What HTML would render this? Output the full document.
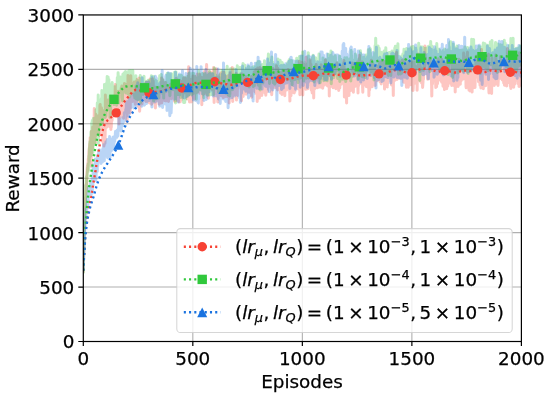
<!DOCTYPE html>
<html><head><meta charset="utf-8"><title>Reward vs Episodes</title>
<style>html,body{margin:0;padding:0;background:#fff}body{width:550px;height:395px;overflow:hidden}</style>
</head><body>
<svg width="550" height="395" viewBox="0 0 550 395" style="display:block">
<rect width="550" height="395" fill="#fff"/>
<path d="M192.82,14.95 V341.5 M302.35,14.95 V341.5 M411.88,14.95 V341.5 M83.3,287.07 H521.4 M83.3,232.65 H521.4 M83.3,178.22 H521.4 M83.3,123.80 H521.4 M83.3,69.38 H521.4" stroke="#b0b0b0" stroke-width="1.1" fill="none"/>
<clipPath id="c"><rect x="83.3" y="14.95" width="438.09999999999997" height="326.55"/></clipPath>
<g clip-path="url(#c)" fill="none" stroke-linejoin="round">
<path d="M83.3,272.6 L83.5,260.8 L83.7,255.3 L84.0,244.3 L84.2,233.9 L84.4,230.1 L84.6,222.6 L84.8,214.7 L85.1,211.5 L85.3,206.5 L85.5,197.8 L85.7,197.4 L85.9,196.7 L86.1,184.5 L86.4,189.2 L86.6,188.4 L86.8,175.9 L87.0,172.5 L87.2,168.7 L87.5,165.5 L87.7,170.7 L87.9,163.6 L88.1,161.9 L88.3,158.7 L88.6,158.5 L88.8,154.8 L89.0,151.1 L89.2,149.1 L89.4,148.1 L89.7,143.7 L89.9,160.5 L90.1,137.8 L90.3,139.0 L90.5,145.2 L90.7,150.0 L91.0,149.7 L91.2,166.3 L91.4,131.2 L91.6,155.4 L91.8,135.4 L92.1,131.2 L92.3,135.9 L92.5,148.6 L92.7,126.9 L92.9,136.6 L93.2,131.6 L93.4,130.7 L93.6,138.4 L93.8,141.8 L94.0,134.0 L94.3,108.6 L94.5,123.8 L94.7,138.7 L94.9,122.6 L95.1,120.2 L95.3,143.3 L95.6,114.0 L95.8,130.5 L96.0,132.3 L96.2,126.4 L96.4,115.9 L96.7,126.2 L96.9,126.6 L97.1,120.0 L97.3,129.8 L97.5,120.2 L97.8,115.9 L98.0,131.7 L98.2,119.3 L98.4,128.0 L98.6,134.8 L98.9,125.8 L99.1,115.4 L99.3,135.5 L99.5,131.8 L99.7,119.0 L99.9,105.6 L100.2,104.5 L100.4,127.3 L100.6,109.7 L100.8,126.0 L101.0,112.1 L101.3,121.8 L101.5,107.7 L101.7,127.8 L101.9,119.3 L102.1,122.2 L102.4,120.6 L102.6,116.0 L102.8,141.7 L103.0,110.4 L103.2,128.2 L103.5,143.7 L103.7,137.9 L103.9,145.9 L104.1,144.8 L104.3,128.0 L104.5,130.7 L104.8,114.8 L105.0,143.2 L105.2,128.4 L105.4,95.1 L105.6,117.5 L105.9,119.8 L106.1,112.8 L106.3,119.7 L106.5,113.6 L106.7,127.2 L107.0,108.7 L107.2,106.3 L107.4,108.2 L107.6,119.4 L107.8,105.0 L108.1,100.1 L108.3,104.6 L108.5,112.2 L108.7,123.3 L108.9,102.9 L109.1,108.6 L109.4,126.6 L109.6,126.6 L109.8,122.1 L110.0,107.6 L110.2,96.3 L110.5,118.8 L110.7,98.0 L110.9,129.4 L111.1,113.9 L111.3,127.1 L111.6,111.7 L111.8,113.7 L112.0,120.8 L112.2,113.2 L112.4,108.9 L112.7,105.4 L112.9,109.2 L113.1,111.6 L113.3,103.9 L113.5,101.9 L113.7,111.6 L114.0,113.4 L114.2,108.4 L114.4,108.4 L114.6,107.5 L114.8,101.6 L115.1,95.3 L115.3,84.6 L115.5,110.7 L115.7,105.0 L115.9,112.7 L116.2,102.9 L116.4,108.1 L116.6,115.0 L116.8,105.5 L117.0,115.6 L117.3,100.9 L117.5,105.1 L117.7,103.0 L117.9,113.9 L118.1,105.4 L118.3,91.3 L118.6,118.1 L118.8,113.1 L119.0,124.1 L119.2,110.8 L119.4,114.8 L119.7,96.1 L119.9,111.4 L120.1,104.2 L120.3,107.8 L120.5,117.2 L120.8,90.4 L121.0,111.7 L121.2,87.9 L121.4,92.1 L121.6,88.1 L121.9,85.9 L122.1,101.8 L122.3,114.2 L122.5,101.9 L122.7,91.9 L122.9,99.5 L123.2,101.7 L123.4,94.6 L123.6,118.2 L123.8,98.3 L124.0,100.9 L124.3,100.0 L124.5,83.6 L124.7,111.3 L124.9,96.0 L125.1,91.4 L125.4,88.1 L125.6,93.5 L125.8,98.2 L126.0,84.5 L126.2,90.0 L126.5,112.9 L126.7,96.2 L126.9,121.6 L127.1,121.0 L127.3,97.0 L127.5,99.9 L127.8,109.3 L128.0,75.4 L128.2,110.3 L128.4,101.5 L128.6,86.5 L128.9,79.1 L129.1,100.0 L129.3,92.3 L129.5,112.6 L129.7,95.0 L130.0,93.9 L130.2,112.9 L130.4,92.7 L130.6,85.1 L130.8,75.8 L131.1,91.2 L131.3,92.4 L131.5,100.2 L131.7,86.3 L131.9,90.2 L132.1,85.3 L132.4,91.1 L132.6,101.5 L132.8,96.2 L133.0,98.7 L133.2,83.6 L133.5,91.5 L133.7,85.9 L133.9,84.8 L134.1,87.1 L134.3,81.9 L134.6,98.8 L134.8,98.1 L135.0,89.6 L135.2,101.8 L135.4,104.3 L135.7,86.3 L135.9,86.3 L136.1,82.0 L136.3,87.9 L136.5,81.2 L136.7,89.4 L137.0,88.2 L137.2,79.3 L137.4,98.9 L137.6,90.4 L137.8,96.1 L138.1,85.5 L138.3,99.1 L138.5,98.1 L138.7,107.0 L138.9,98.3 L139.2,78.0 L139.4,99.1 L139.6,111.2 L139.8,107.7 L140.0,84.7 L140.3,92.9 L140.5,96.1 L140.7,94.7 L140.9,84.2 L141.1,84.7 L141.3,95.6 L141.6,101.4 L141.8,87.3 L142.0,103.9 L142.2,88.1 L142.4,95.6 L142.7,90.1 L142.9,88.3 L143.1,99.3 L143.3,93.1 L143.5,86.4 L143.8,93.8 L144.0,91.5 L144.2,87.9 L144.4,100.1 L144.6,83.9 L144.9,84.7 L145.1,84.0 L145.3,91.7 L145.5,99.8 L145.7,96.2 L145.9,92.6 L146.2,101.6 L146.4,81.9 L146.6,94.7 L146.8,92.9 L147.0,91.2 L147.3,91.9 L147.5,82.3 L147.7,91.5 L147.9,101.3 L148.1,100.8 L148.4,92.1 L148.6,97.7 L148.8,89.1 L149.0,98.7 L149.2,98.9 L149.5,102.9 L149.7,100.0 L149.9,80.4 L150.1,78.9 L150.3,88.3 L150.5,93.8 L150.8,97.5 L151.0,96.4 L151.2,92.2 L151.4,103.7 L151.6,104.1 L151.9,95.9 L152.1,89.7 L152.3,89.6 L152.5,78.8 L152.7,91.8 L153.0,86.3 L153.2,80.9 L153.4,87.8 L153.6,92.9 L153.8,87.1 L154.1,91.8 L154.3,87.9 L154.5,103.0 L154.7,97.7 L154.9,98.4 L155.1,100.4 L155.4,108.0 L155.6,96.1 L155.8,87.2 L156.0,90.6 L156.2,99.8 L156.5,89.5 L156.7,91.9 L156.9,100.2 L157.1,88.6 L157.3,94.9 L157.6,94.0 L157.8,98.2 L158.0,88.2 L158.2,98.8 L158.4,91.5 L158.7,96.0 L158.9,87.3 L159.1,104.2 L159.3,102.8 L159.5,95.0 L159.7,97.9 L160.0,96.1 L160.2,98.4 L160.4,97.4 L160.6,88.7 L160.8,91.1 L161.1,88.7 L161.3,88.5 L161.5,78.0 L161.7,103.0 L161.9,93.3 L162.2,93.5 L162.4,94.7 L162.6,79.7 L162.8,83.5 L163.0,94.6 L163.3,87.7 L163.5,91.2 L163.7,87.2 L163.9,94.7 L164.1,90.6 L164.3,87.4 L164.6,100.6 L164.8,87.6 L165.0,93.2 L165.2,99.6 L165.4,96.0 L165.7,82.4 L165.9,101.1 L166.1,86.7 L166.3,100.5 L166.5,90.6 L166.8,86.9 L167.0,91.7 L167.2,90.3 L167.4,91.1 L167.6,87.6 L167.9,88.8 L168.1,95.7 L168.3,94.6 L168.5,101.4 L168.7,99.4 L168.9,89.6 L169.2,90.4 L169.4,92.5 L169.6,93.7 L169.8,94.3 L170.0,88.1 L170.3,93.1 L170.5,84.3 L170.7,92.7 L170.9,92.6 L171.1,91.7 L171.4,98.8 L171.6,84.1 L171.8,87.3 L172.0,92.9 L172.2,90.1 L172.5,86.4 L172.7,95.9 L172.9,87.9 L173.1,87.2 L173.3,87.3 L173.5,85.1 L173.8,82.2 L174.0,88.0 L174.2,82.0 L174.4,101.2 L174.6,92.4 L174.9,97.4 L175.1,99.2 L175.3,91.6 L175.5,79.7 L175.7,101.0 L176.0,88.7 L176.2,78.4 L176.4,89.7 L176.6,93.5 L176.8,98.2 L177.1,90.0 L177.3,100.3 L177.5,90.9 L177.7,80.1 L177.9,84.9 L178.1,88.8 L178.4,90.3 L178.6,90.3 L178.8,101.2 L179.0,94.5 L179.2,102.0 L179.5,99.2 L179.7,95.9 L179.9,80.2 L180.1,94.2 L180.3,101.7 L180.6,86.5 L180.8,84.7 L181.0,94.9 L181.2,99.6 L181.4,99.4 L181.7,90.6 L181.9,81.6 L182.1,91.8 L182.3,98.1 L182.5,86.9 L182.7,96.1 L183.0,86.4 L183.2,92.2 L183.4,84.6 L183.6,78.0 L183.8,83.9 L184.1,90.7 L184.3,82.3 L184.5,86.8 L184.7,90.9 L184.9,86.3 L185.2,87.3 L185.4,77.9 L185.6,93.3 L185.8,87.6 L186.0,90.4 L186.3,93.5 L186.5,86.8 L186.7,90.1 L186.9,97.4 L187.1,98.9 L187.3,91.9 L187.6,95.0 L187.8,91.9 L188.0,85.5 L188.2,88.7 L188.4,93.8 L188.7,66.8 L188.9,91.8 L189.1,88.9 L189.3,87.1 L189.5,102.1 L189.8,83.5 L190.0,87.7 L190.2,89.1 L190.4,81.0 L190.6,96.3 L190.9,88.6 L191.1,101.9 L191.3,95.6 L191.5,79.2 L191.7,95.2 L191.9,97.6 L192.2,88.8 L192.4,85.5 L192.6,94.1 L192.8,96.1 L193.0,76.0 L193.3,86.0 L193.5,90.7 L193.7,93.1 L193.9,86.4 L194.1,86.1 L194.4,89.0 L194.6,99.1 L194.8,83.6 L195.0,93.3 L195.2,76.5 L195.5,85.0 L195.7,83.9 L195.9,88.1 L196.1,93.0 L196.3,79.3 L196.5,77.8 L196.8,75.8 L197.0,85.4 L197.2,92.0 L197.4,74.1 L197.6,84.8 L197.9,88.5 L198.1,92.2 L198.3,74.9 L198.5,80.5 L198.7,80.8 L199.0,92.6 L199.2,89.3 L199.4,93.3 L199.6,74.1 L199.8,80.9 L200.1,80.2 L200.3,90.2 L200.5,79.8 L200.7,92.0 L200.9,92.9 L201.1,84.3 L201.4,87.2 L201.6,77.2 L201.8,104.8 L202.0,89.0 L202.2,78.1 L202.5,95.5 L202.7,80.8 L202.9,86.5 L203.1,85.7 L203.3,94.0 L203.6,88.3 L203.8,90.8 L204.0,81.0 L204.2,88.0 L204.4,71.4 L204.7,81.6 L204.9,72.7 L205.1,87.7 L205.3,89.5 L205.5,82.2 L205.7,79.4 L206.0,94.1 L206.2,79.6 L206.4,80.1 L206.6,64.5 L206.8,78.0 L207.1,72.9 L207.3,83.6 L207.5,72.7 L207.7,97.5 L207.9,84.1 L208.2,82.4 L208.4,98.3 L208.6,77.4 L208.8,77.4 L209.0,72.9 L209.3,89.4 L209.5,85.4 L209.7,71.7 L209.9,85.1 L210.1,81.2 L210.3,78.1 L210.6,83.2 L210.8,83.0 L211.0,86.6 L211.2,85.0 L211.4,82.7 L211.7,78.0 L211.9,75.2 L212.1,72.1 L212.3,76.2 L212.5,89.7 L212.8,86.6 L213.0,85.1 L213.2,77.5 L213.4,84.9 L213.6,67.6 L213.9,70.3 L214.1,102.6 L214.3,84.5 L214.5,79.9 L214.7,90.8 L214.9,93.8 L215.2,83.9 L215.4,89.1 L215.6,73.0 L215.8,73.7 L216.0,85.0 L216.3,69.1 L216.5,73.9 L216.7,69.0 L216.9,75.2 L217.1,75.6 L217.4,80.1 L217.6,93.2 L217.8,101.9 L218.0,82.3 L218.2,98.4 L218.5,83.9 L218.7,91.1 L218.9,89.1 L219.1,85.9 L219.3,90.0 L219.5,88.8 L219.8,93.5 L220.0,78.9 L220.2,74.7 L220.4,77.7 L220.6,73.1 L220.9,90.2 L221.1,95.8 L221.3,86.7 L221.5,81.6 L221.7,81.5 L222.0,83.9 L222.2,89.3 L222.4,91.9 L222.6,72.3 L222.8,84.0 L223.1,95.4 L223.3,97.6 L223.5,87.3 L223.7,82.7 L223.9,87.6 L224.1,72.6 L224.4,81.9 L224.6,77.4 L224.8,81.7 L225.0,83.5 L225.2,94.7 L225.5,76.5 L225.7,96.4 L225.9,90.5 L226.1,89.0 L226.3,76.7 L226.6,82.0 L226.8,91.3 L227.0,77.5 L227.2,96.5 L227.4,79.5 L227.7,91.9 L227.9,77.9 L228.1,88.5 L228.3,75.8 L228.5,79.9 L228.7,88.8 L229.0,76.1 L229.2,103.0 L229.4,89.4 L229.6,76.6 L229.8,86.3 L230.1,73.1 L230.3,81.1 L230.5,86.7 L230.7,75.4 L230.9,89.1 L231.2,92.9 L231.4,84.8 L231.6,86.9 L231.8,93.0 L232.0,91.7 L232.3,67.6 L232.5,76.8 L232.7,101.6 L232.9,83.8 L233.1,82.6 L233.3,95.5 L233.6,84.5 L233.8,93.9 L234.0,84.5 L234.2,79.9 L234.4,91.6 L234.7,82.9 L234.9,84.0 L235.1,89.3 L235.3,94.6 L235.5,94.8 L235.8,84.6 L236.0,88.5 L236.2,73.2 L236.4,100.1 L236.6,91.7 L236.9,93.0 L237.1,75.9 L237.3,95.8 L237.5,78.6 L237.7,86.8 L237.9,88.7 L238.2,78.3 L238.4,80.2 L238.6,81.3 L238.8,84.3 L239.0,77.3 L239.3,82.5 L239.5,82.7 L239.7,79.4 L239.9,81.6 L240.1,83.1 L240.4,85.5 L240.6,83.8 L240.8,84.3 L241.0,86.3 L241.2,86.0 L241.5,100.7 L241.7,74.0 L241.9,90.4 L242.1,73.9 L242.3,84.7 L242.5,94.2 L242.8,81.7 L243.0,79.1 L243.2,96.4 L243.4,80.3 L243.6,83.5 L243.9,92.3 L244.1,77.1 L244.3,88.1 L244.5,84.5 L244.7,83.7 L245.0,84.6 L245.2,89.6 L245.4,76.2 L245.6,82.4 L245.8,76.9 L246.1,94.2 L246.3,85.1 L246.5,84.4 L246.7,92.8 L246.9,91.2 L247.1,78.2 L247.4,87.6 L247.6,80.1 L247.8,78.8 L248.0,86.9 L248.2,83.5 L248.5,82.7 L248.7,87.7 L248.9,92.2 L249.1,81.1 L249.3,90.6 L249.6,92.2 L249.8,83.7 L250.0,79.4 L250.2,91.3 L250.4,85.2 L250.7,83.0 L250.9,81.7 L251.1,81.7 L251.3,89.9 L251.5,76.6 L251.7,97.3 L252.0,81.1 L252.2,87.1 L252.4,83.4 L252.6,77.9 L252.8,81.8 L253.1,75.7 L253.3,77.6 L253.5,84.0 L253.7,76.6 L253.9,84.2 L254.2,72.1 L254.4,79.6 L254.6,88.3 L254.8,83.2 L255.0,91.7 L255.3,80.4 L255.5,72.7 L255.7,76.6 L255.9,69.5 L256.1,83.8 L256.3,93.6 L256.6,72.5 L256.8,91.7 L257.0,86.0 L257.2,101.5 L257.4,87.0 L257.7,68.1 L257.9,87.4 L258.1,73.5 L258.3,76.6 L258.5,87.9 L258.8,87.6 L259.0,77.5 L259.2,78.0 L259.4,98.1 L259.6,81.9 L259.9,67.6 L260.1,81.3 L260.3,77.0 L260.5,77.2 L260.7,88.3 L260.9,93.4 L261.2,89.5 L261.4,83.8 L261.6,80.3 L261.8,95.4 L262.0,82.7 L262.3,86.0 L262.5,76.7 L262.7,85.6 L262.9,87.7 L263.1,67.5 L263.4,81.5 L263.6,82.6 L263.8,78.9 L264.0,79.1 L264.2,89.2 L264.5,86.8 L264.7,85.2 L264.9,93.1 L265.1,79.6 L265.3,87.0 L265.5,78.3 L265.8,95.3 L266.0,78.9 L266.2,81.3 L266.4,80.3 L266.6,73.9 L266.9,91.9 L267.1,69.3 L267.3,79.7 L267.5,91.1 L267.7,89.2 L268.0,75.9 L268.2,87.7 L268.4,68.6 L268.6,81.8 L268.8,83.2 L269.1,85.4 L269.3,85.6 L269.5,84.7 L269.7,81.6 L269.9,72.6 L270.1,74.5 L270.4,81.8 L270.6,75.7 L270.8,81.6 L271.0,76.5 L271.2,71.3 L271.5,86.3 L271.7,94.8 L271.9,89.4 L272.1,81.4 L272.3,83.8 L272.6,71.8 L272.8,68.3 L273.0,71.4 L273.2,78.7 L273.4,77.9 L273.7,84.2 L273.9,79.1 L274.1,84.4 L274.3,87.3 L274.5,75.0 L274.7,79.7 L275.0,86.2 L275.2,72.7 L275.4,74.4 L275.6,76.0 L275.8,79.4 L276.1,87.8 L276.3,71.3 L276.5,65.8 L276.7,81.7 L276.9,87.8 L277.2,80.2 L277.4,77.2 L277.6,90.1 L277.8,68.3 L278.0,84.0 L278.3,81.0 L278.5,74.1 L278.7,83.8 L278.9,89.1 L279.1,78.7 L279.3,78.0 L279.6,82.9 L279.8,76.5 L280.0,77.4 L280.2,75.4 L280.4,93.1 L280.7,83.2 L280.9,72.6 L281.1,89.5 L281.3,83.7 L281.5,79.8 L281.8,85.7 L282.0,94.5 L282.2,91.6 L282.4,76.9 L282.6,75.5 L282.9,70.2 L283.1,88.3 L283.3,81.2 L283.5,80.5 L283.7,75.6 L283.9,86.8 L284.2,73.7 L284.4,86.8 L284.6,77.8 L284.8,95.7 L285.0,82.4 L285.3,89.9 L285.5,70.4 L285.7,87.2 L285.9,79.6 L286.1,79.4 L286.4,72.7 L286.6,90.0 L286.8,88.7 L287.0,86.4 L287.2,82.2 L287.5,84.9 L287.7,88.5 L287.9,79.6 L288.1,69.5 L288.3,71.9 L288.5,76.0 L288.8,77.7 L289.0,72.1 L289.2,73.9 L289.4,89.4 L289.6,85.6 L289.9,101.1 L290.1,75.7 L290.3,84.6 L290.5,85.5 L290.7,77.7 L291.0,95.7 L291.2,78.4 L291.4,78.9 L291.6,93.0 L291.8,76.5 L292.1,69.9 L292.3,83.3 L292.5,75.3 L292.7,79.8 L292.9,86.8 L293.1,73.4 L293.4,73.3 L293.6,88.2 L293.8,80.9 L294.0,74.2 L294.2,92.9 L294.5,86.3 L294.7,80.0 L294.9,91.5 L295.1,87.9 L295.3,88.2 L295.6,87.7 L295.8,81.4 L296.0,81.0 L296.2,67.2 L296.4,77.3 L296.7,87.0 L296.9,73.3 L297.1,76.9 L297.3,66.8 L297.5,72.2 L297.7,78.7 L298.0,75.9 L298.2,89.0 L298.4,79.3 L298.6,79.3 L298.8,87.7 L299.1,79.7 L299.3,61.3 L299.5,87.2 L299.7,66.4 L299.9,94.7 L300.2,77.5 L300.4,72.1 L300.6,81.0 L300.8,81.9 L301.0,91.3 L301.3,90.1 L301.5,80.9 L301.7,70.0 L301.9,71.3 L302.1,62.2 L302.3,80.5 L302.6,82.8 L302.8,95.0 L303.0,78.3 L303.2,82.4 L303.4,73.2 L303.7,70.9 L303.9,64.2 L304.1,79.8 L304.3,85.3 L304.5,77.2 L304.8,81.4 L305.0,75.5 L305.2,67.0 L305.4,77.7 L305.6,84.3 L305.9,89.3 L306.1,57.2 L306.3,67.8 L306.5,80.8 L306.7,75.2 L307.0,68.9 L307.2,78.0 L307.4,76.6 L307.6,87.1 L307.8,88.8 L308.0,76.4 L308.3,74.0 L308.5,73.5 L308.7,70.1 L308.9,72.5 L309.1,69.8 L309.4,75.1 L309.6,72.7 L309.8,84.7 L310.0,59.7 L310.2,77.9 L310.5,69.2 L310.7,76.0 L310.9,64.3 L311.1,87.7 L311.3,90.2 L311.6,83.5 L311.8,82.7 L312.0,79.4 L312.2,93.0 L312.4,74.0 L312.6,71.6 L312.9,76.5 L313.1,82.7 L313.3,89.6 L313.5,75.9 L313.7,98.1 L314.0,69.8 L314.2,89.6 L314.4,84.8 L314.6,81.2 L314.8,77.4 L315.1,88.4 L315.3,68.3 L315.5,77.9 L315.7,70.2 L315.9,75.0 L316.2,64.5 L316.4,76.6 L316.6,75.6 L316.8,83.8 L317.0,70.2 L317.2,80.0 L317.5,87.7 L317.7,70.2 L317.9,74.2 L318.1,81.1 L318.3,87.1 L318.6,79.5 L318.8,84.6 L319.0,79.5 L319.2,74.9 L319.4,74.0 L319.7,68.0 L319.9,86.6 L320.1,77.9 L320.3,78.6 L320.5,87.1 L320.8,75.2 L321.0,75.8 L321.2,64.8 L321.4,73.9 L321.6,71.5 L321.8,87.6 L322.1,78.0 L322.3,76.1 L322.5,75.4 L322.7,88.2 L322.9,79.5 L323.2,71.2 L323.4,79.5 L323.6,73.0 L323.8,82.3 L324.0,75.6 L324.3,70.9 L324.5,85.1 L324.7,83.5 L324.9,67.8 L325.1,68.0 L325.4,60.1 L325.6,78.2 L325.8,66.0 L326.0,82.2 L326.2,70.3 L326.4,78.3 L326.7,80.6 L326.9,76.3 L327.1,74.8 L327.3,72.7 L327.5,86.1 L327.8,85.5 L328.0,80.5 L328.2,83.4 L328.4,73.3 L328.6,68.5 L328.9,68.1 L329.1,77.8 L329.3,96.1 L329.5,69.2 L329.7,65.7 L330.0,73.2 L330.2,78.3 L330.4,86.6 L330.6,76.6 L330.8,78.0 L331.0,64.4 L331.3,79.1 L331.5,65.8 L331.7,71.1 L331.9,73.6 L332.1,86.5 L332.4,81.7 L332.6,83.7 L332.8,67.6 L333.0,84.1 L333.2,87.8 L333.5,78.3 L333.7,74.0 L333.9,84.0 L334.1,80.6 L334.3,79.3 L334.6,84.0 L334.8,70.2 L335.0,66.8 L335.2,71.3 L335.4,71.1 L335.6,70.8 L335.9,88.7 L336.1,77.8 L336.3,84.1 L336.5,76.0 L336.7,69.0 L337.0,63.0 L337.2,69.4 L337.4,84.6 L337.6,76.8 L337.8,73.0 L338.1,83.1 L338.3,83.5 L338.5,72.4 L338.7,90.5 L338.9,84.4 L339.2,71.2 L339.4,80.7 L339.6,82.5 L339.8,88.0 L340.0,69.2 L340.2,80.5 L340.5,79.2 L340.7,71.8 L340.9,71.5 L341.1,75.1 L341.3,84.3 L341.6,66.1 L341.8,67.3 L342.0,70.8 L342.2,75.6 L342.4,72.0 L342.7,65.7 L342.9,78.8 L343.1,75.1 L343.3,80.9 L343.5,71.1 L343.8,60.5 L344.0,62.2 L344.2,74.5 L344.4,96.9 L344.6,71.5 L344.8,76.6 L345.1,76.9 L345.3,87.6 L345.5,75.0 L345.7,70.0 L345.9,88.1 L346.2,92.9 L346.4,91.3 L346.6,103.0 L346.8,73.0 L347.0,83.2 L347.3,75.6 L347.5,74.5 L347.7,76.3 L347.9,69.3 L348.1,84.1 L348.4,74.2 L348.6,94.2 L348.8,87.4 L349.0,95.6 L349.2,76.8 L349.4,83.4 L349.7,74.2 L349.9,76.8 L350.1,79.5 L350.3,77.5 L350.5,76.8 L350.8,90.5 L351.0,77.2 L351.2,89.0 L351.4,80.6 L351.6,81.4 L351.9,77.9 L352.1,62.9 L352.3,67.7 L352.5,77.6 L352.7,81.3 L353.0,89.0 L353.2,77.6 L353.4,92.2 L353.6,67.4 L353.8,74.2 L354.0,71.1 L354.3,63.2 L354.5,68.6 L354.7,69.6 L354.9,78.1 L355.1,83.2 L355.4,86.2 L355.6,67.3 L355.8,75.8 L356.0,72.8 L356.2,76.3 L356.5,64.9 L356.7,73.6 L356.9,78.4 L357.1,80.9 L357.3,74.2 L357.6,61.9 L357.8,73.6 L358.0,93.0 L358.2,70.8 L358.4,68.0 L358.6,85.8 L358.9,67.0 L359.1,75.8 L359.3,65.2 L359.5,55.2 L359.7,71.9 L360.0,83.4 L360.2,71.7 L360.4,68.2 L360.6,73.7 L360.8,71.3 L361.1,62.0 L361.3,79.8 L361.5,72.1 L361.7,83.1 L361.9,77.4 L362.2,62.0 L362.4,65.8 L362.6,87.5 L362.8,92.3 L363.0,76.2 L363.2,68.3 L363.5,77.0 L363.7,77.7 L363.9,81.3 L364.1,84.6 L364.3,79.5 L364.6,76.6 L364.8,70.3 L365.0,65.7 L365.2,76.6 L365.4,76.2 L365.7,81.1 L365.9,74.2 L366.1,86.4 L366.3,69.4 L366.5,86.2 L366.8,76.1 L367.0,84.9 L367.2,80.4 L367.4,86.1 L367.6,81.0 L367.8,87.2 L368.1,77.5 L368.3,84.9 L368.5,81.8 L368.7,76.7 L368.9,95.7 L369.2,83.1 L369.4,79.0 L369.6,89.9 L369.8,84.4 L370.0,87.9 L370.3,74.5 L370.5,64.1 L370.7,69.3 L370.9,62.5 L371.1,63.0 L371.4,60.3 L371.6,67.8 L371.8,81.0 L372.0,75.1 L372.2,86.7 L372.4,73.9 L372.7,70.3 L372.9,67.4 L373.1,77.7 L373.3,64.6 L373.5,81.9 L373.8,79.0 L374.0,81.8 L374.2,80.5 L374.4,73.7 L374.6,75.9 L374.9,68.7 L375.1,85.4 L375.3,67.8 L375.5,72.0 L375.7,74.2 L376.0,74.0 L376.2,66.0 L376.4,68.3 L376.6,76.9 L376.8,69.3 L377.0,80.7 L377.3,68.0 L377.5,79.7 L377.7,68.5 L377.9,73.5 L378.1,78.5 L378.4,79.0 L378.6,67.5 L378.8,65.8 L379.0,78.3 L379.2,78.7 L379.5,62.1 L379.7,69.4 L379.9,68.4 L380.1,81.9 L380.3,79.5 L380.6,64.1 L380.8,80.5 L381.0,62.6 L381.2,84.0 L381.4,61.7 L381.6,75.4 L381.9,72.2 L382.1,77.0 L382.3,72.0 L382.5,80.7 L382.7,67.0 L383.0,71.7 L383.2,77.3 L383.4,61.3 L383.6,73.7 L383.8,76.6 L384.1,79.5 L384.3,62.3 L384.5,89.1 L384.7,79.0 L384.9,80.4 L385.2,67.2 L385.4,66.0 L385.6,63.5 L385.8,61.3 L386.0,70.1 L386.2,79.5 L386.5,63.6 L386.7,69.4 L386.9,80.6 L387.1,79.3 L387.3,86.9 L387.6,67.4 L387.8,83.2 L388.0,75.6 L388.2,81.8 L388.4,66.5 L388.7,74.0 L388.9,68.9 L389.1,63.6 L389.3,59.6 L389.5,70.1 L389.8,65.7 L390.0,66.2 L390.2,63.2 L390.4,74.2 L390.6,71.0 L390.8,67.8 L391.1,61.6 L391.3,63.6 L391.5,84.9 L391.7,83.3 L391.9,58.1 L392.2,73.9 L392.4,76.1 L392.6,73.5 L392.8,65.3 L393.0,76.0 L393.3,95.6 L393.5,74.1 L393.7,75.1 L393.9,81.3 L394.1,75.3 L394.4,74.1 L394.6,79.7 L394.8,58.4 L395.0,80.2 L395.2,63.6 L395.4,64.8 L395.7,70.6 L395.9,70.3 L396.1,78.0 L396.3,54.8 L396.5,52.3 L396.8,67.8 L397.0,79.4 L397.2,67.8 L397.4,62.7 L397.6,74.4 L397.9,75.5 L398.1,60.5 L398.3,69.3 L398.5,77.7 L398.7,78.1 L399.0,65.5 L399.2,77.3 L399.4,66.1 L399.6,66.5 L399.8,62.1 L400.0,77.2 L400.3,76.0 L400.5,70.1 L400.7,65.9 L400.9,78.5 L401.1,73.2 L401.4,70.5 L401.6,69.2 L401.8,70.5 L402.0,69.4 L402.2,60.2 L402.5,66.7 L402.7,74.8 L402.9,67.0 L403.1,64.8 L403.3,68.2 L403.6,73.3 L403.8,82.2 L404.0,80.9 L404.2,82.1 L404.4,61.5 L404.6,62.8 L404.9,59.7 L405.1,67.5 L405.3,79.6 L405.5,63.8 L405.7,70.6 L406.0,79.3 L406.2,80.8 L406.4,87.2 L406.6,72.3 L406.8,71.0 L407.1,78.3 L407.3,82.0 L407.5,71.1 L407.7,74.0 L407.9,74.8 L408.2,87.2 L408.4,65.2 L408.6,74.0 L408.8,61.4 L409.0,71.8 L409.2,76.0 L409.5,85.1 L409.7,75.9 L409.9,61.0 L410.1,66.9 L410.3,71.5 L410.6,84.6 L410.8,80.3 L411.0,73.8 L411.2,72.2 L411.4,65.9 L411.7,67.4 L411.9,62.2 L412.1,80.2 L412.3,72.0 L412.5,81.3 L412.8,75.3 L413.0,90.4 L413.2,87.6 L413.4,73.3 L413.6,80.9 L413.8,61.8 L414.1,61.8 L414.3,69.1 L414.5,65.0 L414.7,76.6 L414.9,83.2 L415.2,74.3 L415.4,66.2 L415.6,70.0 L415.8,76.3 L416.0,76.6 L416.3,73.1 L416.5,81.6 L416.7,71.1 L416.9,68.8 L417.1,90.3 L417.4,75.9 L417.6,72.9 L417.8,70.1 L418.0,76.8 L418.2,71.1 L418.4,54.0 L418.7,74.1 L418.9,78.8 L419.1,79.4 L419.3,65.2 L419.5,58.7 L419.8,55.9 L420.0,69.9 L420.2,65.5 L420.4,81.6 L420.6,70.4 L420.9,71.2 L421.1,75.9 L421.3,79.1 L421.5,82.9 L421.7,69.6 L422.0,68.4 L422.2,82.7 L422.4,74.7 L422.6,87.5 L422.8,85.0 L423.0,82.2 L423.3,75.6 L423.5,79.2 L423.7,74.8 L423.9,69.3 L424.1,62.8 L424.4,65.5 L424.6,60.1 L424.8,61.8 L425.0,46.1 L425.2,58.9 L425.5,57.3 L425.7,66.2 L425.9,60.6 L426.1,60.8 L426.3,66.3 L426.6,65.6 L426.8,64.1 L427.0,74.5 L427.2,71.6 L427.4,71.4 L427.6,79.2 L427.9,75.0 L428.1,72.9 L428.3,73.0 L428.5,65.8 L428.7,77.3 L429.0,69.7 L429.2,78.8 L429.4,63.4 L429.6,58.3 L429.8,71.9 L430.1,58.5 L430.3,66.2 L430.5,68.3 L430.7,71.3 L430.9,67.3 L431.2,74.8 L431.4,78.4 L431.6,85.4 L431.8,96.1 L432.0,76.0 L432.2,75.9 L432.5,84.0 L432.7,69.5 L432.9,69.9 L433.1,76.8 L433.3,81.3 L433.6,61.5 L433.8,76.9 L434.0,70.5 L434.2,68.1 L434.4,65.8 L434.7,76.3 L434.9,76.9 L435.1,67.2 L435.3,62.3 L435.5,78.8 L435.8,87.6 L436.0,74.8 L436.2,75.6 L436.4,76.2 L436.6,86.8 L436.8,78.6 L437.1,69.9 L437.3,62.2 L437.5,83.8 L437.7,71.6 L437.9,59.9 L438.2,73.8 L438.4,58.7 L438.6,73.2 L438.8,73.0 L439.0,77.3 L439.3,79.5 L439.5,79.2 L439.7,77.5 L439.9,76.3 L440.1,74.4 L440.4,80.1 L440.6,67.5 L440.8,70.9 L441.0,81.1 L441.2,68.1 L441.4,61.0 L441.7,82.3 L441.9,59.5 L442.1,69.7 L442.3,78.6 L442.5,69.9 L442.8,73.0 L443.0,86.2 L443.2,62.9 L443.4,67.4 L443.6,69.3 L443.9,69.6 L444.1,66.3 L444.3,84.9 L444.5,89.6 L444.7,76.8 L445.0,78.4 L445.2,72.9 L445.4,63.4 L445.6,67.5 L445.8,79.3 L446.0,87.7 L446.3,65.2 L446.5,71.6 L446.7,88.8 L446.9,72.7 L447.1,66.7 L447.4,77.4 L447.6,58.1 L447.8,86.1 L448.0,78.6 L448.2,76.3 L448.5,69.2 L448.7,64.2 L448.9,73.8 L449.1,59.5 L449.3,62.9 L449.6,57.9 L449.8,59.8 L450.0,82.2 L450.2,83.1 L450.4,57.9 L450.6,65.2 L450.9,58.2 L451.1,72.6 L451.3,70.4 L451.5,82.6 L451.7,85.5 L452.0,83.1 L452.2,84.4 L452.4,84.3 L452.6,65.7 L452.8,70.9 L453.1,68.3 L453.3,63.9 L453.5,73.1 L453.7,78.2 L453.9,71.4 L454.2,75.2 L454.4,86.0 L454.6,65.7 L454.8,72.2 L455.0,61.3 L455.2,92.0 L455.5,65.2 L455.7,81.6 L455.9,86.9 L456.1,78.9 L456.3,75.8 L456.6,80.4 L456.8,65.1 L457.0,67.8 L457.2,84.4 L457.4,73.2 L457.7,82.9 L457.9,72.9 L458.1,86.5 L458.3,69.5 L458.5,85.5 L458.8,80.1 L459.0,59.3 L459.2,80.0 L459.4,83.9 L459.6,77.7 L459.8,63.7 L460.1,66.4 L460.3,84.3 L460.5,73.7 L460.7,76.5 L460.9,81.1 L461.2,71.2 L461.4,80.3 L461.6,63.3 L461.8,67.4 L462.0,73.8 L462.3,73.4 L462.5,70.5 L462.7,66.2 L462.9,64.3 L463.1,79.1 L463.4,74.7 L463.6,52.9 L463.8,54.0 L464.0,70.1 L464.2,76.2 L464.4,69.6 L464.7,73.9 L464.9,77.7 L465.1,59.1 L465.3,67.7 L465.5,71.1 L465.8,66.7 L466.0,86.6 L466.2,87.7 L466.4,85.1 L466.6,76.4 L466.9,56.7 L467.1,75.2 L467.3,61.2 L467.5,52.2 L467.7,81.2 L468.0,72.5 L468.2,61.9 L468.4,59.2 L468.6,74.2 L468.8,87.9 L469.0,90.0 L469.3,67.6 L469.5,69.6 L469.7,79.8 L469.9,91.0 L470.1,75.5 L470.4,81.6 L470.6,66.6 L470.8,67.7 L471.0,77.2 L471.2,68.7 L471.5,81.9 L471.7,81.4 L471.9,85.6 L472.1,92.1 L472.3,73.5 L472.6,65.3 L472.8,71.7 L473.0,72.9 L473.2,80.6 L473.4,87.7 L473.6,71.1 L473.9,69.6 L474.1,67.9 L474.3,76.1 L474.5,74.2 L474.7,76.6 L475.0,87.5 L475.2,78.6 L475.4,70.2 L475.6,71.0 L475.8,65.3 L476.1,57.7 L476.3,76.2 L476.5,67.6 L476.7,55.9 L476.9,71.5 L477.2,71.4 L477.4,72.8 L477.6,77.2 L477.8,73.7 L478.0,63.7 L478.2,72.7 L478.5,81.8 L478.7,60.3 L478.9,79.5 L479.1,69.7 L479.3,77.8 L479.6,66.7 L479.8,74.5 L480.0,85.1 L480.2,71.3 L480.4,73.7 L480.7,84.7 L480.9,88.0 L481.1,76.5 L481.3,84.9 L481.5,49.5 L481.8,64.3 L482.0,75.6 L482.2,75.0 L482.4,78.1 L482.6,72.0 L482.8,85.7 L483.1,70.3 L483.3,88.7 L483.5,73.4 L483.7,64.1 L483.9,68.0 L484.2,61.8 L484.4,72.2 L484.6,67.6 L484.8,81.5 L485.0,78.7 L485.3,82.4 L485.5,85.7 L485.7,85.7 L485.9,75.5 L486.1,56.1 L486.4,76.2 L486.6,81.6 L486.8,76.2 L487.0,75.3 L487.2,72.1 L487.4,73.3 L487.7,76.5 L487.9,77.6 L488.1,59.0 L488.3,79.9 L488.5,54.2 L488.8,88.6 L489.0,92.9 L489.2,67.9 L489.4,76.9 L489.6,64.9 L489.9,66.2 L490.1,86.5 L490.3,70.0 L490.5,70.4 L490.7,78.0 L491.0,76.1 L491.2,76.6 L491.4,71.2 L491.6,93.5 L491.8,79.8 L492.0,58.2 L492.3,67.8 L492.5,65.9 L492.7,71.3 L492.9,63.2 L493.1,67.3 L493.4,82.0 L493.6,73.7 L493.8,74.0 L494.0,79.3 L494.2,85.4 L494.5,63.8 L494.7,76.3 L494.9,65.2 L495.1,77.9 L495.3,84.2 L495.6,81.0 L495.8,55.1 L496.0,68.6 L496.2,81.9 L496.4,71.9 L496.6,79.1 L496.9,60.9 L497.1,81.4 L497.3,65.2 L497.5,70.3 L497.7,68.0 L498.0,85.4 L498.2,81.6 L498.4,77.6 L498.6,67.0 L498.8,73.5 L499.1,71.6 L499.3,78.6 L499.5,76.7 L499.7,77.8 L499.9,66.3 L500.2,69.2 L500.4,71.9 L500.6,56.6 L500.8,68.3 L501.0,78.5 L501.2,76.7 L501.5,70.5 L501.7,75.5 L501.9,70.9 L502.1,73.4 L502.3,80.0 L502.6,68.3 L502.8,63.7 L503.0,65.6 L503.2,75.1 L503.4,71.7 L503.7,83.0 L503.9,77.4 L504.1,60.0 L504.3,71.3 L504.5,85.3 L504.8,79.6 L505.0,68.5 L505.2,76.1 L505.4,84.4 L505.6,68.6 L505.8,64.1 L506.1,80.5 L506.3,71.0 L506.5,72.4 L506.7,85.9 L506.9,68.9 L507.2,68.2 L507.4,48.5 L507.6,83.0 L507.8,65.4 L508.0,62.4 L508.3,66.8 L508.5,75.2 L508.7,73.7 L508.9,81.4 L509.1,70.6 L509.4,73.8 L509.6,64.1 L509.8,75.0 L510.0,77.6 L510.2,66.6 L510.4,86.8 L510.7,76.0 L510.9,88.4 L511.1,76.3 L511.3,73.2 L511.5,72.3 L511.8,73.2 L512.0,82.6 L512.2,76.1 L512.4,58.8 L512.6,83.1 L512.9,61.8 L513.1,82.3 L513.3,70.5 L513.5,81.8 L513.7,87.3 L514.0,58.3 L514.2,65.9 L514.4,73.2 L514.6,84.3 L514.8,69.4 L515.0,81.0 L515.3,73.2 L515.5,78.6 L515.7,62.6 L515.9,73.5 L516.1,79.5 L516.4,74.5 L516.6,67.8 L516.8,57.6 L517.0,70.1 L517.2,77.5 L517.5,61.4 L517.7,80.0 L517.9,83.6 L518.1,76.4 L518.3,76.9 L518.6,77.5 L518.8,65.8 L519.0,86.6 L519.2,75.9 L519.4,52.8 L519.6,83.2 L519.9,85.6 L520.1,72.6 L520.3,70.5 L520.5,63.7 L520.7,67.0 L521.0,74.4 L521.2,79.8" stroke="#f74234" stroke-opacity="0.3" stroke-width="3.0"/>
<path d="M83.3,273.6 L83.5,259.0 L83.7,246.2 L84.0,237.0 L84.2,225.8 L84.4,218.6 L84.6,210.0 L84.8,207.1 L85.1,202.5 L85.3,201.7 L85.5,196.1 L85.7,185.5 L85.9,187.9 L86.1,190.2 L86.4,176.7 L86.6,186.8 L86.8,176.7 L87.0,178.8 L87.2,174.7 L87.5,170.0 L87.7,167.7 L87.9,172.5 L88.1,164.0 L88.3,163.9 L88.6,170.6 L88.8,169.0 L89.0,155.7 L89.2,162.1 L89.4,148.0 L89.7,147.5 L89.9,141.7 L90.1,143.9 L90.3,146.0 L90.5,156.2 L90.7,152.2 L91.0,131.9 L91.2,133.6 L91.4,136.7 L91.6,154.8 L91.8,122.8 L92.1,144.5 L92.3,120.4 L92.5,131.1 L92.7,144.0 L92.9,152.6 L93.2,130.2 L93.4,118.4 L93.6,129.9 L93.8,128.1 L94.0,122.3 L94.3,134.5 L94.5,123.4 L94.7,142.9 L94.9,118.8 L95.1,136.9 L95.3,118.9 L95.6,117.4 L95.8,135.1 L96.0,109.7 L96.2,123.7 L96.4,123.8 L96.7,113.6 L96.9,136.0 L97.1,124.9 L97.3,103.1 L97.5,129.4 L97.8,131.3 L98.0,126.5 L98.2,95.1 L98.4,143.2 L98.6,121.0 L98.9,109.1 L99.1,126.0 L99.3,112.3 L99.5,113.3 L99.7,102.1 L99.9,119.4 L100.2,100.1 L100.4,102.5 L100.6,101.9 L100.8,122.3 L101.0,111.4 L101.3,98.7 L101.5,110.4 L101.7,109.7 L101.9,90.4 L102.1,114.8 L102.4,124.2 L102.6,105.7 L102.8,112.3 L103.0,118.3 L103.2,105.6 L103.5,101.3 L103.7,106.6 L103.9,115.4 L104.1,107.8 L104.3,110.4 L104.5,84.4 L104.8,102.3 L105.0,100.6 L105.2,117.4 L105.4,97.0 L105.6,95.6 L105.9,116.1 L106.1,91.1 L106.3,108.7 L106.5,89.5 L106.7,82.9 L107.0,82.6 L107.2,76.4 L107.4,105.5 L107.6,100.6 L107.8,87.8 L108.1,77.1 L108.3,89.4 L108.5,84.2 L108.7,107.7 L108.9,79.4 L109.1,98.0 L109.4,84.1 L109.6,95.7 L109.8,89.7 L110.0,117.5 L110.2,98.0 L110.5,115.1 L110.7,102.4 L110.9,87.3 L111.1,90.1 L111.3,97.4 L111.6,93.0 L111.8,93.4 L112.0,89.4 L112.2,82.6 L112.4,99.1 L112.7,94.7 L112.9,89.8 L113.1,88.9 L113.3,100.5 L113.5,88.5 L113.7,102.3 L114.0,104.4 L114.2,95.4 L114.4,99.8 L114.6,93.0 L114.8,86.7 L115.1,91.3 L115.3,96.4 L115.5,92.4 L115.7,90.4 L115.9,95.0 L116.2,97.2 L116.4,89.6 L116.6,105.3 L116.8,93.8 L117.0,89.6 L117.3,77.8 L117.5,87.5 L117.7,83.0 L117.9,87.0 L118.1,72.8 L118.3,78.0 L118.6,79.9 L118.8,103.1 L119.0,97.4 L119.2,98.1 L119.4,83.9 L119.7,93.0 L119.9,80.7 L120.1,82.2 L120.3,77.0 L120.5,78.0 L120.8,85.0 L121.0,92.3 L121.2,89.5 L121.4,88.1 L121.6,87.4 L121.9,84.1 L122.1,82.3 L122.3,82.8 L122.5,101.1 L122.7,79.1 L122.9,74.2 L123.2,81.3 L123.4,90.0 L123.6,82.2 L123.8,87.7 L124.0,72.9 L124.3,77.5 L124.5,73.9 L124.7,91.6 L124.9,81.5 L125.1,82.4 L125.4,84.5 L125.6,71.5 L125.8,93.1 L126.0,86.2 L126.2,74.1 L126.5,74.7 L126.7,74.0 L126.9,86.7 L127.1,78.2 L127.3,76.1 L127.5,73.4 L127.8,87.7 L128.0,86.9 L128.2,93.9 L128.4,88.8 L128.6,71.2 L128.9,77.4 L129.1,70.8 L129.3,78.6 L129.5,78.2 L129.7,97.0 L130.0,88.4 L130.2,80.8 L130.4,89.6 L130.6,70.5 L130.8,74.2 L131.1,88.1 L131.3,82.8 L131.5,92.0 L131.7,92.7 L131.9,86.0 L132.1,80.5 L132.4,77.0 L132.6,92.4 L132.8,70.5 L133.0,77.7 L133.2,90.9 L133.5,88.6 L133.7,84.0 L133.9,89.9 L134.1,95.5 L134.3,87.2 L134.6,78.9 L134.8,98.0 L135.0,82.6 L135.2,84.5 L135.4,77.4 L135.7,91.0 L135.9,75.8 L136.1,92.4 L136.3,99.0 L136.5,85.6 L136.7,98.4 L137.0,95.6 L137.2,91.3 L137.4,80.3 L137.6,80.8 L137.8,81.8 L138.1,99.8 L138.3,84.8 L138.5,89.9 L138.7,92.5 L138.9,88.6 L139.2,83.7 L139.4,83.4 L139.6,83.9 L139.8,84.2 L140.0,85.5 L140.3,75.4 L140.5,102.8 L140.7,81.1 L140.9,89.5 L141.1,87.9 L141.3,91.7 L141.6,80.9 L141.8,77.9 L142.0,88.5 L142.2,81.1 L142.4,91.4 L142.7,91.3 L142.9,94.5 L143.1,90.3 L143.3,89.7 L143.5,79.2 L143.8,90.9 L144.0,76.2 L144.2,87.5 L144.4,84.8 L144.6,81.5 L144.9,81.9 L145.1,86.8 L145.3,88.6 L145.5,83.6 L145.7,85.6 L145.9,94.1 L146.2,88.2 L146.4,93.5 L146.6,87.0 L146.8,81.6 L147.0,95.8 L147.3,89.8 L147.5,86.2 L147.7,97.6 L147.9,91.4 L148.1,80.2 L148.4,89.8 L148.6,86.3 L148.8,90.3 L149.0,90.6 L149.2,88.3 L149.5,91.1 L149.7,80.2 L149.9,92.7 L150.1,97.1 L150.3,98.0 L150.5,87.3 L150.8,80.6 L151.0,85.7 L151.2,84.5 L151.4,75.8 L151.6,95.3 L151.9,76.7 L152.1,85.5 L152.3,77.2 L152.5,84.5 L152.7,90.5 L153.0,86.8 L153.2,80.4 L153.4,76.4 L153.6,101.1 L153.8,94.5 L154.1,93.0 L154.3,99.0 L154.5,81.3 L154.7,88.2 L154.9,89.8 L155.1,93.3 L155.4,80.0 L155.6,88.3 L155.8,91.4 L156.0,96.1 L156.2,98.8 L156.5,85.2 L156.7,81.3 L156.9,94.7 L157.1,95.4 L157.3,95.9 L157.6,88.9 L157.8,81.2 L158.0,88.5 L158.2,97.3 L158.4,91.3 L158.7,87.9 L158.9,98.0 L159.1,83.9 L159.3,78.7 L159.5,89.1 L159.7,75.7 L160.0,88.5 L160.2,80.2 L160.4,90.5 L160.6,84.0 L160.8,81.4 L161.1,77.7 L161.3,74.4 L161.5,84.4 L161.7,76.7 L161.9,82.8 L162.2,82.6 L162.4,89.1 L162.6,88.4 L162.8,93.7 L163.0,79.8 L163.3,88.0 L163.5,88.6 L163.7,98.1 L163.9,88.1 L164.1,85.7 L164.3,89.0 L164.6,86.9 L164.8,84.5 L165.0,90.4 L165.2,89.5 L165.4,82.2 L165.7,91.7 L165.9,86.0 L166.1,84.4 L166.3,84.0 L166.5,81.8 L166.8,88.2 L167.0,84.7 L167.2,73.4 L167.4,84.6 L167.6,82.1 L167.9,89.4 L168.1,78.3 L168.3,86.7 L168.5,73.6 L168.7,80.6 L168.9,76.3 L169.2,90.7 L169.4,92.0 L169.6,81.2 L169.8,95.7 L170.0,95.2 L170.3,86.1 L170.5,85.5 L170.7,90.0 L170.9,79.3 L171.1,82.3 L171.4,80.3 L171.6,73.7 L171.8,82.5 L172.0,86.1 L172.2,89.5 L172.5,86.1 L172.7,89.5 L172.9,85.9 L173.1,89.7 L173.3,80.3 L173.5,78.3 L173.8,86.5 L174.0,87.3 L174.2,77.7 L174.4,89.6 L174.6,72.2 L174.9,77.5 L175.1,74.6 L175.3,82.2 L175.5,103.1 L175.7,80.2 L176.0,72.0 L176.2,89.8 L176.4,79.8 L176.6,93.1 L176.8,88.7 L177.1,78.0 L177.3,94.5 L177.5,89.4 L177.7,90.6 L177.9,78.3 L178.1,89.0 L178.4,85.3 L178.6,94.6 L178.8,86.1 L179.0,75.4 L179.2,79.2 L179.5,84.9 L179.7,85.1 L179.9,92.2 L180.1,82.9 L180.3,79.5 L180.6,79.5 L180.8,97.6 L181.0,86.9 L181.2,83.7 L181.4,75.3 L181.7,75.9 L181.9,94.4 L182.1,93.4 L182.3,82.6 L182.5,79.6 L182.7,79.8 L183.0,91.0 L183.2,80.0 L183.4,78.1 L183.6,102.6 L183.8,89.4 L184.1,86.7 L184.3,88.7 L184.5,77.2 L184.7,102.4 L184.9,85.3 L185.2,81.4 L185.4,87.6 L185.6,99.3 L185.8,91.1 L186.0,88.6 L186.3,82.6 L186.5,95.5 L186.7,80.1 L186.9,81.3 L187.1,78.1 L187.3,81.0 L187.6,76.6 L187.8,77.9 L188.0,95.9 L188.2,94.8 L188.4,79.6 L188.7,84.3 L188.9,80.2 L189.1,94.7 L189.3,73.1 L189.5,78.4 L189.8,94.3 L190.0,88.2 L190.2,85.6 L190.4,85.9 L190.6,81.6 L190.9,77.5 L191.1,79.2 L191.3,87.7 L191.5,92.4 L191.7,83.3 L191.9,94.5 L192.2,80.4 L192.4,89.3 L192.6,73.2 L192.8,89.4 L193.0,80.3 L193.3,82.1 L193.5,81.7 L193.7,73.4 L193.9,93.3 L194.1,76.5 L194.4,89.6 L194.6,90.1 L194.8,88.3 L195.0,86.3 L195.2,76.6 L195.5,91.8 L195.7,91.8 L195.9,77.9 L196.1,87.6 L196.3,99.3 L196.5,90.5 L196.8,86.3 L197.0,89.3 L197.2,79.7 L197.4,88.5 L197.6,91.7 L197.9,90.0 L198.1,80.4 L198.3,86.8 L198.5,81.4 L198.7,70.7 L199.0,80.1 L199.2,74.4 L199.4,84.8 L199.6,78.9 L199.8,79.8 L200.1,83.0 L200.3,87.1 L200.5,74.9 L200.7,90.1 L200.9,82.0 L201.1,83.9 L201.4,86.7 L201.6,85.4 L201.8,89.2 L202.0,82.7 L202.2,88.1 L202.5,73.4 L202.7,83.5 L202.9,87.0 L203.1,94.5 L203.3,75.5 L203.6,91.4 L203.8,97.8 L204.0,89.4 L204.2,79.4 L204.4,76.4 L204.7,82.2 L204.9,77.4 L205.1,73.6 L205.3,90.2 L205.5,92.3 L205.7,89.0 L206.0,82.9 L206.2,91.4 L206.4,75.6 L206.6,80.3 L206.8,83.8 L207.1,80.2 L207.3,86.0 L207.5,95.1 L207.7,89.3 L207.9,85.0 L208.2,75.0 L208.4,92.4 L208.6,78.7 L208.8,86.5 L209.0,83.9 L209.3,74.3 L209.5,71.3 L209.7,83.5 L209.9,95.0 L210.1,80.0 L210.3,81.0 L210.6,85.4 L210.8,92.8 L211.0,90.6 L211.2,88.5 L211.4,94.6 L211.7,91.4 L211.9,85.0 L212.1,73.5 L212.3,89.4 L212.5,88.4 L212.8,82.4 L213.0,82.0 L213.2,74.8 L213.4,94.6 L213.6,85.1 L213.9,86.2 L214.1,75.1 L214.3,73.9 L214.5,68.1 L214.7,80.6 L214.9,84.2 L215.2,86.3 L215.4,81.1 L215.6,81.5 L215.8,75.1 L216.0,75.5 L216.3,88.6 L216.5,81.9 L216.7,86.5 L216.9,87.8 L217.1,79.5 L217.4,88.7 L217.6,80.0 L217.8,78.1 L218.0,85.7 L218.2,87.5 L218.5,92.4 L218.7,80.8 L218.9,88.4 L219.1,91.3 L219.3,81.5 L219.5,82.9 L219.8,74.8 L220.0,86.1 L220.2,89.3 L220.4,87.4 L220.6,80.4 L220.9,82.8 L221.1,74.8 L221.3,75.2 L221.5,80.0 L221.7,86.3 L222.0,70.4 L222.2,86.7 L222.4,76.8 L222.6,84.3 L222.8,88.3 L223.1,72.1 L223.3,73.9 L223.5,79.8 L223.7,82.7 L223.9,82.6 L224.1,75.8 L224.4,85.8 L224.6,75.8 L224.8,70.5 L225.0,78.6 L225.2,79.1 L225.5,86.8 L225.7,82.0 L225.9,93.3 L226.1,71.3 L226.3,72.6 L226.6,79.8 L226.8,71.5 L227.0,70.2 L227.2,66.3 L227.4,77.1 L227.7,74.1 L227.9,74.3 L228.1,92.6 L228.3,95.2 L228.5,79.4 L228.7,80.9 L229.0,72.1 L229.2,87.3 L229.4,77.4 L229.6,73.0 L229.8,96.0 L230.1,83.2 L230.3,79.1 L230.5,68.8 L230.7,82.1 L230.9,84.0 L231.2,89.3 L231.4,69.1 L231.6,75.3 L231.8,84.6 L232.0,77.0 L232.3,81.1 L232.5,89.8 L232.7,71.4 L232.9,77.7 L233.1,75.7 L233.3,88.2 L233.6,81.3 L233.8,85.4 L234.0,81.8 L234.2,78.8 L234.4,68.9 L234.7,70.9 L234.9,72.7 L235.1,86.3 L235.3,83.5 L235.5,81.6 L235.8,79.8 L236.0,83.0 L236.2,76.7 L236.4,75.0 L236.6,78.3 L236.9,70.0 L237.1,77.4 L237.3,65.8 L237.5,81.3 L237.7,74.5 L237.9,69.5 L238.2,71.5 L238.4,79.4 L238.6,73.9 L238.8,69.6 L239.0,72.2 L239.3,78.1 L239.5,74.7 L239.7,75.9 L239.9,73.1 L240.1,67.6 L240.4,69.2 L240.6,77.2 L240.8,74.7 L241.0,77.7 L241.2,68.9 L241.5,74.4 L241.7,70.7 L241.9,74.0 L242.1,71.3 L242.3,78.9 L242.5,68.1 L242.8,80.1 L243.0,63.5 L243.2,76.1 L243.4,82.2 L243.6,69.3 L243.9,79.2 L244.1,75.7 L244.3,77.9 L244.5,69.9 L244.7,65.3 L245.0,67.6 L245.2,68.7 L245.4,71.9 L245.6,69.0 L245.8,81.5 L246.1,77.1 L246.3,75.2 L246.5,72.8 L246.7,76.2 L246.9,78.4 L247.1,75.1 L247.4,79.6 L247.6,79.8 L247.8,73.8 L248.0,69.7 L248.2,79.9 L248.5,66.6 L248.7,70.6 L248.9,73.3 L249.1,86.9 L249.3,67.3 L249.6,85.3 L249.8,73.8 L250.0,81.1 L250.2,77.4 L250.4,76.3 L250.7,83.2 L250.9,71.2 L251.1,81.3 L251.3,79.5 L251.5,71.0 L251.7,73.2 L252.0,74.5 L252.2,81.6 L252.4,78.7 L252.6,67.3 L252.8,69.8 L253.1,86.4 L253.3,85.1 L253.5,66.7 L253.7,68.1 L253.9,76.9 L254.2,74.2 L254.4,85.8 L254.6,67.0 L254.8,73.8 L255.0,68.9 L255.3,70.8 L255.5,68.0 L255.7,68.4 L255.9,67.2 L256.1,77.0 L256.3,69.6 L256.6,75.1 L256.8,66.6 L257.0,63.2 L257.2,65.8 L257.4,72.1 L257.7,68.6 L257.9,61.8 L258.1,75.9 L258.3,85.3 L258.5,77.7 L258.8,77.2 L259.0,61.4 L259.2,71.8 L259.4,65.3 L259.6,73.0 L259.9,77.2 L260.1,90.1 L260.3,73.9 L260.5,80.0 L260.7,75.1 L260.9,67.9 L261.2,76.0 L261.4,70.3 L261.6,70.5 L261.8,76.8 L262.0,65.3 L262.3,64.6 L262.5,73.6 L262.7,69.5 L262.9,82.9 L263.1,67.0 L263.4,68.6 L263.6,66.5 L263.8,70.9 L264.0,67.2 L264.2,74.8 L264.5,60.8 L264.7,72.1 L264.9,77.0 L265.1,66.2 L265.3,69.2 L265.5,66.2 L265.8,79.0 L266.0,68.1 L266.2,75.2 L266.4,67.2 L266.6,68.6 L266.9,70.1 L267.1,70.1 L267.3,78.0 L267.5,71.2 L267.7,64.0 L268.0,66.7 L268.2,59.8 L268.4,54.1 L268.6,63.2 L268.8,64.1 L269.1,70.5 L269.3,65.8 L269.5,83.6 L269.7,66.7 L269.9,71.0 L270.1,64.9 L270.4,76.6 L270.6,60.0 L270.8,65.6 L271.0,66.0 L271.2,66.0 L271.5,75.9 L271.7,69.1 L271.9,56.9 L272.1,77.8 L272.3,70.1 L272.6,79.5 L272.8,62.3 L273.0,67.4 L273.2,82.8 L273.4,80.8 L273.7,76.6 L273.9,73.1 L274.1,82.9 L274.3,67.5 L274.5,82.2 L274.7,84.1 L275.0,73.2 L275.2,67.0 L275.4,71.6 L275.6,82.6 L275.8,64.7 L276.1,73.5 L276.3,68.6 L276.5,78.9 L276.7,69.5 L276.9,69.2 L277.2,75.1 L277.4,76.7 L277.6,77.5 L277.8,73.1 L278.0,59.1 L278.3,77.5 L278.5,63.2 L278.7,80.6 L278.9,69.6 L279.1,75.1 L279.3,66.8 L279.6,77.9 L279.8,73.8 L280.0,72.8 L280.2,60.2 L280.4,67.4 L280.7,71.4 L280.9,63.7 L281.1,77.6 L281.3,67.3 L281.5,66.1 L281.8,64.0 L282.0,82.2 L282.2,62.5 L282.4,76.3 L282.6,67.0 L282.9,70.1 L283.1,77.3 L283.3,73.3 L283.5,78.7 L283.7,66.6 L283.9,65.2 L284.2,73.0 L284.4,71.3 L284.6,65.6 L284.8,72.5 L285.0,66.7 L285.3,75.2 L285.5,69.4 L285.7,76.4 L285.9,72.5 L286.1,67.6 L286.4,78.5 L286.6,70.4 L286.8,65.9 L287.0,69.9 L287.2,79.8 L287.5,71.5 L287.7,62.7 L287.9,74.5 L288.1,71.6 L288.3,74.2 L288.5,67.8 L288.8,66.0 L289.0,69.3 L289.2,59.7 L289.4,78.7 L289.6,74.3 L289.9,78.8 L290.1,61.8 L290.3,64.3 L290.5,70.7 L290.7,65.9 L291.0,79.3 L291.2,80.8 L291.4,66.6 L291.6,60.6 L291.8,71.9 L292.1,84.8 L292.3,71.8 L292.5,64.2 L292.7,73.2 L292.9,69.5 L293.1,78.8 L293.4,67.6 L293.6,69.9 L293.8,74.3 L294.0,74.0 L294.2,64.8 L294.5,67.3 L294.7,79.8 L294.9,65.0 L295.1,68.3 L295.3,67.4 L295.6,68.6 L295.8,72.8 L296.0,68.7 L296.2,63.3 L296.4,61.0 L296.7,58.3 L296.9,64.5 L297.1,65.5 L297.3,60.0 L297.5,66.7 L297.7,73.9 L298.0,82.6 L298.2,79.0 L298.4,67.8 L298.6,71.2 L298.8,77.2 L299.1,57.8 L299.3,72.0 L299.5,56.5 L299.7,61.3 L299.9,65.2 L300.2,73.3 L300.4,75.0 L300.6,77.9 L300.8,69.6 L301.0,65.0 L301.3,74.4 L301.5,69.4 L301.7,64.0 L301.9,62.7 L302.1,56.2 L302.3,70.7 L302.6,66.0 L302.8,52.1 L303.0,59.9 L303.2,67.0 L303.4,66.9 L303.7,81.0 L303.9,64.0 L304.1,62.0 L304.3,65.3 L304.5,66.1 L304.8,75.0 L305.0,74.0 L305.2,70.7 L305.4,77.6 L305.6,71.5 L305.9,66.4 L306.1,78.3 L306.3,76.4 L306.5,77.5 L306.7,67.8 L307.0,72.8 L307.2,64.5 L307.4,63.7 L307.6,75.1 L307.8,70.2 L308.0,70.5 L308.3,52.7 L308.5,76.2 L308.7,78.1 L308.9,65.7 L309.1,65.0 L309.4,62.8 L309.6,73.3 L309.8,70.3 L310.0,66.9 L310.2,64.9 L310.5,68.3 L310.7,66.1 L310.9,68.9 L311.1,61.3 L311.3,70.5 L311.6,65.3 L311.8,60.1 L312.0,63.0 L312.2,72.0 L312.4,58.1 L312.6,66.1 L312.9,73.2 L313.1,55.3 L313.3,78.9 L313.5,58.2 L313.7,66.9 L314.0,70.3 L314.2,82.0 L314.4,67.9 L314.6,80.0 L314.8,62.3 L315.1,72.0 L315.3,70.4 L315.5,69.2 L315.7,57.7 L315.9,71.7 L316.2,67.9 L316.4,66.4 L316.6,66.7 L316.8,77.3 L317.0,69.9 L317.2,72.8 L317.5,65.0 L317.7,77.8 L317.9,63.9 L318.1,64.8 L318.3,63.2 L318.6,67.5 L318.8,62.5 L319.0,54.0 L319.2,70.2 L319.4,64.6 L319.7,63.0 L319.9,72.3 L320.1,82.8 L320.3,82.2 L320.5,75.6 L320.8,69.6 L321.0,75.3 L321.2,62.7 L321.4,69.1 L321.6,75.1 L321.8,73.3 L322.1,63.2 L322.3,70.1 L322.5,63.5 L322.7,78.7 L322.9,57.9 L323.2,61.9 L323.4,61.0 L323.6,74.6 L323.8,80.7 L324.0,68.8 L324.3,62.3 L324.5,78.3 L324.7,63.5 L324.9,69.8 L325.1,65.6 L325.4,64.5 L325.6,71.3 L325.8,78.8 L326.0,59.5 L326.2,80.6 L326.4,66.1 L326.7,70.2 L326.9,65.8 L327.1,80.8 L327.3,77.7 L327.5,70.7 L327.8,73.3 L328.0,74.7 L328.2,68.2 L328.4,54.2 L328.6,72.3 L328.9,62.2 L329.1,65.4 L329.3,61.6 L329.5,75.7 L329.7,62.5 L330.0,62.9 L330.2,62.2 L330.4,69.3 L330.6,58.0 L330.8,65.6 L331.0,51.1 L331.3,83.8 L331.5,65.5 L331.7,58.3 L331.9,72.9 L332.1,62.5 L332.4,73.4 L332.6,78.0 L332.8,63.6 L333.0,57.0 L333.2,69.5 L333.5,71.6 L333.7,68.3 L333.9,77.4 L334.1,57.1 L334.3,72.6 L334.6,58.2 L334.8,73.8 L335.0,70.3 L335.2,55.8 L335.4,57.5 L335.6,66.7 L335.9,73.4 L336.1,68.9 L336.3,70.6 L336.5,62.3 L336.7,74.2 L337.0,69.5 L337.2,68.3 L337.4,65.0 L337.6,78.5 L337.8,76.5 L338.1,62.6 L338.3,75.1 L338.5,65.2 L338.7,76.6 L338.9,63.0 L339.2,72.2 L339.4,76.6 L339.6,56.1 L339.8,81.5 L340.0,74.0 L340.2,75.0 L340.5,65.8 L340.7,69.0 L340.9,59.2 L341.1,62.7 L341.3,73.4 L341.6,64.9 L341.8,71.8 L342.0,72.6 L342.2,79.3 L342.4,73.6 L342.7,76.0 L342.9,74.1 L343.1,74.2 L343.3,68.1 L343.5,78.9 L343.8,63.8 L344.0,73.9 L344.2,62.2 L344.4,74.7 L344.6,64.0 L344.8,57.8 L345.1,67.2 L345.3,69.3 L345.5,79.6 L345.7,81.5 L345.9,75.6 L346.2,60.7 L346.4,74.4 L346.6,58.2 L346.8,57.7 L347.0,67.3 L347.3,66.9 L347.5,66.9 L347.7,59.5 L347.9,60.8 L348.1,64.4 L348.4,73.4 L348.6,60.4 L348.8,63.9 L349.0,76.7 L349.2,66.3 L349.4,66.1 L349.7,78.1 L349.9,65.2 L350.1,58.7 L350.3,70.8 L350.5,63.1 L350.8,80.9 L351.0,73.6 L351.2,50.6 L351.4,61.8 L351.6,55.2 L351.9,69.9 L352.1,73.5 L352.3,76.7 L352.5,65.5 L352.7,59.9 L353.0,65.5 L353.2,60.9 L353.4,65.6 L353.6,73.3 L353.8,65.2 L354.0,73.0 L354.3,61.4 L354.5,70.2 L354.7,70.6 L354.9,63.8 L355.1,62.2 L355.4,53.9 L355.6,71.9 L355.8,55.0 L356.0,72.9 L356.2,59.5 L356.5,67.9 L356.7,66.0 L356.9,65.3 L357.1,71.1 L357.3,61.4 L357.6,74.2 L357.8,66.1 L358.0,62.7 L358.2,79.0 L358.4,68.7 L358.6,61.2 L358.9,59.6 L359.1,58.9 L359.3,68.9 L359.5,63.6 L359.7,66.9 L360.0,57.0 L360.2,60.1 L360.4,50.8 L360.6,54.1 L360.8,54.6 L361.1,73.7 L361.3,65.2 L361.5,62.6 L361.7,70.0 L361.9,76.5 L362.2,62.7 L362.4,70.5 L362.6,69.2 L362.8,75.6 L363.0,69.1 L363.2,76.9 L363.5,73.4 L363.7,57.3 L363.9,63.1 L364.1,67.7 L364.3,66.1 L364.6,65.4 L364.8,59.5 L365.0,62.6 L365.2,77.4 L365.4,76.2 L365.7,60.1 L365.9,61.4 L366.1,55.1 L366.3,70.7 L366.5,61.7 L366.8,70.9 L367.0,70.7 L367.2,58.7 L367.4,63.7 L367.6,68.6 L367.8,64.5 L368.1,58.8 L368.3,49.7 L368.5,61.3 L368.7,54.6 L368.9,62.6 L369.2,67.5 L369.4,73.3 L369.6,61.7 L369.8,62.1 L370.0,54.6 L370.3,48.7 L370.5,56.9 L370.7,55.2 L370.9,64.3 L371.1,60.9 L371.4,71.2 L371.6,59.6 L371.8,65.9 L372.0,71.6 L372.2,63.1 L372.4,62.0 L372.7,71.6 L372.9,72.1 L373.1,73.8 L373.3,69.1 L373.5,58.5 L373.8,57.2 L374.0,80.0 L374.2,63.4 L374.4,69.3 L374.6,53.0 L374.9,56.0 L375.1,45.7 L375.3,54.2 L375.5,52.1 L375.7,38.3 L376.0,55.8 L376.2,57.7 L376.4,55.8 L376.6,60.4 L376.8,55.1 L377.0,63.1 L377.3,66.5 L377.5,65.8 L377.7,61.1 L377.9,57.4 L378.1,46.0 L378.4,58.3 L378.6,67.3 L378.8,54.6 L379.0,60.9 L379.2,48.2 L379.5,73.8 L379.7,54.2 L379.9,70.6 L380.1,68.5 L380.3,55.2 L380.6,64.5 L380.8,56.2 L381.0,60.3 L381.2,62.1 L381.4,52.2 L381.6,66.3 L381.9,59.3 L382.1,64.9 L382.3,62.9 L382.5,65.3 L382.7,66.7 L383.0,57.2 L383.2,64.5 L383.4,53.3 L383.6,60.0 L383.8,73.3 L384.1,50.9 L384.3,60.5 L384.5,64.6 L384.7,56.8 L384.9,61.2 L385.2,52.4 L385.4,52.2 L385.6,57.4 L385.8,47.7 L386.0,54.8 L386.2,55.0 L386.5,70.3 L386.7,72.2 L386.9,59.4 L387.1,62.3 L387.3,54.1 L387.6,60.0 L387.8,54.4 L388.0,74.4 L388.2,66.1 L388.4,75.4 L388.7,52.9 L388.9,65.5 L389.1,56.8 L389.3,52.5 L389.5,59.5 L389.8,69.0 L390.0,61.4 L390.2,74.4 L390.4,63.0 L390.6,52.3 L390.8,75.6 L391.1,68.0 L391.3,59.3 L391.5,57.2 L391.7,61.7 L391.9,59.6 L392.2,51.1 L392.4,64.3 L392.6,63.4 L392.8,61.8 L393.0,60.6 L393.3,52.3 L393.5,66.0 L393.7,54.2 L393.9,68.6 L394.1,69.5 L394.4,63.2 L394.6,62.4 L394.8,48.1 L395.0,61.6 L395.2,69.9 L395.4,46.3 L395.7,47.9 L395.9,54.2 L396.1,53.1 L396.3,69.1 L396.5,62.7 L396.8,64.0 L397.0,63.1 L397.2,54.4 L397.4,50.9 L397.6,52.0 L397.9,43.7 L398.1,63.6 L398.3,58.5 L398.5,74.2 L398.7,59.7 L399.0,66.6 L399.2,70.6 L399.4,71.2 L399.6,68.4 L399.8,69.0 L400.0,61.3 L400.3,71.0 L400.5,73.9 L400.7,61.8 L400.9,68.5 L401.1,70.4 L401.4,56.8 L401.6,56.1 L401.8,73.2 L402.0,64.8 L402.2,64.7 L402.5,59.1 L402.7,58.7 L402.9,53.9 L403.1,61.7 L403.3,58.5 L403.6,66.8 L403.8,56.0 L404.0,49.2 L404.2,56.3 L404.4,58.1 L404.6,57.9 L404.9,55.5 L405.1,57.9 L405.3,64.6 L405.5,64.1 L405.7,72.0 L406.0,53.1 L406.2,61.5 L406.4,65.3 L406.6,48.5 L406.8,62.8 L407.1,58.4 L407.3,59.7 L407.5,52.2 L407.7,69.3 L407.9,67.7 L408.2,62.3 L408.4,55.1 L408.6,57.5 L408.8,49.7 L409.0,51.7 L409.2,49.1 L409.5,64.6 L409.7,53.8 L409.9,71.0 L410.1,50.6 L410.3,56.7 L410.6,54.7 L410.8,67.0 L411.0,74.6 L411.2,46.9 L411.4,54.6 L411.7,62.4 L411.9,65.6 L412.1,66.1 L412.3,63.0 L412.5,57.5 L412.8,61.7 L413.0,64.1 L413.2,46.6 L413.4,48.3 L413.6,56.2 L413.8,60.8 L414.1,50.8 L414.3,68.6 L414.5,67.0 L414.7,64.3 L414.9,59.9 L415.2,48.2 L415.4,55.2 L415.6,57.4 L415.8,62.0 L416.0,62.9 L416.3,70.0 L416.5,58.7 L416.7,51.6 L416.9,61.9 L417.1,65.7 L417.4,63.7 L417.6,47.9 L417.8,50.1 L418.0,63.4 L418.2,66.8 L418.4,62.5 L418.7,43.3 L418.9,55.9 L419.1,54.3 L419.3,56.5 L419.5,50.0 L419.8,80.6 L420.0,52.1 L420.2,74.8 L420.4,54.1 L420.6,53.4 L420.9,46.8 L421.1,65.7 L421.3,58.7 L421.5,67.7 L421.7,54.1 L422.0,51.8 L422.2,60.9 L422.4,60.9 L422.6,47.0 L422.8,62.8 L423.0,69.3 L423.3,70.4 L423.5,53.8 L423.7,53.6 L423.9,67.0 L424.1,55.8 L424.4,64.0 L424.6,48.5 L424.8,66.7 L425.0,63.5 L425.2,48.3 L425.5,56.8 L425.7,61.5 L425.9,54.8 L426.1,50.4 L426.3,49.4 L426.6,57.7 L426.8,57.1 L427.0,56.8 L427.2,55.9 L427.4,60.4 L427.6,58.5 L427.9,47.4 L428.1,62.7 L428.3,46.5 L428.5,59.8 L428.7,60.0 L429.0,49.3 L429.2,68.7 L429.4,46.1 L429.6,66.4 L429.8,71.8 L430.1,60.4 L430.3,47.7 L430.5,60.1 L430.7,41.5 L430.9,55.5 L431.2,56.0 L431.4,58.6 L431.6,65.4 L431.8,57.5 L432.0,45.9 L432.2,53.5 L432.5,50.6 L432.7,55.9 L432.9,66.0 L433.1,66.2 L433.3,52.5 L433.6,52.8 L433.8,65.7 L434.0,50.5 L434.2,64.7 L434.4,52.9 L434.7,51.0 L434.9,53.6 L435.1,59.6 L435.3,61.8 L435.5,57.8 L435.8,48.7 L436.0,65.2 L436.2,53.8 L436.4,60.8 L436.6,57.5 L436.8,43.6 L437.1,64.0 L437.3,50.5 L437.5,55.9 L437.7,56.7 L437.9,66.4 L438.2,48.9 L438.4,54.7 L438.6,52.5 L438.8,52.0 L439.0,54.3 L439.3,59.8 L439.5,49.9 L439.7,69.1 L439.9,52.5 L440.1,52.0 L440.4,54.0 L440.6,67.6 L440.8,59.3 L441.0,63.9 L441.2,61.7 L441.4,58.3 L441.7,58.4 L441.9,63.0 L442.1,52.5 L442.3,53.0 L442.5,60.6 L442.8,50.7 L443.0,57.5 L443.2,67.0 L443.4,50.5 L443.6,54.1 L443.9,55.5 L444.1,64.9 L444.3,61.1 L444.5,53.2 L444.7,49.1 L445.0,63.7 L445.2,51.6 L445.4,63.6 L445.6,69.2 L445.8,68.6 L446.0,60.2 L446.3,53.8 L446.5,61.1 L446.7,59.9 L446.9,71.1 L447.1,58.7 L447.4,53.0 L447.6,50.0 L447.8,54.0 L448.0,74.6 L448.2,65.6 L448.5,69.7 L448.7,54.8 L448.9,61.0 L449.1,58.3 L449.3,63.4 L449.6,62.0 L449.8,42.7 L450.0,56.2 L450.2,60.7 L450.4,62.7 L450.6,41.7 L450.9,52.1 L451.1,59.4 L451.3,61.1 L451.5,64.0 L451.7,61.9 L452.0,67.5 L452.2,60.8 L452.4,63.8 L452.6,77.6 L452.8,48.1 L453.1,58.3 L453.3,43.9 L453.5,68.7 L453.7,57.0 L453.9,74.0 L454.2,61.0 L454.4,51.6 L454.6,59.3 L454.8,59.9 L455.0,56.9 L455.2,52.2 L455.5,59.3 L455.7,59.4 L455.9,55.9 L456.1,47.6 L456.3,67.8 L456.6,66.3 L456.8,64.7 L457.0,46.0 L457.2,58.1 L457.4,59.3 L457.7,61.5 L457.9,73.0 L458.1,56.4 L458.3,71.2 L458.5,60.8 L458.8,56.9 L459.0,50.2 L459.2,61.0 L459.4,64.3 L459.6,71.6 L459.8,57.8 L460.1,61.1 L460.3,53.8 L460.5,70.1 L460.7,59.1 L460.9,57.4 L461.2,50.2 L461.4,60.2 L461.6,69.8 L461.8,55.0 L462.0,66.7 L462.3,61.3 L462.5,53.4 L462.7,49.9 L462.9,62.7 L463.1,64.7 L463.4,71.2 L463.6,64.7 L463.8,61.8 L464.0,60.1 L464.2,54.6 L464.4,61.0 L464.7,70.0 L464.9,46.9 L465.1,51.1 L465.3,54.7 L465.5,57.3 L465.8,60.4 L466.0,57.0 L466.2,58.3 L466.4,58.2 L466.6,58.4 L466.9,65.9 L467.1,71.2 L467.3,56.9 L467.5,61.3 L467.7,47.5 L468.0,62.5 L468.2,73.4 L468.4,50.5 L468.6,58.3 L468.8,68.5 L469.0,65.3 L469.3,53.4 L469.5,59.0 L469.7,68.8 L469.9,60.5 L470.1,53.5 L470.4,70.1 L470.6,50.2 L470.8,70.5 L471.0,61.1 L471.2,45.9 L471.5,54.5 L471.7,39.2 L471.9,48.0 L472.1,65.9 L472.3,53.2 L472.6,54.0 L472.8,49.2 L473.0,60.6 L473.2,60.0 L473.4,46.6 L473.6,39.5 L473.9,52.1 L474.1,51.0 L474.3,50.9 L474.5,64.4 L474.7,57.5 L475.0,71.7 L475.2,59.6 L475.4,66.3 L475.6,53.2 L475.8,67.0 L476.1,68.8 L476.3,50.8 L476.5,72.6 L476.7,69.6 L476.9,62.6 L477.2,52.1 L477.4,67.7 L477.6,51.1 L477.8,55.4 L478.0,65.4 L478.2,49.6 L478.5,56.5 L478.7,63.1 L478.9,62.3 L479.1,46.4 L479.3,68.4 L479.6,49.1 L479.8,61.5 L480.0,48.8 L480.2,54.8 L480.4,73.6 L480.7,51.6 L480.9,47.1 L481.1,56.7 L481.3,67.9 L481.5,61.8 L481.8,52.3 L482.0,52.6 L482.2,60.0 L482.4,52.7 L482.6,57.6 L482.8,65.9 L483.1,46.0 L483.3,43.0 L483.5,61.4 L483.7,65.8 L483.9,59.4 L484.2,54.6 L484.4,66.9 L484.6,52.5 L484.8,49.9 L485.0,43.7 L485.3,45.1 L485.5,67.4 L485.7,52.2 L485.9,54.2 L486.1,46.5 L486.4,51.3 L486.6,62.3 L486.8,56.3 L487.0,46.3 L487.2,58.4 L487.4,59.8 L487.7,45.2 L487.9,70.7 L488.1,49.1 L488.3,62.3 L488.5,48.7 L488.8,55.4 L489.0,47.3 L489.2,49.6 L489.4,61.0 L489.6,59.9 L489.9,53.7 L490.1,61.8 L490.3,42.0 L490.5,61.5 L490.7,64.7 L491.0,53.4 L491.2,58.2 L491.4,45.5 L491.6,51.3 L491.8,48.9 L492.0,40.6 L492.3,55.0 L492.5,54.5 L492.7,59.9 L492.9,59.3 L493.1,67.5 L493.4,51.8 L493.6,54.9 L493.8,61.0 L494.0,57.5 L494.2,53.9 L494.5,51.2 L494.7,59.9 L494.9,67.7 L495.1,57.2 L495.3,45.7 L495.6,42.5 L495.8,68.4 L496.0,49.9 L496.2,62.4 L496.4,69.6 L496.6,59.4 L496.9,64.6 L497.1,50.0 L497.3,72.5 L497.5,60.3 L497.7,45.2 L498.0,44.0 L498.2,57.9 L498.4,47.1 L498.6,55.0 L498.8,51.4 L499.1,60.1 L499.3,59.3 L499.5,56.4 L499.7,64.5 L499.9,56.4 L500.2,69.3 L500.4,57.4 L500.6,44.8 L500.8,51.3 L501.0,49.4 L501.2,50.9 L501.5,58.0 L501.7,51.0 L501.9,50.6 L502.1,57.1 L502.3,57.0 L502.6,61.7 L502.8,44.9 L503.0,47.9 L503.2,49.9 L503.4,54.5 L503.7,46.7 L503.9,48.5 L504.1,44.2 L504.3,40.3 L504.5,54.7 L504.8,62.7 L505.0,55.4 L505.2,43.1 L505.4,60.2 L505.6,61.6 L505.8,53.3 L506.1,66.6 L506.3,57.6 L506.5,64.9 L506.7,63.8 L506.9,59.1 L507.2,62.0 L507.4,60.2 L507.6,57.1 L507.8,66.7 L508.0,56.2 L508.3,66.2 L508.5,71.8 L508.7,59.4 L508.9,66.0 L509.1,45.9 L509.4,49.3 L509.6,49.2 L509.8,47.1 L510.0,45.2 L510.2,62.3 L510.4,62.5 L510.7,54.2 L510.9,38.6 L511.1,70.6 L511.3,58.9 L511.5,60.8 L511.8,56.3 L512.0,44.7 L512.2,56.6 L512.4,50.7 L512.6,42.5 L512.9,60.4 L513.1,38.2 L513.3,59.4 L513.5,63.3 L513.7,55.5 L514.0,58.5 L514.2,63.2 L514.4,69.9 L514.6,61.9 L514.8,66.9 L515.0,57.3 L515.3,60.2 L515.5,52.4 L515.7,59.2 L515.9,53.2 L516.1,57.0 L516.4,48.3 L516.6,68.6 L516.8,71.5 L517.0,61.8 L517.2,55.3 L517.5,65.8 L517.7,48.2 L517.9,54.0 L518.1,58.3 L518.3,52.7 L518.6,66.3 L518.8,53.4 L519.0,47.9 L519.2,63.6 L519.4,53.1 L519.6,53.0 L519.9,63.3 L520.1,46.1 L520.3,49.4 L520.5,65.0 L520.7,56.9 L521.0,50.7 L521.2,56.4" stroke="#30c83c" stroke-opacity="0.3" stroke-width="3.0"/>
<path d="M83.3,270.1 L83.5,261.5 L83.7,256.2 L84.0,249.4 L84.2,245.2 L84.4,237.3 L84.6,231.0 L84.8,227.0 L85.1,224.7 L85.3,217.6 L85.5,219.3 L85.7,216.9 L85.9,218.3 L86.1,208.9 L86.4,209.9 L86.6,212.2 L86.8,206.6 L87.0,208.9 L87.2,204.8 L87.5,200.6 L87.7,197.4 L87.9,207.1 L88.1,198.2 L88.3,190.0 L88.6,189.7 L88.8,187.2 L89.0,186.8 L89.2,194.8 L89.4,188.8 L89.7,190.0 L89.9,189.9 L90.1,185.3 L90.3,188.1 L90.5,182.2 L90.7,184.4 L91.0,186.0 L91.2,182.6 L91.4,194.4 L91.6,181.0 L91.8,189.0 L92.1,178.7 L92.3,192.2 L92.5,179.9 L92.7,184.9 L92.9,185.9 L93.2,164.9 L93.4,180.9 L93.6,178.9 L93.8,167.2 L94.0,171.5 L94.3,166.0 L94.5,175.6 L94.7,165.7 L94.9,173.0 L95.1,165.9 L95.3,158.9 L95.6,175.9 L95.8,180.4 L96.0,177.6 L96.2,169.5 L96.4,162.1 L96.7,168.5 L96.9,163.4 L97.1,168.3 L97.3,171.6 L97.5,156.8 L97.8,166.0 L98.0,154.8 L98.2,157.9 L98.4,159.7 L98.6,153.5 L98.9,150.7 L99.1,161.5 L99.3,159.5 L99.5,149.8 L99.7,154.8 L99.9,160.9 L100.2,154.0 L100.4,158.3 L100.6,158.0 L100.8,159.1 L101.0,163.4 L101.3,155.4 L101.5,153.5 L101.7,159.4 L101.9,156.7 L102.1,155.7 L102.4,162.1 L102.6,149.4 L102.8,157.6 L103.0,151.9 L103.2,147.8 L103.5,153.0 L103.7,144.7 L103.9,154.1 L104.1,155.9 L104.3,160.7 L104.5,147.2 L104.8,150.3 L105.0,144.8 L105.2,153.3 L105.4,155.2 L105.6,149.4 L105.9,142.1 L106.1,145.0 L106.3,156.0 L106.5,149.2 L106.7,147.3 L107.0,144.9 L107.2,152.7 L107.4,139.5 L107.6,157.7 L107.8,149.7 L108.1,148.6 L108.3,145.5 L108.5,142.9 L108.7,146.4 L108.9,146.3 L109.1,145.0 L109.4,143.8 L109.6,136.6 L109.8,142.8 L110.0,157.4 L110.2,141.8 L110.5,143.1 L110.7,142.5 L110.9,148.2 L111.1,142.4 L111.3,151.0 L111.6,147.3 L111.8,148.6 L112.0,139.1 L112.2,144.1 L112.4,142.3 L112.7,148.1 L112.9,146.3 L113.1,137.1 L113.3,137.0 L113.5,144.5 L113.7,149.3 L114.0,138.4 L114.2,138.1 L114.4,137.4 L114.6,141.6 L114.8,139.0 L115.1,139.1 L115.3,134.2 L115.5,131.5 L115.7,137.2 L115.9,131.3 L116.2,137.4 L116.4,131.5 L116.6,134.9 L116.8,137.3 L117.0,133.8 L117.3,131.4 L117.5,129.9 L117.7,133.2 L117.9,135.9 L118.1,130.2 L118.3,131.4 L118.6,127.3 L118.8,122.1 L119.0,117.1 L119.2,124.8 L119.4,129.0 L119.7,127.2 L119.9,125.2 L120.1,125.0 L120.3,122.8 L120.5,123.6 L120.8,120.6 L121.0,129.0 L121.2,131.1 L121.4,124.4 L121.6,119.5 L121.9,124.0 L122.1,120.2 L122.3,124.8 L122.5,125.7 L122.7,121.8 L122.9,117.4 L123.2,121.0 L123.4,117.5 L123.6,121.7 L123.8,118.9 L124.0,121.2 L124.3,112.8 L124.5,112.9 L124.7,112.6 L124.9,115.3 L125.1,118.8 L125.4,119.1 L125.6,116.3 L125.8,109.2 L126.0,117.4 L126.2,107.6 L126.5,102.0 L126.7,101.9 L126.9,110.6 L127.1,110.1 L127.3,107.1 L127.5,115.6 L127.8,106.6 L128.0,111.5 L128.2,101.6 L128.4,109.8 L128.6,115.1 L128.9,114.4 L129.1,113.0 L129.3,99.0 L129.5,107.8 L129.7,105.6 L130.0,100.6 L130.2,108.3 L130.4,103.9 L130.6,107.8 L130.8,107.5 L131.1,99.9 L131.3,107.3 L131.5,101.1 L131.7,104.5 L131.9,96.2 L132.1,104.2 L132.4,99.9 L132.6,101.3 L132.8,104.9 L133.0,94.1 L133.2,99.3 L133.5,102.8 L133.7,105.7 L133.9,107.9 L134.1,107.0 L134.3,97.7 L134.6,94.1 L134.8,103.1 L135.0,104.3 L135.2,95.0 L135.4,95.6 L135.7,100.4 L135.9,106.8 L136.1,86.0 L136.3,104.4 L136.5,89.6 L136.7,101.2 L137.0,94.6 L137.2,85.1 L137.4,94.0 L137.6,90.8 L137.8,82.7 L138.1,94.5 L138.3,96.7 L138.5,95.5 L138.7,98.7 L138.9,99.1 L139.2,97.1 L139.4,93.2 L139.6,88.7 L139.8,90.9 L140.0,89.9 L140.3,90.0 L140.5,90.5 L140.7,85.6 L140.9,94.1 L141.1,94.8 L141.3,91.7 L141.6,95.2 L141.8,106.3 L142.0,100.8 L142.2,77.8 L142.4,88.2 L142.7,91.2 L142.9,101.4 L143.1,94.4 L143.3,94.4 L143.5,93.0 L143.8,103.2 L144.0,92.3 L144.2,84.9 L144.4,105.2 L144.6,104.8 L144.9,94.8 L145.1,84.1 L145.3,96.9 L145.5,92.5 L145.7,94.9 L145.9,98.7 L146.2,86.8 L146.4,82.3 L146.6,103.4 L146.8,91.6 L147.0,86.5 L147.3,85.3 L147.5,93.4 L147.7,91.1 L147.9,83.6 L148.1,83.0 L148.4,86.9 L148.6,81.8 L148.8,93.1 L149.0,100.6 L149.2,90.9 L149.5,98.9 L149.7,93.7 L149.9,86.2 L150.1,98.8 L150.3,84.2 L150.5,93.2 L150.8,85.7 L151.0,86.4 L151.2,96.4 L151.4,94.7 L151.6,84.5 L151.9,107.0 L152.1,76.9 L152.3,100.7 L152.5,91.0 L152.7,80.8 L153.0,90.8 L153.2,90.1 L153.4,99.5 L153.6,87.0 L153.8,88.5 L154.1,88.5 L154.3,98.3 L154.5,98.6 L154.7,82.9 L154.9,98.4 L155.1,102.1 L155.4,76.3 L155.6,93.7 L155.8,94.5 L156.0,84.6 L156.2,77.8 L156.5,86.0 L156.7,100.5 L156.9,91.5 L157.1,97.3 L157.3,101.0 L157.6,88.4 L157.8,88.6 L158.0,86.3 L158.2,95.7 L158.4,94.7 L158.7,99.2 L158.9,93.0 L159.1,94.7 L159.3,104.2 L159.5,83.4 L159.7,106.2 L160.0,102.0 L160.2,93.0 L160.4,82.6 L160.6,86.8 L160.8,99.3 L161.1,93.4 L161.3,101.0 L161.5,91.2 L161.7,102.3 L161.9,81.1 L162.2,70.4 L162.4,87.6 L162.6,107.4 L162.8,94.6 L163.0,96.3 L163.3,90.4 L163.5,87.0 L163.7,95.2 L163.9,90.4 L164.1,90.4 L164.3,85.0 L164.6,87.5 L164.8,83.2 L165.0,81.8 L165.2,104.0 L165.4,89.4 L165.7,76.3 L165.9,85.4 L166.1,75.2 L166.3,89.0 L166.5,79.8 L166.8,79.9 L167.0,110.4 L167.2,96.4 L167.4,97.3 L167.6,92.4 L167.9,102.4 L168.1,85.7 L168.3,72.8 L168.5,84.9 L168.7,90.5 L168.9,77.4 L169.2,93.8 L169.4,91.5 L169.6,104.7 L169.8,115.8 L170.0,77.6 L170.3,73.6 L170.5,109.0 L170.7,86.5 L170.9,99.7 L171.1,112.9 L171.4,105.6 L171.6,89.2 L171.8,86.5 L172.0,84.2 L172.2,85.5 L172.5,99.3 L172.7,84.7 L172.9,84.2 L173.1,90.6 L173.3,92.2 L173.5,90.0 L173.8,84.2 L174.0,94.0 L174.2,99.3 L174.4,85.1 L174.6,96.7 L174.9,98.8 L175.1,96.1 L175.3,84.9 L175.5,72.2 L175.7,81.5 L176.0,94.6 L176.2,90.2 L176.4,79.9 L176.6,96.5 L176.8,88.1 L177.1,86.9 L177.3,86.1 L177.5,89.1 L177.7,100.5 L177.9,77.8 L178.1,97.4 L178.4,102.1 L178.6,83.9 L178.8,85.6 L179.0,91.3 L179.2,89.5 L179.5,73.9 L179.7,94.9 L179.9,82.0 L180.1,90.3 L180.3,87.1 L180.6,87.6 L180.8,74.9 L181.0,85.0 L181.2,90.3 L181.4,89.9 L181.7,82.9 L181.9,82.3 L182.1,78.2 L182.3,82.0 L182.5,70.8 L182.7,87.6 L183.0,97.3 L183.2,78.0 L183.4,89.2 L183.6,88.4 L183.8,89.5 L184.1,82.2 L184.3,98.0 L184.5,97.9 L184.7,81.5 L184.9,79.7 L185.2,88.5 L185.4,95.5 L185.6,84.9 L185.8,88.1 L186.0,73.5 L186.3,96.8 L186.5,89.3 L186.7,77.3 L186.9,96.4 L187.1,75.8 L187.3,82.1 L187.6,92.1 L187.8,81.3 L188.0,92.8 L188.2,93.9 L188.4,77.3 L188.7,73.7 L188.9,87.6 L189.1,94.7 L189.3,89.2 L189.5,91.6 L189.8,90.5 L190.0,89.0 L190.2,68.3 L190.4,92.2 L190.6,83.9 L190.9,84.6 L191.1,79.7 L191.3,92.2 L191.5,89.1 L191.7,77.9 L191.9,83.0 L192.2,90.5 L192.4,83.1 L192.6,82.3 L192.8,96.3 L193.0,82.5 L193.3,69.9 L193.5,99.9 L193.7,93.4 L193.9,82.8 L194.1,84.1 L194.4,96.5 L194.6,98.6 L194.8,88.9 L195.0,87.8 L195.2,73.7 L195.5,90.6 L195.7,100.5 L195.9,77.2 L196.1,94.5 L196.3,85.4 L196.5,82.5 L196.8,66.5 L197.0,97.5 L197.2,85.0 L197.4,91.3 L197.6,76.9 L197.9,101.9 L198.1,102.2 L198.3,103.0 L198.5,89.4 L198.7,99.1 L199.0,91.7 L199.2,85.4 L199.4,90.3 L199.6,84.5 L199.8,81.3 L200.1,74.6 L200.3,74.9 L200.5,84.2 L200.7,84.9 L200.9,84.9 L201.1,66.7 L201.4,89.8 L201.6,88.8 L201.8,89.1 L202.0,77.4 L202.2,89.9 L202.5,93.8 L202.7,74.3 L202.9,73.8 L203.1,81.2 L203.3,79.0 L203.6,77.2 L203.8,89.2 L204.0,100.4 L204.2,81.0 L204.4,79.7 L204.7,90.6 L204.9,77.3 L205.1,87.8 L205.3,88.5 L205.5,82.5 L205.7,86.1 L206.0,69.4 L206.2,99.6 L206.4,85.7 L206.6,81.3 L206.8,91.3 L207.1,73.5 L207.3,96.0 L207.5,74.9 L207.7,83.8 L207.9,88.0 L208.2,81.1 L208.4,80.5 L208.6,74.4 L208.8,82.3 L209.0,82.8 L209.3,91.7 L209.5,85.4 L209.7,75.5 L209.9,85.4 L210.1,73.6 L210.3,86.6 L210.6,77.3 L210.8,80.7 L211.0,84.0 L211.2,81.4 L211.4,85.4 L211.7,85.9 L211.9,88.4 L212.1,81.9 L212.3,83.4 L212.5,91.3 L212.8,73.8 L213.0,79.4 L213.2,96.0 L213.4,91.6 L213.6,93.9 L213.9,91.9 L214.1,82.0 L214.3,77.4 L214.5,95.8 L214.7,79.3 L214.9,91.0 L215.2,81.3 L215.4,84.8 L215.6,83.4 L215.8,79.2 L216.0,77.4 L216.3,95.9 L216.5,79.9 L216.7,91.3 L216.9,79.3 L217.1,91.9 L217.4,83.2 L217.6,83.0 L217.8,91.7 L218.0,69.0 L218.2,74.3 L218.5,99.0 L218.7,82.9 L218.9,77.1 L219.1,95.5 L219.3,92.5 L219.5,86.0 L219.8,95.2 L220.0,81.7 L220.2,103.4 L220.4,95.5 L220.6,93.1 L220.9,90.3 L221.1,98.0 L221.3,91.3 L221.5,90.9 L221.7,87.6 L222.0,97.9 L222.2,92.1 L222.4,85.0 L222.6,73.9 L222.8,76.8 L223.1,91.9 L223.3,99.0 L223.5,63.1 L223.7,91.5 L223.9,97.8 L224.1,83.2 L224.4,85.0 L224.6,80.2 L224.8,75.0 L225.0,95.9 L225.2,96.9 L225.5,92.9 L225.7,101.4 L225.9,87.6 L226.1,95.2 L226.3,88.5 L226.6,85.3 L226.8,91.4 L227.0,90.5 L227.2,90.3 L227.4,96.8 L227.7,94.8 L227.9,91.4 L228.1,107.8 L228.3,79.9 L228.5,90.9 L228.7,95.4 L229.0,82.6 L229.2,98.6 L229.4,93.3 L229.6,81.3 L229.8,75.7 L230.1,71.7 L230.3,86.8 L230.5,83.9 L230.7,78.6 L230.9,95.5 L231.2,91.8 L231.4,88.6 L231.6,95.0 L231.8,76.4 L232.0,97.8 L232.3,87.2 L232.5,88.7 L232.7,78.8 L232.9,78.4 L233.1,81.2 L233.3,83.2 L233.6,87.1 L233.8,88.4 L234.0,81.2 L234.2,96.1 L234.4,89.8 L234.7,88.4 L234.9,94.1 L235.1,80.0 L235.3,85.9 L235.5,77.8 L235.8,94.9 L236.0,93.5 L236.2,69.7 L236.4,94.4 L236.6,91.3 L236.9,94.5 L237.1,80.6 L237.3,92.6 L237.5,83.3 L237.7,81.1 L237.9,89.3 L238.2,95.7 L238.4,90.3 L238.6,90.3 L238.8,78.1 L239.0,91.2 L239.3,95.0 L239.5,85.5 L239.7,98.1 L239.9,97.3 L240.1,78.0 L240.4,102.4 L240.6,100.6 L240.8,73.8 L241.0,87.3 L241.2,84.5 L241.5,93.3 L241.7,86.0 L241.9,79.8 L242.1,75.4 L242.3,76.4 L242.5,65.9 L242.8,86.6 L243.0,71.0 L243.2,70.8 L243.4,89.1 L243.6,79.7 L243.9,85.5 L244.1,83.3 L244.3,76.8 L244.5,80.2 L244.7,84.6 L245.0,70.9 L245.2,82.3 L245.4,81.1 L245.6,82.5 L245.8,91.2 L246.1,77.9 L246.3,83.1 L246.5,68.0 L246.7,76.8 L246.9,88.6 L247.1,68.9 L247.4,87.4 L247.6,86.0 L247.8,69.5 L248.0,65.0 L248.2,80.2 L248.5,98.0 L248.7,74.9 L248.9,69.0 L249.1,69.2 L249.3,66.4 L249.6,71.2 L249.8,89.3 L250.0,85.8 L250.2,95.6 L250.4,85.7 L250.7,82.9 L250.9,74.0 L251.1,67.2 L251.3,63.2 L251.5,77.0 L251.7,71.3 L252.0,86.8 L252.2,72.7 L252.4,88.8 L252.6,71.4 L252.8,87.9 L253.1,100.9 L253.3,74.8 L253.5,94.5 L253.7,90.4 L253.9,78.2 L254.2,67.9 L254.4,80.2 L254.6,82.9 L254.8,77.7 L255.0,84.6 L255.3,63.2 L255.5,64.8 L255.7,76.8 L255.9,78.9 L256.1,76.7 L256.3,73.0 L256.6,74.4 L256.8,88.3 L257.0,85.1 L257.2,82.6 L257.4,78.5 L257.7,71.9 L257.9,83.2 L258.1,57.2 L258.3,84.5 L258.5,70.3 L258.8,72.0 L259.0,72.3 L259.2,88.8 L259.4,81.2 L259.6,64.1 L259.9,61.8 L260.1,70.3 L260.3,83.8 L260.5,76.5 L260.7,79.5 L260.9,85.1 L261.2,88.2 L261.4,79.1 L261.6,81.3 L261.8,68.9 L262.0,89.1 L262.3,81.4 L262.5,81.0 L262.7,78.0 L262.9,75.8 L263.1,74.7 L263.4,70.6 L263.6,68.2 L263.8,80.7 L264.0,80.6 L264.2,79.0 L264.5,84.4 L264.7,71.6 L264.9,75.6 L265.1,75.3 L265.3,73.1 L265.5,86.3 L265.8,84.8 L266.0,79.3 L266.2,76.2 L266.4,75.8 L266.6,69.8 L266.9,86.4 L267.1,78.5 L267.3,82.1 L267.5,58.9 L267.7,69.1 L268.0,86.6 L268.2,64.4 L268.4,89.6 L268.6,78.3 L268.8,87.2 L269.1,67.8 L269.3,91.8 L269.5,78.6 L269.7,73.8 L269.9,63.0 L270.1,76.3 L270.4,79.1 L270.6,68.0 L270.8,72.4 L271.0,87.4 L271.2,67.2 L271.5,52.0 L271.7,85.2 L271.9,78.3 L272.1,66.2 L272.3,69.4 L272.6,89.9 L272.8,77.1 L273.0,89.2 L273.2,67.7 L273.4,85.0 L273.7,64.5 L273.9,79.6 L274.1,68.2 L274.3,72.2 L274.5,75.5 L274.7,83.6 L275.0,76.2 L275.2,67.2 L275.4,74.2 L275.6,54.4 L275.8,65.3 L276.1,86.2 L276.3,64.2 L276.5,70.1 L276.7,84.7 L276.9,99.9 L277.2,71.2 L277.4,75.4 L277.6,79.6 L277.8,62.3 L278.0,65.7 L278.3,70.2 L278.5,72.4 L278.7,79.1 L278.9,76.4 L279.1,85.4 L279.3,74.0 L279.6,66.8 L279.8,71.8 L280.0,78.7 L280.2,81.3 L280.4,67.1 L280.7,70.7 L280.9,76.8 L281.1,75.8 L281.3,65.4 L281.5,89.4 L281.8,87.6 L282.0,78.8 L282.2,80.7 L282.4,78.2 L282.6,78.2 L282.9,78.6 L283.1,66.8 L283.3,87.9 L283.5,76.1 L283.7,65.2 L283.9,75.1 L284.2,80.2 L284.4,68.3 L284.6,83.6 L284.8,79.8 L285.0,80.3 L285.3,70.6 L285.5,82.2 L285.7,63.7 L285.9,75.9 L286.1,82.5 L286.4,79.5 L286.6,65.9 L286.8,83.1 L287.0,82.5 L287.2,74.3 L287.5,68.6 L287.7,76.8 L287.9,79.8 L288.1,69.9 L288.3,70.7 L288.5,75.0 L288.8,61.4 L289.0,64.7 L289.2,62.4 L289.4,66.0 L289.6,66.5 L289.9,88.4 L290.1,72.1 L290.3,66.7 L290.5,64.8 L290.7,57.8 L291.0,70.6 L291.2,57.3 L291.4,77.8 L291.6,60.5 L291.8,60.4 L292.1,71.8 L292.3,76.9 L292.5,62.9 L292.7,84.8 L292.9,68.5 L293.1,60.8 L293.4,79.8 L293.6,85.6 L293.8,70.4 L294.0,76.3 L294.2,64.7 L294.5,61.2 L294.7,72.1 L294.9,69.9 L295.1,69.4 L295.3,70.7 L295.6,89.2 L295.8,80.0 L296.0,62.0 L296.2,77.0 L296.4,69.3 L296.7,70.6 L296.9,74.4 L297.1,72.6 L297.3,61.0 L297.5,62.3 L297.7,62.8 L298.0,64.9 L298.2,72.9 L298.4,66.0 L298.6,79.0 L298.8,78.8 L299.1,64.0 L299.3,75.7 L299.5,77.3 L299.7,66.6 L299.9,71.3 L300.2,87.2 L300.4,69.6 L300.6,75.2 L300.8,79.9 L301.0,56.1 L301.3,68.9 L301.5,74.1 L301.7,73.7 L301.9,73.5 L302.1,70.5 L302.3,58.1 L302.6,82.2 L302.8,56.3 L303.0,79.6 L303.2,85.4 L303.4,74.7 L303.7,82.4 L303.9,75.8 L304.1,64.6 L304.3,57.4 L304.5,62.2 L304.8,51.2 L305.0,81.3 L305.2,71.2 L305.4,66.4 L305.6,69.7 L305.9,56.6 L306.1,73.6 L306.3,77.4 L306.5,69.4 L306.7,82.8 L307.0,71.1 L307.2,72.5 L307.4,87.6 L307.6,69.1 L307.8,73.2 L308.0,71.0 L308.3,82.2 L308.5,56.0 L308.7,59.3 L308.9,73.2 L309.1,71.3 L309.4,61.5 L309.6,59.6 L309.8,80.6 L310.0,62.8 L310.2,57.0 L310.5,77.9 L310.7,70.9 L310.9,73.5 L311.1,79.1 L311.3,72.3 L311.6,75.9 L311.8,77.2 L312.0,79.2 L312.2,62.9 L312.4,80.8 L312.6,70.6 L312.9,56.3 L313.1,62.1 L313.3,77.5 L313.5,55.9 L313.7,62.0 L314.0,69.2 L314.2,60.4 L314.4,76.4 L314.6,67.9 L314.8,85.6 L315.1,82.6 L315.3,66.7 L315.5,77.0 L315.7,72.3 L315.9,71.7 L316.2,74.9 L316.4,79.9 L316.6,71.4 L316.8,63.9 L317.0,66.9 L317.2,69.4 L317.5,67.5 L317.7,61.8 L317.9,79.1 L318.1,72.4 L318.3,74.6 L318.6,81.8 L318.8,81.4 L319.0,82.9 L319.2,65.3 L319.4,70.9 L319.7,62.7 L319.9,66.2 L320.1,69.6 L320.3,66.3 L320.5,78.4 L320.8,55.1 L321.0,51.9 L321.2,73.7 L321.4,58.7 L321.6,58.1 L321.8,68.0 L322.1,51.9 L322.3,71.6 L322.5,72.0 L322.7,60.9 L322.9,65.4 L323.2,75.6 L323.4,69.3 L323.6,55.2 L323.8,64.1 L324.0,61.4 L324.3,65.0 L324.5,65.3 L324.7,79.4 L324.9,58.8 L325.1,65.5 L325.4,78.0 L325.6,59.7 L325.8,79.7 L326.0,63.2 L326.2,68.7 L326.4,74.5 L326.7,59.4 L326.9,79.4 L327.1,54.0 L327.3,67.6 L327.5,63.6 L327.8,71.6 L328.0,70.1 L328.2,58.9 L328.4,59.5 L328.6,74.0 L328.9,58.6 L329.1,70.4 L329.3,65.0 L329.5,62.1 L329.7,69.5 L330.0,66.8 L330.2,70.7 L330.4,75.6 L330.6,55.2 L330.8,60.0 L331.0,60.8 L331.3,65.4 L331.5,79.2 L331.7,55.1 L331.9,55.7 L332.1,72.1 L332.4,67.3 L332.6,58.6 L332.8,52.6 L333.0,66.0 L333.2,56.0 L333.5,54.2 L333.7,56.3 L333.9,65.1 L334.1,62.4 L334.3,69.6 L334.6,67.8 L334.8,60.2 L335.0,73.8 L335.2,68.4 L335.4,65.4 L335.6,67.0 L335.9,62.2 L336.1,55.0 L336.3,57.8 L336.5,66.5 L336.7,70.2 L337.0,57.0 L337.2,60.1 L337.4,60.2 L337.6,55.0 L337.8,57.3 L338.1,58.6 L338.3,70.2 L338.5,63.0 L338.7,58.3 L338.9,64.9 L339.2,56.2 L339.4,58.9 L339.6,70.6 L339.8,66.5 L340.0,76.2 L340.2,70.5 L340.5,64.0 L340.7,74.0 L340.9,65.6 L341.1,58.1 L341.3,72.8 L341.6,66.9 L341.8,73.3 L342.0,61.4 L342.2,51.3 L342.4,66.4 L342.7,64.1 L342.9,70.6 L343.1,44.7 L343.3,54.2 L343.5,61.2 L343.8,43.6 L344.0,55.4 L344.2,58.8 L344.4,60.7 L344.6,73.9 L344.8,62.1 L345.1,52.6 L345.3,60.5 L345.5,49.4 L345.7,48.5 L345.9,68.2 L346.2,57.4 L346.4,72.3 L346.6,54.2 L346.8,54.0 L347.0,71.2 L347.3,61.1 L347.5,58.3 L347.7,55.8 L347.9,69.7 L348.1,74.2 L348.4,59.8 L348.6,65.4 L348.8,73.2 L349.0,61.5 L349.2,62.0 L349.4,66.7 L349.7,77.0 L349.9,59.1 L350.1,51.2 L350.3,55.3 L350.5,48.4 L350.8,66.7 L351.0,57.8 L351.2,47.0 L351.4,55.0 L351.6,61.3 L351.9,66.9 L352.1,53.5 L352.3,70.4 L352.5,59.3 L352.7,69.8 L353.0,65.0 L353.2,73.8 L353.4,70.9 L353.6,63.7 L353.8,52.3 L354.0,70.4 L354.3,64.2 L354.5,75.9 L354.7,49.6 L354.9,55.5 L355.1,70.1 L355.4,60.2 L355.6,67.5 L355.8,59.5 L356.0,55.8 L356.2,56.0 L356.5,61.2 L356.7,62.0 L356.9,58.5 L357.1,68.4 L357.3,59.3 L357.6,70.6 L357.8,65.6 L358.0,79.7 L358.2,76.1 L358.4,51.1 L358.6,63.7 L358.9,57.7 L359.1,65.2 L359.3,58.8 L359.5,52.9 L359.7,65.6 L360.0,55.5 L360.2,62.5 L360.4,53.2 L360.6,65.4 L360.8,82.1 L361.1,70.6 L361.3,74.6 L361.5,79.3 L361.7,63.7 L361.9,59.8 L362.2,70.2 L362.4,58.3 L362.6,63.3 L362.8,58.6 L363.0,55.1 L363.2,63.0 L363.5,79.9 L363.7,66.3 L363.9,55.0 L364.1,57.7 L364.3,65.4 L364.6,73.5 L364.8,63.3 L365.0,68.0 L365.2,58.9 L365.4,60.2 L365.7,60.0 L365.9,68.3 L366.1,70.4 L366.3,60.6 L366.5,71.3 L366.8,59.3 L367.0,60.3 L367.2,78.6 L367.4,65.1 L367.6,56.8 L367.8,59.9 L368.1,61.9 L368.3,61.5 L368.5,64.1 L368.7,53.9 L368.9,46.4 L369.2,67.5 L369.4,60.3 L369.6,54.0 L369.8,50.1 L370.0,69.7 L370.3,65.2 L370.5,53.5 L370.7,63.8 L370.9,75.5 L371.1,70.1 L371.4,68.8 L371.6,67.0 L371.8,69.8 L372.0,70.7 L372.2,61.5 L372.4,56.1 L372.7,54.6 L372.9,52.7 L373.1,57.6 L373.3,52.5 L373.5,60.5 L373.8,65.5 L374.0,63.0 L374.2,73.6 L374.4,77.7 L374.6,61.6 L374.9,68.4 L375.1,76.5 L375.3,57.9 L375.5,57.4 L375.7,73.8 L376.0,88.0 L376.2,68.3 L376.4,47.2 L376.6,70.3 L376.8,60.4 L377.0,60.3 L377.3,66.9 L377.5,71.6 L377.7,68.5 L377.9,71.4 L378.1,64.0 L378.4,64.0 L378.6,79.7 L378.8,60.7 L379.0,58.3 L379.2,71.1 L379.5,75.1 L379.7,72.1 L379.9,57.2 L380.1,66.5 L380.3,65.4 L380.6,69.9 L380.8,71.1 L381.0,68.2 L381.2,59.2 L381.4,78.0 L381.6,70.1 L381.9,81.6 L382.1,63.3 L382.3,76.0 L382.5,71.8 L382.7,64.3 L383.0,76.8 L383.2,80.5 L383.4,69.5 L383.6,70.7 L383.8,74.6 L384.1,55.8 L384.3,70.4 L384.5,62.0 L384.7,54.0 L384.9,62.3 L385.2,72.5 L385.4,67.3 L385.6,76.8 L385.8,69.7 L386.0,66.9 L386.2,71.0 L386.5,64.5 L386.7,60.3 L386.9,53.3 L387.1,74.4 L387.3,70.8 L387.6,76.6 L387.8,77.6 L388.0,66.4 L388.2,75.1 L388.4,67.0 L388.7,63.6 L388.9,61.6 L389.1,57.2 L389.3,58.9 L389.5,57.8 L389.8,65.5 L390.0,69.7 L390.2,72.8 L390.4,68.2 L390.6,67.4 L390.8,83.0 L391.1,77.8 L391.3,68.1 L391.5,70.3 L391.7,53.8 L391.9,65.4 L392.2,57.8 L392.4,63.9 L392.6,53.0 L392.8,67.3 L393.0,69.1 L393.3,66.7 L393.5,71.0 L393.7,75.3 L393.9,77.1 L394.1,54.3 L394.4,64.7 L394.6,54.7 L394.8,59.9 L395.0,58.2 L395.2,63.2 L395.4,75.2 L395.7,55.8 L395.9,54.5 L396.1,53.8 L396.3,69.2 L396.5,64.4 L396.8,59.5 L397.0,50.5 L397.2,77.5 L397.4,59.2 L397.6,60.6 L397.9,66.7 L398.1,64.9 L398.3,56.7 L398.5,72.6 L398.7,60.9 L399.0,56.6 L399.2,73.7 L399.4,77.6 L399.6,77.8 L399.8,74.5 L400.0,69.8 L400.3,59.9 L400.5,68.7 L400.7,67.4 L400.9,58.1 L401.1,74.5 L401.4,71.8 L401.6,61.2 L401.8,85.4 L402.0,71.5 L402.2,59.3 L402.5,76.6 L402.7,69.1 L402.9,68.8 L403.1,62.4 L403.3,64.3 L403.6,63.0 L403.8,75.4 L404.0,63.5 L404.2,70.0 L404.4,77.2 L404.6,55.8 L404.9,56.5 L405.1,62.6 L405.3,69.0 L405.5,70.4 L405.7,56.0 L406.0,51.9 L406.2,65.9 L406.4,67.4 L406.6,71.7 L406.8,78.1 L407.1,54.3 L407.3,78.3 L407.5,60.7 L407.7,61.7 L407.9,60.4 L408.2,65.1 L408.4,72.2 L408.6,44.5 L408.8,63.2 L409.0,68.5 L409.2,50.4 L409.5,47.7 L409.7,50.7 L409.9,64.9 L410.1,48.5 L410.3,68.1 L410.6,61.3 L410.8,50.2 L411.0,59.9 L411.2,53.6 L411.4,71.1 L411.7,57.1 L411.9,59.4 L412.1,53.3 L412.3,55.0 L412.5,58.9 L412.8,61.0 L413.0,53.7 L413.2,62.6 L413.4,51.9 L413.6,53.4 L413.8,53.3 L414.1,59.6 L414.3,67.3 L414.5,57.6 L414.7,51.4 L414.9,52.8 L415.2,69.6 L415.4,74.0 L415.6,45.0 L415.8,62.5 L416.0,49.2 L416.3,55.4 L416.5,60.1 L416.7,54.7 L416.9,58.7 L417.1,56.4 L417.4,57.8 L417.6,60.6 L417.8,60.1 L418.0,55.2 L418.2,64.8 L418.4,66.8 L418.7,68.5 L418.9,67.8 L419.1,68.1 L419.3,58.5 L419.5,54.8 L419.8,61.7 L420.0,71.6 L420.2,55.7 L420.4,56.3 L420.6,62.6 L420.9,47.8 L421.1,62.9 L421.3,59.6 L421.5,66.7 L421.7,57.6 L422.0,57.5 L422.2,69.4 L422.4,68.2 L422.6,66.0 L422.8,57.2 L423.0,74.7 L423.3,57.5 L423.5,66.2 L423.7,74.7 L423.9,63.3 L424.1,52.5 L424.4,57.1 L424.6,65.4 L424.8,54.0 L425.0,54.4 L425.2,59.8 L425.5,70.0 L425.7,62.3 L425.9,60.0 L426.1,73.7 L426.3,55.7 L426.6,56.8 L426.8,72.8 L427.0,67.0 L427.2,73.8 L427.4,64.4 L427.6,57.7 L427.9,54.5 L428.1,66.4 L428.3,78.7 L428.5,73.5 L428.7,68.7 L429.0,64.0 L429.2,59.8 L429.4,47.6 L429.6,67.5 L429.8,62.1 L430.1,66.4 L430.3,64.2 L430.5,67.8 L430.7,56.6 L430.9,62.7 L431.2,60.2 L431.4,49.2 L431.6,65.0 L431.8,57.6 L432.0,56.6 L432.2,63.3 L432.5,70.7 L432.7,64.7 L432.9,69.9 L433.1,56.4 L433.3,58.2 L433.6,56.7 L433.8,58.5 L434.0,77.2 L434.2,76.3 L434.4,66.6 L434.7,46.7 L434.9,62.2 L435.1,48.8 L435.3,68.0 L435.5,64.4 L435.8,60.4 L436.0,51.1 L436.2,70.3 L436.4,59.4 L436.6,73.9 L436.8,62.8 L437.1,74.3 L437.3,72.6 L437.5,61.1 L437.7,73.5 L437.9,72.5 L438.2,54.4 L438.4,57.3 L438.6,70.8 L438.8,56.4 L439.0,71.2 L439.3,71.7 L439.5,60.8 L439.7,58.9 L439.9,62.0 L440.1,66.1 L440.4,48.9 L440.6,68.4 L440.8,55.7 L441.0,52.5 L441.2,49.4 L441.4,59.9 L441.7,68.2 L441.9,60.2 L442.1,56.3 L442.3,44.2 L442.5,55.9 L442.8,64.7 L443.0,51.7 L443.2,61.3 L443.4,74.9 L443.6,55.0 L443.9,62.3 L444.1,63.4 L444.3,59.5 L444.5,61.0 L444.7,53.2 L445.0,65.3 L445.2,65.0 L445.4,64.4 L445.6,64.5 L445.8,49.4 L446.0,54.1 L446.3,50.8 L446.5,54.8 L446.7,45.6 L446.9,54.6 L447.1,60.6 L447.4,64.0 L447.6,53.3 L447.8,59.5 L448.0,69.2 L448.2,59.9 L448.5,39.4 L448.7,62.8 L448.9,63.4 L449.1,46.7 L449.3,54.4 L449.6,62.3 L449.8,66.0 L450.0,61.0 L450.2,66.8 L450.4,61.9 L450.6,60.4 L450.9,51.6 L451.1,76.0 L451.3,71.7 L451.5,62.6 L451.7,61.4 L452.0,62.8 L452.2,68.0 L452.4,65.1 L452.6,62.6 L452.8,56.6 L453.1,51.7 L453.3,42.2 L453.5,54.2 L453.7,80.9 L453.9,65.6 L454.2,52.7 L454.4,71.3 L454.6,69.0 L454.8,61.9 L455.0,52.2 L455.2,58.5 L455.5,64.7 L455.7,69.5 L455.9,70.1 L456.1,59.1 L456.3,48.8 L456.6,64.9 L456.8,69.1 L457.0,80.3 L457.2,63.8 L457.4,73.7 L457.7,64.2 L457.9,77.5 L458.1,57.9 L458.3,61.2 L458.5,61.8 L458.8,65.5 L459.0,45.6 L459.2,57.1 L459.4,51.1 L459.6,68.3 L459.8,55.0 L460.1,61.5 L460.3,64.9 L460.5,62.0 L460.7,57.8 L460.9,70.1 L461.2,66.5 L461.4,60.2 L461.6,55.0 L461.8,46.2 L462.0,54.6 L462.3,60.6 L462.5,60.1 L462.7,67.2 L462.9,61.1 L463.1,64.5 L463.4,48.5 L463.6,72.3 L463.8,72.6 L464.0,57.9 L464.2,50.4 L464.4,57.7 L464.7,37.2 L464.9,60.3 L465.1,55.6 L465.3,51.3 L465.5,48.5 L465.8,56.2 L466.0,58.7 L466.2,53.6 L466.4,57.5 L466.6,53.3 L466.9,53.7 L467.1,61.4 L467.3,68.0 L467.5,72.3 L467.7,57.7 L468.0,50.7 L468.2,54.4 L468.4,59.4 L468.6,65.2 L468.8,71.4 L469.0,55.6 L469.3,59.9 L469.5,61.6 L469.7,53.8 L469.9,48.6 L470.1,58.5 L470.4,68.6 L470.6,67.2 L470.8,58.7 L471.0,47.0 L471.2,51.4 L471.5,53.4 L471.7,70.1 L471.9,66.8 L472.1,60.4 L472.3,58.7 L472.6,63.8 L472.8,55.5 L473.0,50.2 L473.2,60.7 L473.4,65.1 L473.6,68.7 L473.9,68.1 L474.1,55.4 L474.3,54.1 L474.5,71.1 L474.7,51.5 L475.0,52.2 L475.2,62.9 L475.4,60.9 L475.6,57.5 L475.8,59.7 L476.1,64.9 L476.3,46.1 L476.5,64.6 L476.7,72.1 L476.9,66.2 L477.2,59.6 L477.4,65.5 L477.6,61.2 L477.8,46.0 L478.0,52.6 L478.2,73.2 L478.5,51.9 L478.7,58.5 L478.9,47.8 L479.1,61.0 L479.3,45.3 L479.6,51.4 L479.8,63.9 L480.0,53.4 L480.2,53.4 L480.4,59.1 L480.7,80.3 L480.9,64.8 L481.1,72.5 L481.3,64.3 L481.5,59.3 L481.8,62.6 L482.0,73.0 L482.2,84.4 L482.4,58.3 L482.6,55.2 L482.8,59.6 L483.1,59.5 L483.3,53.7 L483.5,60.0 L483.7,58.1 L483.9,65.7 L484.2,63.9 L484.4,60.3 L484.6,69.8 L484.8,70.3 L485.0,60.9 L485.3,66.1 L485.5,71.7 L485.7,61.6 L485.9,74.2 L486.1,53.2 L486.4,72.8 L486.6,60.2 L486.8,57.6 L487.0,58.8 L487.2,62.0 L487.4,46.1 L487.7,68.7 L487.9,49.8 L488.1,65.0 L488.3,61.1 L488.5,79.4 L488.8,63.2 L489.0,72.5 L489.2,54.1 L489.4,48.4 L489.6,49.6 L489.9,73.4 L490.1,53.3 L490.3,69.6 L490.5,56.7 L490.7,64.3 L491.0,56.7 L491.2,68.1 L491.4,55.1 L491.6,58.8 L491.8,58.0 L492.0,64.1 L492.3,57.5 L492.5,65.0 L492.7,54.2 L492.9,52.8 L493.1,57.4 L493.4,59.6 L493.6,74.6 L493.8,56.4 L494.0,77.3 L494.2,68.2 L494.5,64.1 L494.7,55.3 L494.9,60.5 L495.1,49.9 L495.3,65.6 L495.6,78.7 L495.8,62.8 L496.0,56.0 L496.2,66.4 L496.4,64.7 L496.6,55.1 L496.9,78.5 L497.1,69.0 L497.3,57.0 L497.5,48.0 L497.7,55.0 L498.0,71.0 L498.2,59.4 L498.4,68.1 L498.6,71.6 L498.8,67.8 L499.1,68.0 L499.3,41.3 L499.5,67.0 L499.7,67.4 L499.9,67.6 L500.2,62.9 L500.4,58.9 L500.6,58.4 L500.8,59.9 L501.0,56.7 L501.2,66.6 L501.5,57.4 L501.7,57.3 L501.9,53.2 L502.1,41.6 L502.3,57.9 L502.6,59.6 L502.8,52.2 L503.0,58.1 L503.2,58.5 L503.4,59.8 L503.7,53.8 L503.9,49.5 L504.1,51.6 L504.3,54.9 L504.5,47.3 L504.8,71.7 L505.0,62.9 L505.2,58.5 L505.4,71.7 L505.6,57.2 L505.8,52.4 L506.1,50.8 L506.3,63.2 L506.5,60.4 L506.7,69.3 L506.9,65.8 L507.2,53.9 L507.4,48.9 L507.6,66.5 L507.8,45.2 L508.0,63.9 L508.3,61.1 L508.5,52.8 L508.7,61.3 L508.9,59.5 L509.1,54.2 L509.4,55.5 L509.6,50.6 L509.8,68.0 L510.0,55.3 L510.2,60.8 L510.4,58.1 L510.7,54.1 L510.9,65.8 L511.1,71.1 L511.3,59.4 L511.5,65.7 L511.8,59.3 L512.0,64.0 L512.2,45.6 L512.4,48.3 L512.6,48.8 L512.9,48.9 L513.1,62.3 L513.3,66.3 L513.5,51.4 L513.7,58.8 L514.0,61.4 L514.2,64.4 L514.4,56.9 L514.6,61.3 L514.8,57.6 L515.0,75.5 L515.3,64.8 L515.5,49.2 L515.7,56.5 L515.9,51.5 L516.1,57.3 L516.4,62.5 L516.6,67.5 L516.8,49.1 L517.0,55.8 L517.2,78.2 L517.5,55.9 L517.7,73.4 L517.9,54.6 L518.1,62.5 L518.3,55.7 L518.6,62.9 L518.8,52.0 L519.0,45.4 L519.2,54.5 L519.4,60.6 L519.6,46.3 L519.9,74.9 L520.1,56.2 L520.3,64.1 L520.5,76.3 L520.7,61.0 L521.0,53.0 L521.2,64.9" stroke="#1a73e0" stroke-opacity="0.3" stroke-width="3.0"/>
</g>
<path clip-path="url(#c)" fill="none" d="M83.3,270.7 L83.7,261.1 L84.2,252.1 L84.6,244.0 L85.1,237.2 L85.5,232.0 L85.9,227.8 L86.4,224.2 L86.8,221.0 L87.2,218.2 L87.7,215.5 L88.1,212.8 L88.6,210.2 L89.0,207.8 L89.4,205.5 L89.9,203.3 L90.3,201.1 L90.7,198.8 L91.2,196.4 L91.6,193.9 L92.1,191.2 L92.5,188.5 L92.9,185.8 L93.4,183.1 L93.8,180.6 L94.3,178.1 L94.7,175.6 L95.1,173.0 L95.6,170.3 L96.0,167.6 L96.4,164.9 L96.9,162.2 L97.3,159.5 L97.8,156.7 L98.2,154.0 L98.6,151.4 L99.1,148.7 L99.5,146.1 L99.9,143.6 L100.4,141.2 L100.8,138.9 L101.3,136.7 L101.7,134.6 L102.1,132.6 L102.6,130.8 L103.0,129.1 L103.5,127.6 L103.9,126.3 L104.3,125.1 L104.8,124.2 L105.2,123.4 L105.6,122.8 L106.1,122.2 L106.5,121.6 L107.0,121.0 L107.4,120.5 L107.8,120.1 L108.3,119.6 L108.7,119.2 L109.1,118.8 L109.6,118.4 L110.0,118.1 L110.5,117.7 L110.9,117.4 L111.3,117.1 L111.8,116.7 L112.2,116.4 L112.7,116.1 L113.1,115.7 L113.5,115.4 L114.0,115.0 L114.4,114.7 L114.8,114.3 L115.3,113.8 L115.7,113.4 L116.2,112.9 L116.6,112.4 L117.0,111.9 L117.5,111.3 L117.9,110.8 L118.3,110.2 L118.8,109.6 L119.2,109.0 L119.7,108.4 L120.1,107.7 L120.5,107.1 L121.0,106.5 L121.4,105.8 L121.9,105.2 L122.3,104.6 L122.7,103.9 L123.2,103.3 L123.6,102.7 L124.0,102.1 L124.5,101.5 L124.9,100.9 L125.4,100.3 L125.8,99.8 L126.2,99.2 L126.7,98.7 L127.1,98.2 L127.5,97.7 L128.0,97.2 L128.4,96.7 L128.9,96.1 L129.3,95.6 L129.7,95.0 L130.2,94.5 L130.6,94.0 L131.1,93.4 L131.5,92.9 L131.9,92.4 L132.4,92.0 L132.8,91.5 L133.2,91.2 L133.7,90.8 L134.1,90.5 L134.6,90.3 L135.0,90.1 L135.4,89.9 L135.9,89.8 L136.3,89.8 L136.7,89.9 L137.2,89.9 L137.6,89.9 L138.1,90.0 L138.5,90.1 L138.9,90.2 L139.4,90.3 L139.8,90.4 L140.3,90.5 L140.7,90.6 L141.1,90.7 L141.6,90.9 L142.0,91.0 L142.4,91.1 L142.9,91.3 L143.3,91.4 L143.8,91.5 L144.2,91.7 L144.6,91.8 L145.1,91.9 L145.5,92.0 L145.9,92.1 L146.4,92.2 L146.8,92.3 L147.3,92.4 L147.7,92.5 L148.1,92.6 L148.6,92.6 L149.0,92.7 L149.5,92.6 L149.9,92.6 L150.3,92.5 L150.8,92.5 L151.2,92.4 L151.6,92.3 L152.1,92.3 L152.5,92.2 L153.0,92.2 L153.4,92.1 L153.8,92.1 L154.3,92.1 L154.7,92.0 L155.1,92.0 L155.6,92.0 L156.0,92.0 L156.5,92.0 L156.9,92.0 L157.3,92.0 L157.8,91.9 L158.2,91.9 L158.7,91.9 L159.1,91.8 L159.5,91.8 L160.0,91.7 L160.4,91.6 L160.8,91.5 L161.3,91.4 L161.7,91.3 L162.2,91.2 L162.6,91.0 L163.0,90.9 L163.5,90.7 L163.9,90.6 L164.3,90.4 L164.8,90.2 L165.2,90.0 L165.7,89.8 L166.1,89.7 L166.5,89.5 L167.0,89.3 L167.4,89.0 L167.9,88.8 L168.3,88.7 L168.7,88.5 L169.2,88.3 L169.6,88.1 L170.0,88.0 L170.5,87.9 L170.9,87.8 L171.4,87.7 L171.8,87.7 L172.2,87.6 L172.7,87.6 L173.1,87.6 L173.5,87.7 L174.0,87.7 L174.4,87.7 L174.9,87.8 L175.3,87.8 L175.7,87.9 L176.2,87.9 L176.6,88.0 L177.1,88.0 L177.5,88.1 L177.9,88.1 L178.4,88.1 L178.8,88.1 L179.2,88.1 L179.7,88.1 L180.1,88.1 L180.6,88.1 L181.0,88.1 L181.4,88.0 L181.9,88.0 L182.3,87.9 L182.7,87.8 L183.2,87.7 L183.6,87.6 L184.1,87.5 L184.5,87.4 L184.9,87.3 L185.4,87.1 L185.8,87.0 L186.3,86.8 L186.7,86.7 L187.1,86.5 L187.6,86.3 L188.0,86.1 L188.4,85.9 L188.9,85.7 L189.3,85.5 L189.8,85.2 L190.2,85.0 L190.6,84.8 L191.1,84.6 L191.5,84.4 L191.9,84.2 L192.4,84.0 L192.8,83.8 L193.3,83.6 L193.7,83.5 L194.1,83.3 L194.6,83.2 L195.0,83.1 L195.5,83.0 L195.9,82.9 L196.3,82.9 L196.8,82.8 L197.2,82.8 L197.6,82.7 L198.1,82.7 L198.5,82.7 L199.0,82.7 L199.4,82.7 L199.8,82.7 L200.3,82.7 L200.7,82.7 L201.1,82.6 L201.6,82.6 L202.0,82.6 L202.5,82.5 L202.9,82.4 L203.3,82.3 L203.8,82.2 L204.2,82.1 L204.7,81.9 L205.1,81.8 L205.5,81.7 L206.0,81.5 L206.4,81.4 L206.8,81.3 L207.3,81.2 L207.7,81.1 L208.2,81.1 L208.6,81.1 L209.0,81.1 L209.5,81.1 L209.9,81.2 L210.3,81.2 L210.8,81.3 L211.2,81.4 L211.7,81.5 L212.1,81.6 L212.5,81.6 L213.0,81.7 L213.4,81.7 L213.9,81.8 L214.3,81.8 L214.7,81.8 L215.2,81.8 L215.6,81.9 L216.0,81.9 L216.5,82.0 L216.9,82.1 L217.4,82.2 L217.8,82.3 L218.2,82.5 L218.7,82.6 L219.1,82.7 L219.5,82.8 L220.0,83.0 L220.4,83.1 L220.9,83.2 L221.3,83.3 L221.7,83.4 L222.2,83.5 L222.6,83.6 L223.1,83.7 L223.5,83.7 L223.9,83.8 L224.4,83.9 L224.8,83.9 L225.2,84.0 L225.7,84.1 L226.1,84.1 L226.6,84.2 L227.0,84.2 L227.4,84.3 L227.9,84.3 L228.3,84.4 L228.7,84.5 L229.2,84.5 L229.6,84.6 L230.1,84.6 L230.5,84.6 L230.9,84.7 L231.4,84.7 L231.8,84.7 L232.3,84.7 L232.7,84.6 L233.1,84.6 L233.6,84.5 L234.0,84.5 L234.4,84.4 L234.9,84.3 L235.3,84.1 L235.8,84.0 L236.2,83.9 L236.6,83.7 L237.1,83.6 L237.5,83.5 L237.9,83.4 L238.4,83.3 L238.8,83.2 L239.3,83.1 L239.7,83.0 L240.1,83.0 L240.6,83.0 L241.0,82.9 L241.5,82.9 L241.9,82.9 L242.3,82.9 L242.8,82.9 L243.2,82.9 L243.6,82.9 L244.1,82.9 L244.5,82.9 L245.0,82.8 L245.4,82.8 L245.8,82.7 L246.3,82.7 L246.7,82.6 L247.1,82.5 L247.6,82.4 L248.0,82.5 L248.5,82.6 L248.9,82.7 L249.3,82.8 L249.8,82.8 L250.2,82.9 L250.7,82.9 L251.1,83.0 L251.5,83.0 L252.0,83.0 L252.4,83.0 L252.8,82.9 L253.3,82.9 L253.7,82.8 L254.2,82.8 L254.6,82.7 L255.0,82.6 L255.5,82.5 L255.9,82.3 L256.3,82.2 L256.8,82.1 L257.2,82.0 L257.7,81.9 L258.1,81.7 L258.5,81.6 L259.0,81.5 L259.4,81.4 L259.9,81.3 L260.3,81.2 L260.7,81.1 L261.2,81.0 L261.6,80.9 L262.0,80.8 L262.5,80.7 L262.9,80.6 L263.4,80.5 L263.8,80.3 L264.2,80.1 L264.7,80.0 L265.1,79.8 L265.5,79.6 L266.0,79.4 L266.4,79.2 L266.9,79.0 L267.3,78.8 L267.7,78.6 L268.2,78.4 L268.6,78.3 L269.1,78.2 L269.5,78.1 L269.9,78.0 L270.4,78.0 L270.8,78.0 L271.2,78.0 L271.7,78.0 L272.1,78.1 L272.6,78.1 L273.0,78.2 L273.4,78.4 L273.9,78.5 L274.3,78.6 L274.7,78.8 L275.2,78.9 L275.6,79.0 L276.1,79.2 L276.5,79.3 L276.9,79.4 L277.4,79.5 L277.8,79.5 L278.3,79.6 L278.7,79.6 L279.1,79.6 L279.6,79.6 L280.0,79.5 L280.4,79.5 L280.9,79.5 L281.3,79.5 L281.8,79.5 L282.2,79.4 L282.6,79.4 L283.1,79.4 L283.5,79.4 L283.9,79.4 L284.4,79.4 L284.8,79.4 L285.3,79.4 L285.7,79.3 L286.1,79.3 L286.6,79.2 L287.0,79.2 L287.5,79.1 L287.9,79.0 L288.3,79.0 L288.8,78.9 L289.2,78.8 L289.6,78.7 L290.1,78.6 L290.5,78.5 L291.0,78.4 L291.4,78.3 L291.8,78.2 L292.3,78.1 L292.7,78.0 L293.1,77.9 L293.6,77.7 L294.0,77.6 L294.5,77.5 L294.9,77.3 L295.3,77.2 L295.8,77.1 L296.2,77.0 L296.7,76.8 L297.1,76.7 L297.5,76.6 L298.0,76.5 L298.4,76.4 L298.8,76.3 L299.3,76.2 L299.7,76.1 L300.2,76.0 L300.6,75.9 L301.0,75.9 L301.5,75.8 L301.9,75.7 L302.3,75.7 L302.8,75.7 L303.2,75.6 L303.7,75.6 L304.1,75.6 L304.5,75.6 L305.0,75.6 L305.4,75.6 L305.9,75.6 L306.3,75.6 L306.7,75.6 L307.2,75.6 L307.6,75.6 L308.0,75.7 L308.5,75.7 L308.9,75.7 L309.4,75.7 L309.8,75.7 L310.2,75.7 L310.7,75.7 L311.1,75.7 L311.6,75.7 L312.0,75.7 L312.4,75.7 L312.9,75.7 L313.3,75.7 L313.7,75.7 L314.2,75.6 L314.6,75.6 L315.1,75.5 L315.5,75.5 L315.9,75.4 L316.4,75.4 L316.8,75.3 L317.2,75.3 L317.7,75.2 L318.1,75.1 L318.6,75.0 L319.0,74.9 L319.4,74.8 L319.9,74.7 L320.3,74.6 L320.8,74.5 L321.2,74.3 L321.6,74.2 L322.1,74.1 L322.5,73.9 L322.9,73.8 L323.4,73.7 L323.8,73.6 L324.3,73.5 L324.7,73.4 L325.1,73.4 L325.6,73.4 L326.0,73.4 L326.4,73.4 L326.9,73.5 L327.3,73.6 L327.8,73.7 L328.2,73.8 L328.6,73.9 L329.1,74.1 L329.5,74.2 L330.0,74.3 L330.4,74.5 L330.8,74.6 L331.3,74.7 L331.7,74.8 L332.1,74.8 L332.6,74.9 L333.0,74.9 L333.5,75.0 L333.9,75.0 L334.3,75.0 L334.8,75.0 L335.2,75.0 L335.6,75.0 L336.1,75.0 L336.5,75.0 L337.0,75.0 L337.4,74.9 L337.8,74.9 L338.3,74.9 L338.7,74.9 L339.2,74.8 L339.6,74.8 L340.0,74.8 L340.5,74.7 L340.9,74.7 L341.3,74.7 L341.8,74.7 L342.2,74.6 L342.7,74.6 L343.1,74.7 L343.5,74.7 L344.0,74.7 L344.4,74.8 L344.8,74.8 L345.3,74.9 L345.7,75.0 L346.2,75.1 L346.6,75.0 L347.0,74.9 L347.5,74.7 L347.9,74.5 L348.4,74.4 L348.8,74.2 L349.2,74.1 L349.7,74.0 L350.1,73.9 L350.5,73.8 L351.0,73.7 L351.4,73.7 L351.9,73.7 L352.3,73.7 L352.7,73.7 L353.2,73.8 L353.6,73.9 L354.0,74.0 L354.5,74.1 L354.9,74.2 L355.4,74.4 L355.8,74.5 L356.2,74.7 L356.7,74.8 L357.1,75.0 L357.6,75.1 L358.0,75.2 L358.4,75.3 L358.9,75.4 L359.3,75.4 L359.7,75.5 L360.2,75.5 L360.6,75.5 L361.1,75.5 L361.5,75.4 L361.9,75.4 L362.4,75.4 L362.8,75.3 L363.2,75.3 L363.7,75.2 L364.1,75.2 L364.6,75.2 L365.0,75.2 L365.4,75.1 L365.9,75.1 L366.3,75.1 L366.8,75.1 L367.2,75.1 L367.6,75.1 L368.1,75.1 L368.5,75.1 L368.9,75.1 L369.4,75.1 L369.8,75.1 L370.3,75.1 L370.7,75.1 L371.1,75.0 L371.6,75.0 L372.0,75.0 L372.4,74.9 L372.9,74.9 L373.3,74.8 L373.8,74.8 L374.2,74.7 L374.6,74.7 L375.1,74.6 L375.5,74.5 L376.0,74.5 L376.4,74.4 L376.8,74.3 L377.3,74.3 L377.7,74.2 L378.1,74.1 L378.6,74.0 L379.0,73.9 L379.5,74.0 L379.9,74.0 L380.3,74.1 L380.8,74.1 L381.2,74.1 L381.6,74.1 L382.1,74.1 L382.5,74.0 L383.0,74.0 L383.4,73.9 L383.8,73.8 L384.3,73.7 L384.7,73.6 L385.2,73.5 L385.6,73.3 L386.0,73.2 L386.5,73.0 L386.9,72.8 L387.3,72.6 L387.8,72.4 L388.2,72.2 L388.7,72.0 L389.1,71.8 L389.5,71.6 L390.0,71.4 L390.4,71.3 L390.8,71.1 L391.3,70.9 L391.7,70.8 L392.2,70.6 L392.6,70.5 L393.0,70.4 L393.5,70.3 L393.9,70.2 L394.4,70.1 L394.8,70.1 L395.2,70.0 L395.7,69.9 L396.1,69.9 L396.5,69.9 L397.0,69.9 L397.4,69.9 L397.9,69.9 L398.3,69.9 L398.7,70.0 L399.2,70.0 L399.6,70.1 L400.0,70.2 L400.5,70.3 L400.9,70.4 L401.4,70.6 L401.8,70.7 L402.2,70.9 L402.7,71.0 L403.1,71.2 L403.6,71.4 L404.0,71.6 L404.4,71.8 L404.9,72.0 L405.3,72.2 L405.7,72.4 L406.2,72.5 L406.6,72.7 L407.1,72.8 L407.5,72.9 L407.9,73.0 L408.4,73.0 L408.8,73.0 L409.2,73.0 L409.7,73.0 L410.1,73.0 L410.6,72.9 L411.0,72.9 L411.4,72.8 L411.9,72.7 L412.3,72.7 L412.8,72.7 L413.2,72.7 L413.6,72.6 L414.1,72.5 L414.5,72.3 L414.9,72.2 L415.4,71.9 L415.8,71.7 L416.3,71.4 L416.7,71.2 L417.1,70.9 L417.6,70.6 L418.0,70.3 L418.4,70.0 L418.9,69.8 L419.3,69.5 L419.8,69.3 L420.2,69.1 L420.6,69.0 L421.1,68.9 L421.5,68.8 L422.0,68.8 L422.4,68.7 L422.8,68.7 L423.3,68.7 L423.7,68.8 L424.1,68.8 L424.6,68.8 L425.0,68.8 L425.5,68.8 L425.9,68.8 L426.3,68.8 L426.8,68.8 L427.2,68.8 L427.6,68.8 L428.1,68.8 L428.5,68.8 L429.0,68.9 L429.4,68.9 L429.8,69.0 L430.3,69.0 L430.7,69.1 L431.2,69.3 L431.6,69.4 L432.0,69.6 L432.5,69.8 L432.9,70.0 L433.3,70.2 L433.8,70.4 L434.2,70.6 L434.7,70.8 L435.1,71.0 L435.5,71.1 L436.0,71.3 L436.4,71.4 L436.8,71.5 L437.3,71.6 L437.7,71.6 L438.2,71.6 L438.6,71.6 L439.0,71.5 L439.5,71.5 L439.9,71.4 L440.4,71.3 L440.8,71.3 L441.2,71.2 L441.7,71.1 L442.1,71.0 L442.5,71.0 L443.0,70.9 L443.4,70.9 L443.9,70.8 L444.3,70.7 L444.7,70.7 L445.2,70.7 L445.6,70.7 L446.0,70.8 L446.5,70.8 L446.9,70.9 L447.4,70.9 L447.8,71.0 L448.2,71.1 L448.7,71.2 L449.1,71.2 L449.6,71.3 L450.0,71.4 L450.4,71.6 L450.9,71.7 L451.3,71.8 L451.7,71.9 L452.2,72.0 L452.6,72.1 L453.1,72.2 L453.5,72.3 L453.9,72.4 L454.4,72.5 L454.8,72.5 L455.2,72.5 L455.7,72.5 L456.1,72.5 L456.6,72.4 L457.0,72.4 L457.4,72.3 L457.9,72.2 L458.3,72.0 L458.8,71.9 L459.2,71.7 L459.6,71.6 L460.1,71.4 L460.5,71.2 L460.9,71.1 L461.4,71.0 L461.8,70.8 L462.3,70.7 L462.7,70.6 L463.1,70.6 L463.6,70.5 L464.0,70.5 L464.4,70.5 L464.9,70.5 L465.3,70.5 L465.8,70.6 L466.2,70.6 L466.6,70.7 L467.1,70.8 L467.5,70.8 L468.0,70.9 L468.4,71.0 L468.8,71.0 L469.3,71.1 L469.7,71.1 L470.1,71.1 L470.6,71.1 L471.0,71.1 L471.5,71.0 L471.9,71.0 L472.3,70.9 L472.8,70.9 L473.2,70.8 L473.6,70.7 L474.1,70.6 L474.5,70.5 L475.0,70.4 L475.4,70.4 L475.8,70.3 L476.3,70.2 L476.7,70.1 L477.2,70.0 L477.6,69.9 L478.0,70.0 L478.5,70.1 L478.9,70.2 L479.3,70.4 L479.8,70.5 L480.2,70.6 L480.7,70.8 L481.1,71.0 L481.5,71.1 L482.0,71.3 L482.4,71.4 L482.8,71.6 L483.3,71.7 L483.7,71.8 L484.2,71.9 L484.6,71.9 L485.0,72.0 L485.5,72.0 L485.9,71.9 L486.4,71.8 L486.8,71.7 L487.2,71.6 L487.7,71.5 L488.1,71.3 L488.5,71.2 L489.0,71.0 L489.4,70.9 L489.9,70.7 L490.3,70.6 L490.7,70.5 L491.2,70.4 L491.6,70.4 L492.0,70.4 L492.5,70.4 L492.9,70.4 L493.4,70.5 L493.8,70.5 L494.2,70.6 L494.7,70.7 L495.1,70.8 L495.6,70.9 L496.0,71.0 L496.4,71.1 L496.9,71.1 L497.3,71.2 L497.7,71.3 L498.2,71.3 L498.6,71.3 L499.1,71.3 L499.5,71.3 L499.9,71.2 L500.4,71.2 L500.8,71.1 L501.2,71.0 L501.7,71.0 L502.1,70.9 L502.6,70.8 L503.0,70.7 L503.4,70.6 L503.9,70.6 L504.3,70.5 L504.8,70.5 L505.2,70.5 L505.6,70.5 L506.1,70.6 L506.5,70.7 L506.9,70.8 L507.4,70.9 L507.8,71.1 L508.3,71.3 L508.7,71.5 L509.1,71.6 L509.6,71.8 L510.0,72.0 L510.4,72.2 L510.9,72.0 L511.3,71.9 L511.8,71.8 L512.2,71.7 L512.6,71.7 L513.1,71.7 L513.5,71.7 L514.0,71.7 L514.4,71.8 L514.8,71.9 L515.3,71.9 L515.7,72.1 L516.1,72.2 L516.6,72.3 L517.0,72.4 L517.5,72.5 L517.9,72.6 L518.3,72.6 L518.8,72.7 L519.2,72.7 L519.6,72.6 L520.1,72.6 L520.5,72.5 L521.0,72.4" stroke="#f74234" stroke-width="2.4" stroke-dasharray="2.1 3.13"/>
<circle cx="116.2" cy="112.9" r="4.7" fill="#f74234"/>
<circle cx="149.0" cy="92.7" r="4.7" fill="#f74234"/>
<circle cx="181.9" cy="88.0" r="4.7" fill="#f74234"/>
<circle cx="214.7" cy="81.8" r="4.7" fill="#f74234"/>
<circle cx="247.6" cy="82.4" r="4.7" fill="#f74234"/>
<circle cx="280.4" cy="79.5" r="4.7" fill="#f74234"/>
<circle cx="313.3" cy="75.7" r="4.7" fill="#f74234"/>
<circle cx="346.2" cy="75.1" r="4.7" fill="#f74234"/>
<circle cx="379.0" cy="73.9" r="4.7" fill="#f74234"/>
<circle cx="411.9" cy="72.7" r="4.7" fill="#f74234"/>
<circle cx="444.7" cy="70.7" r="4.7" fill="#f74234"/>
<circle cx="477.6" cy="69.9" r="4.7" fill="#f74234"/>
<circle cx="510.4" cy="72.2" r="4.7" fill="#f74234"/>
<path clip-path="url(#c)" fill="none" d="M83.3,270.7 L83.7,259.6 L84.2,249.4 L84.6,240.4 L85.1,232.7 L85.5,226.2 L85.9,220.6 L86.4,215.4 L86.8,210.3 L87.2,205.3 L87.7,200.7 L88.1,196.4 L88.6,192.5 L89.0,188.8 L89.4,185.3 L89.9,182.1 L90.3,179.1 L90.7,176.2 L91.2,173.3 L91.6,170.5 L92.1,167.6 L92.5,164.8 L92.9,162.1 L93.4,159.3 L93.8,156.7 L94.3,154.0 L94.7,151.4 L95.1,148.9 L95.6,146.4 L96.0,144.1 L96.4,141.7 L96.9,139.5 L97.3,137.4 L97.8,135.3 L98.2,133.3 L98.6,131.5 L99.1,129.7 L99.5,128.0 L99.9,126.5 L100.4,125.1 L100.8,123.8 L101.3,122.6 L101.7,121.4 L102.1,120.3 L102.6,119.2 L103.0,118.2 L103.5,117.2 L103.9,116.2 L104.3,115.2 L104.8,114.3 L105.2,113.4 L105.6,112.6 L106.1,111.7 L106.5,110.9 L107.0,110.1 L107.4,109.4 L107.8,108.6 L108.3,107.9 L108.7,107.2 L109.1,106.5 L109.6,105.8 L110.0,105.1 L110.5,104.5 L110.9,103.8 L111.3,103.2 L111.8,102.5 L112.2,101.9 L112.7,101.2 L113.1,100.6 L113.5,100.0 L114.0,99.3 L114.4,98.7 L114.8,98.0 L115.3,97.4 L115.7,96.7 L116.2,96.1 L116.6,95.5 L117.0,94.9 L117.5,94.3 L117.9,93.7 L118.3,93.2 L118.8,92.6 L119.2,92.1 L119.7,91.5 L120.1,91.0 L120.5,90.6 L121.0,90.1 L121.4,89.7 L121.9,89.2 L122.3,88.9 L122.7,88.5 L123.2,88.1 L123.6,87.7 L124.0,87.3 L124.5,87.0 L124.9,86.8 L125.4,86.6 L125.8,86.5 L126.2,86.5 L126.7,86.4 L127.1,86.4 L127.5,86.3 L128.0,86.3 L128.4,86.3 L128.9,86.2 L129.3,86.2 L129.7,86.2 L130.2,86.1 L130.6,86.1 L131.1,86.1 L131.5,86.1 L131.9,86.1 L132.4,86.0 L132.8,86.0 L133.2,86.0 L133.7,86.0 L134.1,86.0 L134.6,86.1 L135.0,86.1 L135.4,86.1 L135.9,86.2 L136.3,86.3 L136.7,86.4 L137.2,86.4 L137.6,86.5 L138.1,86.6 L138.5,86.8 L138.9,86.9 L139.4,87.0 L139.8,87.1 L140.3,87.2 L140.7,87.3 L141.1,87.4 L141.6,87.5 L142.0,87.6 L142.4,87.6 L142.9,87.7 L143.3,87.7 L143.8,87.8 L144.2,87.8 L144.6,87.8 L145.1,87.8 L145.5,87.8 L145.9,87.8 L146.4,87.9 L146.8,87.9 L147.3,87.9 L147.7,88.0 L148.1,88.0 L148.6,88.0 L149.0,88.1 L149.5,88.1 L149.9,88.1 L150.3,88.2 L150.8,88.2 L151.2,88.2 L151.6,88.2 L152.1,88.2 L152.5,88.2 L153.0,88.1 L153.4,88.1 L153.8,88.1 L154.3,88.0 L154.7,88.0 L155.1,87.9 L155.6,87.8 L156.0,87.7 L156.5,87.6 L156.9,87.5 L157.3,87.4 L157.8,87.3 L158.2,87.2 L158.7,87.1 L159.1,87.0 L159.5,86.9 L160.0,86.8 L160.4,86.7 L160.8,86.6 L161.3,86.5 L161.7,86.4 L162.2,86.3 L162.6,86.2 L163.0,86.1 L163.5,86.0 L163.9,85.9 L164.3,85.8 L164.8,85.7 L165.2,85.6 L165.7,85.6 L166.1,85.5 L166.5,85.4 L167.0,85.4 L167.4,85.4 L167.9,85.3 L168.3,85.3 L168.7,85.2 L169.2,85.2 L169.6,85.2 L170.0,85.1 L170.5,85.1 L170.9,85.0 L171.4,84.9 L171.8,84.9 L172.2,84.8 L172.7,84.7 L173.1,84.5 L173.5,84.4 L174.0,84.3 L174.4,84.1 L174.9,84.0 L175.3,83.9 L175.7,84.0 L176.2,84.2 L176.6,84.3 L177.1,84.5 L177.5,84.6 L177.9,84.8 L178.4,84.9 L178.8,85.0 L179.2,85.1 L179.7,85.2 L180.1,85.3 L180.6,85.3 L181.0,85.3 L181.4,85.3 L181.9,85.3 L182.3,85.3 L182.7,85.3 L183.2,85.2 L183.6,85.2 L184.1,85.1 L184.5,85.0 L184.9,85.0 L185.4,84.9 L185.8,84.9 L186.3,84.8 L186.7,84.8 L187.1,84.8 L187.6,84.7 L188.0,84.7 L188.4,84.7 L188.9,84.7 L189.3,84.7 L189.8,84.7 L190.2,84.7 L190.6,84.7 L191.1,84.6 L191.5,84.6 L191.9,84.6 L192.4,84.5 L192.8,84.5 L193.3,84.4 L193.7,84.4 L194.1,84.3 L194.6,84.2 L195.0,84.1 L195.5,84.0 L195.9,84.0 L196.3,83.9 L196.8,83.9 L197.2,83.8 L197.6,83.8 L198.1,83.8 L198.5,83.8 L199.0,83.8 L199.4,83.8 L199.8,83.9 L200.3,83.9 L200.7,84.0 L201.1,84.1 L201.6,84.1 L202.0,84.2 L202.5,84.2 L202.9,84.3 L203.3,84.3 L203.8,84.3 L204.2,84.4 L204.7,84.4 L205.1,84.4 L205.5,84.4 L206.0,84.4 L206.4,84.4 L206.8,84.4 L207.3,84.3 L207.7,84.3 L208.2,84.2 L208.6,84.1 L209.0,84.0 L209.5,83.9 L209.9,83.7 L210.3,83.6 L210.8,83.4 L211.2,83.3 L211.7,83.1 L212.1,83.0 L212.5,82.9 L213.0,82.7 L213.4,82.6 L213.9,82.6 L214.3,82.5 L214.7,82.5 L215.2,82.4 L215.6,82.5 L216.0,82.5 L216.5,82.5 L216.9,82.5 L217.4,82.6 L217.8,82.6 L218.2,82.6 L218.7,82.6 L219.1,82.6 L219.5,82.5 L220.0,82.4 L220.4,82.4 L220.9,82.2 L221.3,82.1 L221.7,82.0 L222.2,81.8 L222.6,81.7 L223.1,81.5 L223.5,81.4 L223.9,81.2 L224.4,81.1 L224.8,81.0 L225.2,80.9 L225.7,80.8 L226.1,80.7 L226.6,80.7 L227.0,80.6 L227.4,80.5 L227.9,80.5 L228.3,80.4 L228.7,80.3 L229.2,80.3 L229.6,80.2 L230.1,80.0 L230.5,79.9 L230.9,79.8 L231.4,79.6 L231.8,79.5 L232.3,79.3 L232.7,79.2 L233.1,79.0 L233.6,78.9 L234.0,78.8 L234.4,78.7 L234.9,78.6 L235.3,78.5 L235.8,78.5 L236.2,78.5 L236.6,78.5 L237.1,78.3 L237.5,78.1 L237.9,77.8 L238.4,77.5 L238.8,77.3 L239.3,77.0 L239.7,76.7 L240.1,76.5 L240.6,76.2 L241.0,76.0 L241.5,75.8 L241.9,75.6 L242.3,75.4 L242.8,75.3 L243.2,75.1 L243.6,75.0 L244.1,74.9 L244.5,74.9 L245.0,74.8 L245.4,74.8 L245.8,74.8 L246.3,74.9 L246.7,74.9 L247.1,75.0 L247.6,75.0 L248.0,75.1 L248.5,75.2 L248.9,75.2 L249.3,75.3 L249.8,75.4 L250.2,75.4 L250.7,75.4 L251.1,75.3 L251.5,75.3 L252.0,75.2 L252.4,75.1 L252.8,74.9 L253.3,74.7 L253.7,74.5 L254.2,74.2 L254.6,74.0 L255.0,73.7 L255.5,73.4 L255.9,73.1 L256.3,72.8 L256.8,72.5 L257.2,72.3 L257.7,72.0 L258.1,71.8 L258.5,71.6 L259.0,71.4 L259.4,71.2 L259.9,71.1 L260.3,71.0 L260.7,71.0 L261.2,70.9 L261.6,70.9 L262.0,70.9 L262.5,71.0 L262.9,71.0 L263.4,71.0 L263.8,71.1 L264.2,71.1 L264.7,71.1 L265.1,71.1 L265.5,71.1 L266.0,71.0 L266.4,70.9 L266.9,70.8 L267.3,70.7 L267.7,70.8 L268.2,70.8 L268.6,71.0 L269.1,71.1 L269.5,71.3 L269.9,71.4 L270.4,71.6 L270.8,71.7 L271.2,71.9 L271.7,72.1 L272.1,72.2 L272.6,72.3 L273.0,72.4 L273.4,72.5 L273.9,72.5 L274.3,72.5 L274.7,72.5 L275.2,72.5 L275.6,72.4 L276.1,72.4 L276.5,72.3 L276.9,72.1 L277.4,72.0 L277.8,71.9 L278.3,71.8 L278.7,71.6 L279.1,71.5 L279.6,71.3 L280.0,71.2 L280.4,71.1 L280.9,71.0 L281.3,70.9 L281.8,70.8 L282.2,70.7 L282.6,70.6 L283.1,70.6 L283.5,70.6 L283.9,70.6 L284.4,70.6 L284.8,70.6 L285.3,70.6 L285.7,70.7 L286.1,70.7 L286.6,70.8 L287.0,70.8 L287.5,70.8 L287.9,70.9 L288.3,70.9 L288.8,70.9 L289.2,70.8 L289.6,70.8 L290.1,70.7 L290.5,70.6 L291.0,70.5 L291.4,70.3 L291.8,70.2 L292.3,70.0 L292.7,69.8 L293.1,69.7 L293.6,69.5 L294.0,69.3 L294.5,69.2 L294.9,69.1 L295.3,69.0 L295.8,68.9 L296.2,68.8 L296.7,68.7 L297.1,68.7 L297.5,68.7 L298.0,68.7 L298.4,68.7 L298.8,68.6 L299.3,68.5 L299.7,68.4 L300.2,68.3 L300.6,68.3 L301.0,68.2 L301.5,68.1 L301.9,68.1 L302.3,68.0 L302.8,68.0 L303.2,68.0 L303.7,68.0 L304.1,68.0 L304.5,68.0 L305.0,68.1 L305.4,68.1 L305.9,68.2 L306.3,68.2 L306.7,68.3 L307.2,68.3 L307.6,68.3 L308.0,68.3 L308.5,68.3 L308.9,68.3 L309.4,68.3 L309.8,68.2 L310.2,68.1 L310.7,68.0 L311.1,67.9 L311.6,67.7 L312.0,67.6 L312.4,67.5 L312.9,67.3 L313.3,67.2 L313.7,67.1 L314.2,67.0 L314.6,66.9 L315.1,66.9 L315.5,66.9 L315.9,66.9 L316.4,66.9 L316.8,67.0 L317.2,67.1 L317.7,67.2 L318.1,67.3 L318.6,67.4 L319.0,67.5 L319.4,67.6 L319.9,67.7 L320.3,67.8 L320.8,67.9 L321.2,67.9 L321.6,67.9 L322.1,67.9 L322.5,67.9 L322.9,67.8 L323.4,67.8 L323.8,67.7 L324.3,67.7 L324.7,67.7 L325.1,67.6 L325.6,67.6 L326.0,67.6 L326.4,67.6 L326.9,67.6 L327.3,67.7 L327.8,67.8 L328.2,67.9 L328.6,68.0 L329.1,67.8 L329.5,67.7 L330.0,67.5 L330.4,67.3 L330.8,67.2 L331.3,67.0 L331.7,66.9 L332.1,66.8 L332.6,66.7 L333.0,66.6 L333.5,66.5 L333.9,66.5 L334.3,66.6 L334.8,66.6 L335.2,66.8 L335.6,66.9 L336.1,67.1 L336.5,67.4 L337.0,67.7 L337.4,68.0 L337.8,68.4 L338.3,68.8 L338.7,69.2 L339.2,69.6 L339.6,70.0 L340.0,70.4 L340.5,70.8 L340.9,71.1 L341.3,71.4 L341.8,71.6 L342.2,71.7 L342.7,71.8 L343.1,71.9 L343.5,71.9 L344.0,71.8 L344.4,71.7 L344.8,71.5 L345.3,71.3 L345.7,71.0 L346.2,70.8 L346.6,70.5 L347.0,70.2 L347.5,69.9 L347.9,69.6 L348.4,69.3 L348.8,69.0 L349.2,68.8 L349.7,68.5 L350.1,68.3 L350.5,68.1 L351.0,67.9 L351.4,67.8 L351.9,67.7 L352.3,67.6 L352.7,67.5 L353.2,67.5 L353.6,67.4 L354.0,67.4 L354.5,67.4 L354.9,67.4 L355.4,67.4 L355.8,67.3 L356.2,67.3 L356.7,67.3 L357.1,67.2 L357.6,67.1 L358.0,67.1 L358.4,67.0 L358.9,66.9 L359.3,66.8 L359.7,66.8 L360.2,66.8 L360.6,66.9 L361.1,66.9 L361.5,66.9 L361.9,66.8 L362.4,66.7 L362.8,66.7 L363.2,66.5 L363.7,66.4 L364.1,66.2 L364.6,66.0 L365.0,65.8 L365.4,65.5 L365.9,65.3 L366.3,65.0 L366.8,64.7 L367.2,64.4 L367.6,64.1 L368.1,63.8 L368.5,63.5 L368.9,63.3 L369.4,63.0 L369.8,62.7 L370.3,62.5 L370.7,62.2 L371.1,62.0 L371.6,61.8 L372.0,61.7 L372.4,61.6 L372.9,61.5 L373.3,61.4 L373.8,61.3 L374.2,61.3 L374.6,61.2 L375.1,61.2 L375.5,61.2 L376.0,61.2 L376.4,61.1 L376.8,61.1 L377.3,61.0 L377.7,61.0 L378.1,60.9 L378.6,60.8 L379.0,60.7 L379.5,60.6 L379.9,60.5 L380.3,60.4 L380.8,60.3 L381.2,60.3 L381.6,60.2 L382.1,60.2 L382.5,60.1 L383.0,60.1 L383.4,60.1 L383.8,60.2 L384.3,60.2 L384.7,60.3 L385.2,60.3 L385.6,60.4 L386.0,60.4 L386.5,60.4 L386.9,60.4 L387.3,60.4 L387.8,60.4 L388.2,60.4 L388.7,60.3 L389.1,60.2 L389.5,60.1 L390.0,60.0 L390.4,60.1 L390.8,60.1 L391.3,60.2 L391.7,60.3 L392.2,60.4 L392.6,60.5 L393.0,60.6 L393.5,60.8 L393.9,60.9 L394.4,61.1 L394.8,61.3 L395.2,61.6 L395.7,61.8 L396.1,62.1 L396.5,62.4 L397.0,62.6 L397.4,62.9 L397.9,63.2 L398.3,63.4 L398.7,63.6 L399.2,63.8 L399.6,63.9 L400.0,63.9 L400.5,63.9 L400.9,63.9 L401.4,63.7 L401.8,63.5 L402.2,63.2 L402.7,62.9 L403.1,62.5 L403.6,62.1 L404.0,61.6 L404.4,61.1 L404.9,60.5 L405.3,60.0 L405.7,59.5 L406.2,59.0 L406.6,58.5 L407.1,58.1 L407.5,57.7 L407.9,57.4 L408.4,57.1 L408.8,56.8 L409.2,56.7 L409.7,56.6 L410.1,56.5 L410.6,56.5 L411.0,56.6 L411.4,56.7 L411.9,56.8 L412.3,57.0 L412.8,57.1 L413.2,57.3 L413.6,57.5 L414.1,57.7 L414.5,57.9 L414.9,58.1 L415.4,58.2 L415.8,58.3 L416.3,58.4 L416.7,58.5 L417.1,58.6 L417.6,58.6 L418.0,58.6 L418.4,58.5 L418.9,58.5 L419.3,58.4 L419.8,58.3 L420.2,58.3 L420.6,58.2 L421.1,58.3 L421.5,58.4 L422.0,58.4 L422.4,58.5 L422.8,58.6 L423.3,58.6 L423.7,58.7 L424.1,58.7 L424.6,58.7 L425.0,58.7 L425.5,58.7 L425.9,58.6 L426.3,58.6 L426.8,58.5 L427.2,58.5 L427.6,58.4 L428.1,58.4 L428.5,58.3 L429.0,58.2 L429.4,58.2 L429.8,58.1 L430.3,58.1 L430.7,58.0 L431.2,58.0 L431.6,58.0 L432.0,57.9 L432.5,57.9 L432.9,57.9 L433.3,57.8 L433.8,57.8 L434.2,57.8 L434.7,57.7 L435.1,57.6 L435.5,57.6 L436.0,57.5 L436.4,57.5 L436.8,57.4 L437.3,57.3 L437.7,57.3 L438.2,57.2 L438.6,57.2 L439.0,57.1 L439.5,57.1 L439.9,57.0 L440.4,57.0 L440.8,57.0 L441.2,57.0 L441.7,57.0 L442.1,57.0 L442.5,57.0 L443.0,57.1 L443.4,57.2 L443.9,57.2 L444.3,57.3 L444.7,57.4 L445.2,57.5 L445.6,57.6 L446.0,57.7 L446.5,57.8 L446.9,57.9 L447.4,58.0 L447.8,58.1 L448.2,58.2 L448.7,58.4 L449.1,58.5 L449.6,58.6 L450.0,58.7 L450.4,58.8 L450.9,58.9 L451.3,59.0 L451.7,58.9 L452.2,58.8 L452.6,58.8 L453.1,58.7 L453.5,58.7 L453.9,58.6 L454.4,58.6 L454.8,58.7 L455.2,58.7 L455.7,58.8 L456.1,58.9 L456.6,59.0 L457.0,59.2 L457.4,59.3 L457.9,59.5 L458.3,59.7 L458.8,59.9 L459.2,60.1 L459.6,60.2 L460.1,60.4 L460.5,60.6 L460.9,60.7 L461.4,60.8 L461.8,60.9 L462.3,60.9 L462.7,60.9 L463.1,60.9 L463.6,60.8 L464.0,60.7 L464.4,60.6 L464.9,60.4 L465.3,60.2 L465.8,60.0 L466.2,59.8 L466.6,59.6 L467.1,59.4 L467.5,59.1 L468.0,58.9 L468.4,58.7 L468.8,58.5 L469.3,58.3 L469.7,58.1 L470.1,58.0 L470.6,57.8 L471.0,57.7 L471.5,57.6 L471.9,57.5 L472.3,57.4 L472.8,57.3 L473.2,57.2 L473.6,57.1 L474.1,57.1 L474.5,57.0 L475.0,57.0 L475.4,56.9 L475.8,56.8 L476.3,56.8 L476.7,56.7 L477.2,56.7 L477.6,56.6 L478.0,56.6 L478.5,56.5 L478.9,56.5 L479.3,56.5 L479.8,56.5 L480.2,56.5 L480.7,56.6 L481.1,56.6 L481.5,56.7 L482.0,56.7 L482.4,56.6 L482.8,56.5 L483.3,56.4 L483.7,56.3 L484.2,56.2 L484.6,56.1 L485.0,56.0 L485.5,55.9 L485.9,55.8 L486.4,55.8 L486.8,55.7 L487.2,55.7 L487.7,55.7 L488.1,55.6 L488.5,55.6 L489.0,55.6 L489.4,55.6 L489.9,55.5 L490.3,55.5 L490.7,55.5 L491.2,55.4 L491.6,55.4 L492.0,55.4 L492.5,55.3 L492.9,55.3 L493.4,55.3 L493.8,55.3 L494.2,55.3 L494.7,55.3 L495.1,55.4 L495.6,55.5 L496.0,55.5 L496.4,55.7 L496.9,55.8 L497.3,55.9 L497.7,56.0 L498.2,56.2 L498.6,56.3 L499.1,56.4 L499.5,56.5 L499.9,56.6 L500.4,56.7 L500.8,56.7 L501.2,56.8 L501.7,56.8 L502.1,56.8 L502.6,56.8 L503.0,56.7 L503.4,56.7 L503.9,56.6 L504.3,56.6 L504.8,56.5 L505.2,56.5 L505.6,56.4 L506.1,56.4 L506.5,56.3 L506.9,56.3 L507.4,56.3 L507.8,56.2 L508.3,56.2 L508.7,56.2 L509.1,56.1 L509.6,56.1 L510.0,56.0 L510.4,55.9 L510.9,55.8 L511.3,55.7 L511.8,55.6 L512.2,55.5 L512.6,55.3 L513.1,55.4 L513.5,55.5 L514.0,55.6 L514.4,55.7 L514.8,55.7 L515.3,55.8 L515.7,55.7 L516.1,55.7 L516.6,55.5 L517.0,55.4 L517.5,55.2 L517.9,54.9 L518.3,54.6 L518.8,54.4 L519.2,54.0 L519.6,53.7 L520.1,53.4 L520.5,53.2 L521.0,52.9" stroke="#30c83c" stroke-width="2.4" stroke-dasharray="2.1 3.13"/>
<rect x="109.3" y="94.6" width="9.4" height="9.4" fill="#30c83c"/>
<rect x="139.9" y="83.1" width="9.4" height="9.4" fill="#30c83c"/>
<rect x="170.6" y="79.2" width="9.4" height="9.4" fill="#30c83c"/>
<rect x="201.3" y="79.7" width="9.4" height="9.4" fill="#30c83c"/>
<rect x="231.9" y="73.8" width="9.4" height="9.4" fill="#30c83c"/>
<rect x="262.6" y="66.0" width="9.4" height="9.4" fill="#30c83c"/>
<rect x="293.3" y="64.0" width="9.4" height="9.4" fill="#30c83c"/>
<rect x="323.9" y="63.3" width="9.4" height="9.4" fill="#30c83c"/>
<rect x="354.6" y="62.1" width="9.4" height="9.4" fill="#30c83c"/>
<rect x="385.3" y="55.3" width="9.4" height="9.4" fill="#30c83c"/>
<rect x="415.9" y="53.5" width="9.4" height="9.4" fill="#30c83c"/>
<rect x="446.6" y="54.3" width="9.4" height="9.4" fill="#30c83c"/>
<rect x="477.3" y="52.0" width="9.4" height="9.4" fill="#30c83c"/>
<rect x="507.9" y="50.6" width="9.4" height="9.4" fill="#30c83c"/>
<path clip-path="url(#c)" fill="none" d="M83.3,270.7 L83.7,262.2 L84.2,254.1 L84.6,246.7 L85.1,240.3 L85.5,234.9 L85.9,230.7 L86.4,227.0 L86.8,223.8 L87.2,220.9 L87.7,218.3 L88.1,216.0 L88.6,213.9 L89.0,211.9 L89.4,210.0 L89.9,208.3 L90.3,206.8 L90.7,205.3 L91.2,203.9 L91.6,202.5 L92.1,201.2 L92.5,199.9 L92.9,198.5 L93.4,197.1 L93.8,195.7 L94.3,194.2 L94.7,192.6 L95.1,191.1 L95.6,189.6 L96.0,188.0 L96.4,186.5 L96.9,185.0 L97.3,183.6 L97.8,182.3 L98.2,181.0 L98.6,179.9 L99.1,178.8 L99.5,177.8 L99.9,176.8 L100.4,175.8 L100.8,174.9 L101.3,174.0 L101.7,173.1 L102.1,172.2 L102.6,171.4 L103.0,170.6 L103.5,169.8 L103.9,169.0 L104.3,168.3 L104.8,167.5 L105.2,166.8 L105.6,166.1 L106.1,165.4 L106.5,164.7 L107.0,164.0 L107.4,163.4 L107.8,162.7 L108.3,162.0 L108.7,161.4 L109.1,160.7 L109.6,160.1 L110.0,159.4 L110.5,158.8 L110.9,158.1 L111.3,157.4 L111.8,156.8 L112.2,156.1 L112.7,155.4 L113.1,154.7 L113.5,154.0 L114.0,153.3 L114.4,152.5 L114.8,151.8 L115.3,151.0 L115.7,150.2 L116.2,149.4 L116.6,148.5 L117.0,147.7 L117.5,146.8 L117.9,145.9 L118.3,144.9 L118.8,143.9 L119.2,142.9 L119.7,141.7 L120.1,140.6 L120.5,139.3 L121.0,138.1 L121.4,136.8 L121.9,135.5 L122.3,134.2 L122.7,132.9 L123.2,131.7 L123.6,130.4 L124.0,129.2 L124.5,128.0 L124.9,126.8 L125.4,125.8 L125.8,124.7 L126.2,123.8 L126.7,122.9 L127.1,122.0 L127.5,121.2 L128.0,120.3 L128.4,119.5 L128.9,118.7 L129.3,117.9 L129.7,117.2 L130.2,116.4 L130.6,115.7 L131.1,115.0 L131.5,114.3 L131.9,113.6 L132.4,112.9 L132.8,112.2 L133.2,111.6 L133.7,111.0 L134.1,110.3 L134.6,109.7 L135.0,109.1 L135.4,108.6 L135.9,108.0 L136.3,107.4 L136.7,106.8 L137.2,106.3 L137.6,105.7 L138.1,105.2 L138.5,104.7 L138.9,104.1 L139.4,103.6 L139.8,103.1 L140.3,102.6 L140.7,102.1 L141.1,101.6 L141.6,101.2 L142.0,100.8 L142.4,100.4 L142.9,100.0 L143.3,99.7 L143.8,99.4 L144.2,99.0 L144.6,98.7 L145.1,98.4 L145.5,98.1 L145.9,97.8 L146.4,97.6 L146.8,97.3 L147.3,97.0 L147.7,96.8 L148.1,96.6 L148.6,96.3 L149.0,96.1 L149.5,95.9 L149.9,95.7 L150.3,95.5 L150.8,95.3 L151.2,95.1 L151.6,94.9 L152.1,94.8 L152.5,94.7 L153.0,94.5 L153.4,94.4 L153.8,94.2 L154.3,94.1 L154.7,93.9 L155.1,93.7 L155.6,93.5 L156.0,93.4 L156.5,93.2 L156.9,93.1 L157.3,92.9 L157.8,92.8 L158.2,92.6 L158.7,92.5 L159.1,92.4 L159.5,92.3 L160.0,92.2 L160.4,92.1 L160.8,91.9 L161.3,91.8 L161.7,91.7 L162.2,91.6 L162.6,91.5 L163.0,91.4 L163.5,91.3 L163.9,91.1 L164.3,91.0 L164.8,90.8 L165.2,90.6 L165.7,90.5 L166.1,90.3 L166.5,90.1 L167.0,89.9 L167.4,89.8 L167.9,89.6 L168.3,89.4 L168.7,89.3 L169.2,89.1 L169.6,89.0 L170.0,88.9 L170.5,88.8 L170.9,88.8 L171.4,88.7 L171.8,88.7 L172.2,88.6 L172.7,88.6 L173.1,88.6 L173.5,88.5 L174.0,88.5 L174.4,88.4 L174.9,88.3 L175.3,88.2 L175.7,88.1 L176.2,87.9 L176.6,87.7 L177.1,87.5 L177.5,87.3 L177.9,87.1 L178.4,86.9 L178.8,86.7 L179.2,86.5 L179.7,86.4 L180.1,86.2 L180.6,86.1 L181.0,86.1 L181.4,86.0 L181.9,86.0 L182.3,86.1 L182.7,86.1 L183.2,86.2 L183.6,86.3 L184.1,86.4 L184.5,86.6 L184.9,86.7 L185.4,86.8 L185.8,86.9 L186.3,87.0 L186.7,87.1 L187.1,87.2 L187.6,87.3 L188.0,87.3 L188.4,87.3 L188.9,87.3 L189.3,87.3 L189.8,87.3 L190.2,87.3 L190.6,87.3 L191.1,87.4 L191.5,87.4 L191.9,87.4 L192.4,87.4 L192.8,87.4 L193.3,87.5 L193.7,87.5 L194.1,87.4 L194.6,87.4 L195.0,87.4 L195.5,87.4 L195.9,87.3 L196.3,87.3 L196.8,87.2 L197.2,87.2 L197.6,87.1 L198.1,87.1 L198.5,87.0 L199.0,87.0 L199.4,87.0 L199.8,87.0 L200.3,87.0 L200.7,87.0 L201.1,87.0 L201.6,87.0 L202.0,87.1 L202.5,87.1 L202.9,87.2 L203.3,87.3 L203.8,87.3 L204.2,87.4 L204.7,87.4 L205.1,87.5 L205.5,87.5 L206.0,87.5 L206.4,87.5 L206.8,87.4 L207.3,87.4 L207.7,87.3 L208.2,87.2 L208.6,87.1 L209.0,87.0 L209.5,86.9 L209.9,86.8 L210.3,86.7 L210.8,86.7 L211.2,86.6 L211.7,86.6 L212.1,86.6 L212.5,86.7 L213.0,86.7 L213.4,86.8 L213.9,86.9 L214.3,87.1 L214.7,87.3 L215.2,87.4 L215.6,87.6 L216.0,87.8 L216.5,88.0 L216.9,88.2 L217.4,88.4 L217.8,88.5 L218.2,88.7 L218.7,88.8 L219.1,88.9 L219.5,89.0 L220.0,89.0 L220.4,89.1 L220.9,89.1 L221.3,89.1 L221.7,89.1 L222.2,89.1 L222.6,89.0 L223.1,89.0 L223.5,89.0 L223.9,89.0 L224.4,89.0 L224.8,89.1 L225.2,89.1 L225.7,89.1 L226.1,89.1 L226.6,89.1 L227.0,89.1 L227.4,89.0 L227.9,89.0 L228.3,88.9 L228.7,88.9 L229.2,88.8 L229.6,88.7 L230.1,88.6 L230.5,88.4 L230.9,88.3 L231.4,88.1 L231.8,88.0 L232.3,87.8 L232.7,87.6 L233.1,87.4 L233.6,87.2 L234.0,87.0 L234.4,86.7 L234.9,86.5 L235.3,86.3 L235.8,86.1 L236.2,85.9 L236.6,85.7 L237.1,85.5 L237.5,85.3 L237.9,85.1 L238.4,84.9 L238.8,84.8 L239.3,84.6 L239.7,84.4 L240.1,84.2 L240.6,84.0 L241.0,83.9 L241.5,83.7 L241.9,83.5 L242.3,83.2 L242.8,83.0 L243.2,82.8 L243.6,82.5 L244.1,82.3 L244.5,82.0 L245.0,81.7 L245.4,81.5 L245.8,81.2 L246.3,81.0 L246.7,80.7 L247.1,80.5 L247.6,80.3 L248.0,80.1 L248.5,80.0 L248.9,79.8 L249.3,79.8 L249.8,79.7 L250.2,79.6 L250.7,79.6 L251.1,79.6 L251.5,79.6 L252.0,79.6 L252.4,79.6 L252.8,79.6 L253.3,79.5 L253.7,79.5 L254.2,79.4 L254.6,79.4 L255.0,79.3 L255.5,79.1 L255.9,79.0 L256.3,78.8 L256.8,78.7 L257.2,78.5 L257.7,78.4 L258.1,78.2 L258.5,78.1 L259.0,78.0 L259.4,77.9 L259.9,77.7 L260.3,77.6 L260.7,77.4 L261.2,77.2 L261.6,77.0 L262.0,76.7 L262.5,76.5 L262.9,76.2 L263.4,75.9 L263.8,75.7 L264.2,75.4 L264.7,75.1 L265.1,74.9 L265.5,74.7 L266.0,74.5 L266.4,74.3 L266.9,74.2 L267.3,74.1 L267.7,74.0 L268.2,74.0 L268.6,74.0 L269.1,74.1 L269.5,74.2 L269.9,74.3 L270.4,74.5 L270.8,74.7 L271.2,75.0 L271.7,75.3 L272.1,75.6 L272.6,75.9 L273.0,76.2 L273.4,76.6 L273.9,76.9 L274.3,77.2 L274.7,77.5 L275.2,77.8 L275.6,78.0 L276.1,78.2 L276.5,78.3 L276.9,78.4 L277.4,78.5 L277.8,78.5 L278.3,78.4 L278.7,78.3 L279.1,78.1 L279.6,77.9 L280.0,77.7 L280.4,77.5 L280.9,77.2 L281.3,76.9 L281.8,76.6 L282.2,76.3 L282.6,76.0 L283.1,75.8 L283.5,75.5 L283.9,75.2 L284.4,75.0 L284.8,74.8 L285.3,74.6 L285.7,74.4 L286.1,74.2 L286.6,74.1 L287.0,73.9 L287.5,73.8 L287.9,73.7 L288.3,73.5 L288.8,73.4 L289.2,73.2 L289.6,73.1 L290.1,72.9 L290.5,72.8 L291.0,72.6 L291.4,72.4 L291.8,72.2 L292.3,72.0 L292.7,71.8 L293.1,71.6 L293.6,71.3 L294.0,71.4 L294.5,71.5 L294.9,71.6 L295.3,71.7 L295.8,71.8 L296.2,72.0 L296.7,72.1 L297.1,72.2 L297.5,72.3 L298.0,72.4 L298.4,72.4 L298.8,72.5 L299.3,72.5 L299.7,72.6 L300.2,72.6 L300.6,72.6 L301.0,72.5 L301.5,72.5 L301.9,72.4 L302.3,72.3 L302.8,72.2 L303.2,72.0 L303.7,71.9 L304.1,71.7 L304.5,71.6 L305.0,71.4 L305.4,71.3 L305.9,71.1 L306.3,71.0 L306.7,70.9 L307.2,70.7 L307.6,70.6 L308.0,70.5 L308.5,70.4 L308.9,70.3 L309.4,70.2 L309.8,70.1 L310.2,70.0 L310.7,69.9 L311.1,69.8 L311.6,69.7 L312.0,69.6 L312.4,69.4 L312.9,69.3 L313.3,69.1 L313.7,69.0 L314.2,68.8 L314.6,68.7 L315.1,68.5 L315.5,68.4 L315.9,68.2 L316.4,68.1 L316.8,68.0 L317.2,67.9 L317.7,67.7 L318.1,67.6 L318.6,67.5 L319.0,67.4 L319.4,67.3 L319.9,67.3 L320.3,67.2 L320.8,67.1 L321.2,67.0 L321.6,66.9 L322.1,66.9 L322.5,66.8 L322.9,66.7 L323.4,66.6 L323.8,66.5 L324.3,66.5 L324.7,66.4 L325.1,66.3 L325.6,66.3 L326.0,66.3 L326.4,66.2 L326.9,66.2 L327.3,66.3 L327.8,66.3 L328.2,66.4 L328.6,66.4 L329.1,66.3 L329.5,66.2 L330.0,66.1 L330.4,66.0 L330.8,65.9 L331.3,65.7 L331.7,65.6 L332.1,65.5 L332.6,65.3 L333.0,65.2 L333.5,65.1 L333.9,65.1 L334.3,65.0 L334.8,64.9 L335.2,64.9 L335.6,64.8 L336.1,64.8 L336.5,64.8 L337.0,64.8 L337.4,64.8 L337.8,64.8 L338.3,64.8 L338.7,64.7 L339.2,64.7 L339.6,64.7 L340.0,64.7 L340.5,64.7 L340.9,64.6 L341.3,64.5 L341.8,64.5 L342.2,64.4 L342.7,64.3 L343.1,64.2 L343.5,64.0 L344.0,63.9 L344.4,63.8 L344.8,63.6 L345.3,63.5 L345.7,63.3 L346.2,63.2 L346.6,63.0 L347.0,62.9 L347.5,62.8 L347.9,62.7 L348.4,62.7 L348.8,62.6 L349.2,62.6 L349.7,62.6 L350.1,62.6 L350.5,62.7 L351.0,62.7 L351.4,62.8 L351.9,62.9 L352.3,63.0 L352.7,63.1 L353.2,63.3 L353.6,63.4 L354.0,63.5 L354.5,63.6 L354.9,63.7 L355.4,63.9 L355.8,64.0 L356.2,64.1 L356.7,64.2 L357.1,64.3 L357.6,64.4 L358.0,64.5 L358.4,64.6 L358.9,64.7 L359.3,64.8 L359.7,64.9 L360.2,65.1 L360.6,65.2 L361.1,65.4 L361.5,65.5 L361.9,65.7 L362.4,65.9 L362.8,66.1 L363.2,66.3 L363.7,66.4 L364.1,66.3 L364.6,66.1 L365.0,66.0 L365.4,65.8 L365.9,65.7 L366.3,65.6 L366.8,65.5 L367.2,65.4 L367.6,65.4 L368.1,65.4 L368.5,65.3 L368.9,65.3 L369.4,65.3 L369.8,65.3 L370.3,65.4 L370.7,65.4 L371.1,65.4 L371.6,65.4 L372.0,65.4 L372.4,65.4 L372.9,65.4 L373.3,65.4 L373.8,65.4 L374.2,65.4 L374.6,65.5 L375.1,65.5 L375.5,65.5 L376.0,65.5 L376.4,65.6 L376.8,65.6 L377.3,65.7 L377.7,65.8 L378.1,65.9 L378.6,66.1 L379.0,66.2 L379.5,66.4 L379.9,66.6 L380.3,66.8 L380.8,67.0 L381.2,67.2 L381.6,67.4 L382.1,67.6 L382.5,67.8 L383.0,67.9 L383.4,68.1 L383.8,68.2 L384.3,68.3 L384.7,68.4 L385.2,68.4 L385.6,68.4 L386.0,68.3 L386.5,68.2 L386.9,68.1 L387.3,67.9 L387.8,67.8 L388.2,67.5 L388.7,67.3 L389.1,67.1 L389.5,66.8 L390.0,66.6 L390.4,66.3 L390.8,66.1 L391.3,65.9 L391.7,65.7 L392.2,65.5 L392.6,65.4 L393.0,65.3 L393.5,65.2 L393.9,65.1 L394.4,65.1 L394.8,65.1 L395.2,65.1 L395.7,65.1 L396.1,65.2 L396.5,65.2 L397.0,65.3 L397.4,65.3 L397.9,65.4 L398.3,65.4 L398.7,65.5 L399.2,65.4 L399.6,65.3 L400.0,65.2 L400.5,65.1 L400.9,65.0 L401.4,64.9 L401.8,64.8 L402.2,64.6 L402.7,64.5 L403.1,64.4 L403.6,64.2 L404.0,64.0 L404.4,63.9 L404.9,63.7 L405.3,63.5 L405.7,63.2 L406.2,63.0 L406.6,62.8 L407.1,62.5 L407.5,62.3 L407.9,62.0 L408.4,61.7 L408.8,61.4 L409.2,61.1 L409.7,60.8 L410.1,60.5 L410.6,60.1 L411.0,59.8 L411.4,59.5 L411.9,59.3 L412.3,59.0 L412.8,58.8 L413.2,58.6 L413.6,58.5 L414.1,58.5 L414.5,58.4 L414.9,58.5 L415.4,58.6 L415.8,58.7 L416.3,58.9 L416.7,59.2 L417.1,59.5 L417.6,59.8 L418.0,60.1 L418.4,60.4 L418.9,60.8 L419.3,61.1 L419.8,61.5 L420.2,61.8 L420.6,62.1 L421.1,62.3 L421.5,62.6 L422.0,62.8 L422.4,62.9 L422.8,63.1 L423.3,63.2 L423.7,63.3 L424.1,63.4 L424.6,63.4 L425.0,63.4 L425.5,63.5 L425.9,63.4 L426.3,63.4 L426.8,63.4 L427.2,63.4 L427.6,63.3 L428.1,63.3 L428.5,63.2 L429.0,63.1 L429.4,63.1 L429.8,63.0 L430.3,62.9 L430.7,62.9 L431.2,62.8 L431.6,62.7 L432.0,62.7 L432.5,62.7 L432.9,62.6 L433.3,62.6 L433.8,62.6 L434.2,62.6 L434.7,62.5 L435.1,62.5 L435.5,62.4 L436.0,62.3 L436.4,62.2 L436.8,62.2 L437.3,62.1 L437.7,62.0 L438.2,62.0 L438.6,61.9 L439.0,61.9 L439.5,61.9 L439.9,61.9 L440.4,61.8 L440.8,61.8 L441.2,61.8 L441.7,61.8 L442.1,61.8 L442.5,61.7 L443.0,61.7 L443.4,61.6 L443.9,61.6 L444.3,61.5 L444.7,61.4 L445.2,61.3 L445.6,61.2 L446.0,61.1 L446.5,61.0 L446.9,61.0 L447.4,60.9 L447.8,60.8 L448.2,60.8 L448.7,60.8 L449.1,60.8 L449.6,60.8 L450.0,60.9 L450.4,60.9 L450.9,61.0 L451.3,61.1 L451.7,61.2 L452.2,61.3 L452.6,61.4 L453.1,61.5 L453.5,61.6 L453.9,61.7 L454.4,61.8 L454.8,61.8 L455.2,61.8 L455.7,61.9 L456.1,61.9 L456.6,61.9 L457.0,61.8 L457.4,61.8 L457.9,61.8 L458.3,61.8 L458.8,61.7 L459.2,61.7 L459.6,61.7 L460.1,61.7 L460.5,61.7 L460.9,61.7 L461.4,61.7 L461.8,61.7 L462.3,61.7 L462.7,61.7 L463.1,61.7 L463.6,61.8 L464.0,61.8 L464.4,61.8 L464.9,61.8 L465.3,61.8 L465.8,61.9 L466.2,61.9 L466.6,61.9 L467.1,61.9 L467.5,61.9 L468.0,61.9 L468.4,61.9 L468.8,62.0 L469.3,61.9 L469.7,61.8 L470.1,61.7 L470.6,61.6 L471.0,61.5 L471.5,61.3 L471.9,61.2 L472.3,61.0 L472.8,60.8 L473.2,60.6 L473.6,60.4 L474.1,60.2 L474.5,60.0 L475.0,59.8 L475.4,59.7 L475.8,59.5 L476.3,59.4 L476.7,59.3 L477.2,59.2 L477.6,59.2 L478.0,59.1 L478.5,59.1 L478.9,59.1 L479.3,59.1 L479.8,59.2 L480.2,59.3 L480.7,59.3 L481.1,59.4 L481.5,59.6 L482.0,59.7 L482.4,59.9 L482.8,60.0 L483.3,60.2 L483.7,60.5 L484.2,60.7 L484.6,60.9 L485.0,61.2 L485.5,61.4 L485.9,61.7 L486.4,62.0 L486.8,62.2 L487.2,62.5 L487.7,62.7 L488.1,62.9 L488.5,63.1 L489.0,63.3 L489.4,63.4 L489.9,63.5 L490.3,63.6 L490.7,63.6 L491.2,63.6 L491.6,63.6 L492.0,63.5 L492.5,63.4 L492.9,63.3 L493.4,63.2 L493.8,63.0 L494.2,62.9 L494.7,62.7 L495.1,62.5 L495.6,62.3 L496.0,62.2 L496.4,62.0 L496.9,61.9 L497.3,61.7 L497.7,61.6 L498.2,61.5 L498.6,61.4 L499.1,61.3 L499.5,61.3 L499.9,61.3 L500.4,61.2 L500.8,61.2 L501.2,61.3 L501.7,61.3 L502.1,61.3 L502.6,61.3 L503.0,61.4 L503.4,61.4 L503.9,61.4 L504.3,61.4 L504.8,61.3 L505.2,61.3 L505.6,61.3 L506.1,61.3 L506.5,61.3 L506.9,61.2 L507.4,61.2 L507.8,61.2 L508.3,61.2 L508.7,61.3 L509.1,61.3 L509.6,61.3 L510.0,61.3 L510.4,61.3 L510.9,61.3 L511.3,61.3 L511.8,61.4 L512.2,61.4 L512.6,61.4 L513.1,61.5 L513.5,61.5 L514.0,61.5 L514.4,61.6 L514.8,61.6 L515.3,61.7 L515.7,61.7 L516.1,61.7 L516.6,61.7 L517.0,61.8 L517.5,61.8 L517.9,61.7 L518.3,61.7 L518.8,61.6 L519.2,61.5 L519.6,61.4 L520.1,61.3 L520.5,61.2 L521.0,61.0" stroke="#1a73e0" stroke-width="2.4" stroke-dasharray="2.1 3.13"/>
<path d="M118.3,140.0 L123.3,149.8 L113.3,149.8Z" fill="#1a73e0"/>
<path d="M153.4,89.5 L158.4,99.3 L148.4,99.3Z" fill="#1a73e0"/>
<path d="M188.4,82.4 L193.4,92.2 L183.4,92.2Z" fill="#1a73e0"/>
<path d="M223.5,84.1 L228.5,93.9 L218.5,93.9Z" fill="#1a73e0"/>
<path d="M258.5,73.2 L263.5,83.0 L253.5,83.0Z" fill="#1a73e0"/>
<path d="M293.6,66.4 L298.6,76.2 L288.6,76.2Z" fill="#1a73e0"/>
<path d="M328.6,61.5 L333.6,71.3 L323.6,71.3Z" fill="#1a73e0"/>
<path d="M363.7,61.5 L368.7,71.3 L358.7,71.3Z" fill="#1a73e0"/>
<path d="M398.7,60.6 L403.7,70.4 L393.7,70.4Z" fill="#1a73e0"/>
<path d="M433.8,57.7 L438.8,67.5 L428.8,67.5Z" fill="#1a73e0"/>
<path d="M468.8,57.1 L473.8,66.9 L463.8,66.9Z" fill="#1a73e0"/>
<path d="M503.9,56.5 L508.9,66.3 L498.9,66.3Z" fill="#1a73e0"/>
<rect x="83.3" y="14.95" width="438.09999999999997" height="326.55" fill="none" stroke="#000" stroke-width="1.2"/>
<path d="M83.30,341.5 v4.4 M192.82,341.5 v4.4 M302.35,341.5 v4.4 M411.88,341.5 v4.4 M521.40,341.5 v4.4 M83.3,341.50 h-5.0 M83.3,287.07 h-5.0 M83.3,232.65 h-5.0 M83.3,178.22 h-5.0 M83.3,123.80 h-5.0 M83.3,69.38 h-5.0 M83.3,14.95 h-5.0" stroke="#000" stroke-width="1.2" fill="none"/>
<g font-family="'DejaVu Sans','Liberation Sans',sans-serif" font-size="18.35" fill="#000" stroke="#000" stroke-width="0.25">
<text x="83.3" y="364.5" text-anchor="middle">0</text>
<text x="192.8" y="364.5" text-anchor="middle">500</text>
<text x="302.3" y="364.5" text-anchor="middle">1000</text>
<text x="411.9" y="364.5" text-anchor="middle">1500</text>
<text x="521.4" y="364.5" text-anchor="middle">2000</text>
<text x="74.3" y="348.4" text-anchor="end">0</text>
<text x="74.3" y="294.0" text-anchor="end">500</text>
<text x="74.3" y="239.6" text-anchor="end">1000</text>
<text x="74.3" y="185.1" text-anchor="end">1500</text>
<text x="74.3" y="130.7" text-anchor="end">2000</text>
<text x="74.3" y="76.3" text-anchor="end">2500</text>
<text x="74.3" y="21.8" text-anchor="end">3000</text>
<text x="302.0" y="388.1" text-anchor="middle">Episodes</text>
<text transform="translate(19.2,178.4) rotate(-90)" text-anchor="middle">Reward</text>
</g>
<rect x="176.8" y="228.6" width="335.40000000000003" height="103.9" rx="3.6" fill="#fff" fill-opacity="0.8" stroke="#ccc" stroke-opacity="0.8" stroke-width="1.05" />
<path d="M183.8,246.7 H220.6" stroke="#f74234" stroke-width="2.4" stroke-dasharray="2.1 3.13" fill="none" />
<circle cx="202.2" cy="246.7" r="4.7" fill="#f74234"/>
<path d="M183.8,279.4 H220.6" stroke="#30c83c" stroke-width="2.4" stroke-dasharray="2.1 3.13" fill="none" />
<rect x="197.5" y="274.7" width="9.4" height="9.4" fill="#30c83c"/>
<path d="M183.8,312.3 H220.6" stroke="#1a73e0" stroke-width="2.4" stroke-dasharray="2.1 3.13" fill="none" />
<path d="M202.2,307.4 L207.2,317.2 L197.2,317.2Z" fill="#1a73e0"/>
<g font-family="'DejaVu Sans','Liberation Sans',sans-serif" font-size="18.35" fill="#000" stroke="#000" stroke-width="0.25">
<text><tspan x="235.00" y="253.16">(</tspan><tspan x="242.16" y="253.16" font-style="italic">lr</tspan><tspan x="254.80" y="256.17" font-style="italic" font-size="12.85">μ</tspan><tspan x="263.48" y="253.16">,</tspan><tspan x="272.88" y="253.16" font-style="italic">lr</tspan><tspan x="285.53" y="256.17" font-style="italic" font-size="12.85">Q</tspan><tspan x="296.14" y="253.16">)</tspan><tspan x="306.87" y="253.16">=</tspan><tspan x="325.82" y="253.16">(1</tspan><tspan x="348.23" y="253.16">×</tspan><tspan x="367.18" y="253.16">10</tspan><tspan x="390.71" y="246.13" font-size="12.85">−3</tspan><tspan x="410.14" y="253.16">,</tspan><tspan x="419.55" y="253.16">1</tspan><tspan x="434.80" y="253.16">×</tspan><tspan x="453.75" y="253.16">10</tspan><tspan x="477.28" y="246.13" font-size="12.85">−3</tspan><tspan x="496.71" y="253.16">)</tspan></text>
<text><tspan x="235.00" y="285.87">(</tspan><tspan x="242.16" y="285.87" font-style="italic">lr</tspan><tspan x="254.80" y="288.88" font-style="italic" font-size="12.85">μ</tspan><tspan x="263.48" y="285.87">,</tspan><tspan x="272.88" y="285.87" font-style="italic">lr</tspan><tspan x="285.53" y="288.88" font-style="italic" font-size="12.85">Q</tspan><tspan x="296.14" y="285.87">)</tspan><tspan x="306.87" y="285.87">=</tspan><tspan x="325.82" y="285.87">(1</tspan><tspan x="348.23" y="285.87">×</tspan><tspan x="367.18" y="285.87">10</tspan><tspan x="390.71" y="278.85" font-size="12.85">−4</tspan><tspan x="410.14" y="285.87">,</tspan><tspan x="419.55" y="285.87">1</tspan><tspan x="434.80" y="285.87">×</tspan><tspan x="453.75" y="285.87">10</tspan><tspan x="477.28" y="278.85" font-size="12.85">−4</tspan><tspan x="496.71" y="285.87">)</tspan></text>
<text><tspan x="235.00" y="318.77">(</tspan><tspan x="242.16" y="318.77" font-style="italic">lr</tspan><tspan x="254.80" y="321.78" font-style="italic" font-size="12.85">μ</tspan><tspan x="263.48" y="318.77">,</tspan><tspan x="272.88" y="318.77" font-style="italic">lr</tspan><tspan x="285.53" y="321.78" font-style="italic" font-size="12.85">Q</tspan><tspan x="296.14" y="318.77">)</tspan><tspan x="306.87" y="318.77">=</tspan><tspan x="325.82" y="318.77">(1</tspan><tspan x="348.23" y="318.77">×</tspan><tspan x="367.18" y="318.77">10</tspan><tspan x="390.71" y="311.75" font-size="12.85">−5</tspan><tspan x="410.14" y="318.77">,</tspan><tspan x="419.55" y="318.77">5</tspan><tspan x="434.80" y="318.77">×</tspan><tspan x="453.75" y="318.77">10</tspan><tspan x="477.28" y="311.75" font-size="12.85">−5</tspan><tspan x="496.71" y="318.77">)</tspan></text>
</g>
</svg>
</body></html>
